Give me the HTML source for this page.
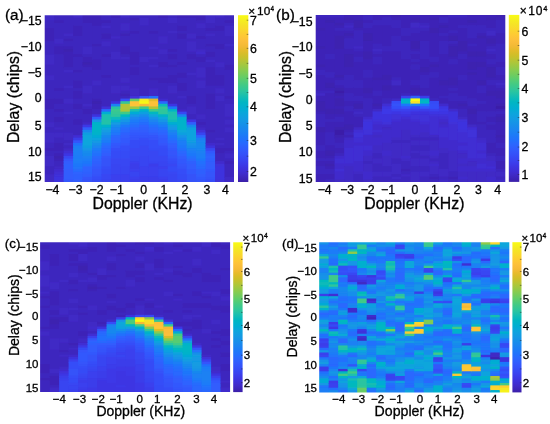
<!DOCTYPE html>
<html lang="en"><head><meta charset="utf-8"><title>Delay-Doppler maps</title>
<style>
html,body{margin:0;padding:0;background:#fff}
svg{display:block}
text{font-family:"Liberation Sans",Arial,sans-serif;fill:#000;stroke:#000;stroke-width:0.3px}
</style></head><body>
<svg width="550" height="424" viewBox="0 0 550 424">
<defs><filter id="soft" x="-2%" y="-2%" width="104%" height="104%"><feGaussianBlur stdDeviation="0.65"/></filter></defs>
<rect width="550" height="424" fill="#fff"/>
<g class="hm" id="hm-a">
<clipPath id="clip-a"><rect x="44.70" y="15.20" width="189.30" height="166.80"/></clipPath>
<g clip-path="url(#clip-a)"><g filter="url(#soft)">
<g transform="translate(41.70 0)">
<rect y="12.20" width="13.46" height="9.21" fill="#4029c5"/>
<rect y="20.41" width="13.46" height="8.82" fill="#3e27be"/>
<rect y="28.23" width="13.46" height="14.03" fill="#3d24b7"/>
<rect y="41.26" width="13.46" height="14.03" fill="#3e27be"/>
<rect y="54.29" width="13.46" height="11.42" fill="#4029c5"/>
<rect y="64.72" width="13.46" height="11.42" fill="#3e27be"/>
<rect y="75.14" width="13.46" height="6.21" fill="#4029c5"/>
<rect y="80.36" width="13.46" height="19.24" fill="#3e27be"/>
<rect y="98.60" width="13.46" height="11.42" fill="#3d24b7"/>
<rect y="109.03" width="13.46" height="14.03" fill="#3e27be"/>
<rect y="122.06" width="13.46" height="6.21" fill="#4029c5"/>
<rect y="127.27" width="13.46" height="6.21" fill="#3e27be"/>
<rect y="132.48" width="13.46" height="11.42" fill="#4029c5"/>
<rect y="142.91" width="13.46" height="6.21" fill="#3e27be"/>
<rect y="148.12" width="13.46" height="3.61" fill="#3d24b7"/>
<rect y="150.72" width="13.46" height="6.21" fill="#3e27be"/>
<rect y="155.94" width="13.46" height="11.43" fill="#4029c5"/>
<rect y="166.36" width="13.46" height="8.82" fill="#3e27be"/>
<rect y="174.18" width="13.46" height="10.82" fill="#4029c5"/>
</g>
<g transform="translate(54.17 0)">
<rect y="12.20" width="10.46" height="9.21" fill="#3e27be"/>
<rect y="20.41" width="10.46" height="3.61" fill="#3d24b7"/>
<rect y="23.02" width="10.46" height="16.64" fill="#3e27be"/>
<rect y="38.66" width="10.46" height="6.21" fill="#4029c5"/>
<rect y="43.87" width="10.46" height="3.61" fill="#3e27be"/>
<rect y="46.48" width="10.46" height="8.82" fill="#3d24b7"/>
<rect y="54.29" width="10.46" height="34.88" fill="#3e27be"/>
<rect y="88.18" width="10.46" height="3.61" fill="#3d24b7"/>
<rect y="90.78" width="10.46" height="8.82" fill="#3e27be"/>
<rect y="98.60" width="10.46" height="6.21" fill="#3d24b7"/>
<rect y="103.81" width="10.46" height="6.21" fill="#3e27be"/>
<rect y="109.03" width="10.46" height="3.61" fill="#3d24b7"/>
<rect y="111.63" width="10.46" height="6.21" fill="#3e27be"/>
<rect y="116.84" width="10.46" height="6.21" fill="#3d24b7"/>
<rect y="122.06" width="10.46" height="6.21" fill="#3e27be"/>
<rect y="127.27" width="10.46" height="3.61" fill="#4029c5"/>
<rect y="129.88" width="10.46" height="3.61" fill="#3e27be"/>
<rect y="132.48" width="10.46" height="6.21" fill="#4029c5"/>
<rect y="137.69" width="10.46" height="6.21" fill="#3e27be"/>
<rect y="142.91" width="10.46" height="8.82" fill="#3d24b7"/>
<rect y="150.72" width="10.46" height="3.61" fill="#3e27be"/>
<rect y="153.33" width="10.46" height="3.61" fill="#3d24b7"/>
<rect y="155.94" width="10.46" height="3.61" fill="#3c22b0"/>
<rect y="158.54" width="10.46" height="3.61" fill="#3d24b7"/>
<rect y="161.15" width="10.46" height="6.21" fill="#3e27be"/>
<rect y="166.36" width="10.46" height="3.61" fill="#4029c5"/>
<rect y="168.97" width="10.46" height="3.61" fill="#402ccc"/>
<rect y="171.57" width="10.46" height="3.61" fill="#402dd3"/>
<rect y="174.18" width="10.46" height="3.61" fill="#3f30d9"/>
<rect y="176.79" width="10.46" height="8.21" fill="#3e32de"/>
</g>
<g transform="translate(63.63 0)">
<rect y="12.20" width="10.46" height="22.24" fill="#3e27be"/>
<rect y="33.44" width="10.46" height="3.61" fill="#4029c5"/>
<rect y="36.05" width="10.46" height="3.61" fill="#3e27be"/>
<rect y="38.66" width="10.46" height="3.61" fill="#3d24b7"/>
<rect y="41.26" width="10.46" height="6.21" fill="#3e27be"/>
<rect y="46.48" width="10.46" height="3.61" fill="#3d24b7"/>
<rect y="49.08" width="10.46" height="3.61" fill="#3c22b0"/>
<rect y="51.69" width="10.46" height="16.64" fill="#3d24b7"/>
<rect y="67.33" width="10.46" height="3.61" fill="#3e27be"/>
<rect y="69.93" width="10.46" height="3.61" fill="#4029c5"/>
<rect y="72.54" width="10.46" height="14.03" fill="#3e27be"/>
<rect y="85.57" width="10.46" height="3.61" fill="#4029c5"/>
<rect y="88.18" width="10.46" height="11.42" fill="#3e27be"/>
<rect y="98.60" width="10.46" height="6.21" fill="#4029c5"/>
<rect y="103.81" width="10.46" height="8.82" fill="#3e27be"/>
<rect y="111.63" width="10.46" height="3.61" fill="#4029c5"/>
<rect y="114.24" width="10.46" height="19.24" fill="#3e27be"/>
<rect y="132.48" width="10.46" height="8.82" fill="#4029c5"/>
<rect y="140.30" width="10.46" height="3.61" fill="#3e27be"/>
<rect y="142.91" width="10.46" height="3.61" fill="#4029c5"/>
<rect y="145.51" width="10.46" height="3.61" fill="#3e27be"/>
<rect y="148.12" width="10.46" height="3.61" fill="#4029c5"/>
<rect y="150.72" width="10.46" height="3.61" fill="#402dd3"/>
<rect y="153.33" width="10.46" height="3.61" fill="#3d35e3"/>
<rect y="155.94" width="10.46" height="3.61" fill="#3847f3"/>
<rect y="158.54" width="10.46" height="3.61" fill="#3455fb"/>
<rect y="161.15" width="10.46" height="3.61" fill="#315dfd"/>
<rect y="163.76" width="10.46" height="6.21" fill="#2f60fe"/>
<rect y="168.97" width="10.46" height="11.43" fill="#315dfd"/>
<rect y="179.39" width="10.46" height="5.61" fill="#3359fd"/>
</g>
<g transform="translate(73.09 0)">
<rect y="12.20" width="10.46" height="6.61" fill="#4029c5"/>
<rect y="17.81" width="10.46" height="8.82" fill="#3e27be"/>
<rect y="25.62" width="10.46" height="11.42" fill="#3d24b7"/>
<rect y="36.05" width="10.46" height="19.24" fill="#3e27be"/>
<rect y="54.29" width="10.46" height="3.61" fill="#3d24b7"/>
<rect y="56.90" width="10.46" height="14.03" fill="#3e27be"/>
<rect y="69.93" width="10.46" height="3.61" fill="#3d24b7"/>
<rect y="72.54" width="10.46" height="8.82" fill="#3e27be"/>
<rect y="80.36" width="10.46" height="8.82" fill="#3d24b7"/>
<rect y="88.18" width="10.46" height="3.61" fill="#3e27be"/>
<rect y="90.78" width="10.46" height="8.82" fill="#3d24b7"/>
<rect y="98.60" width="10.46" height="6.21" fill="#3e27be"/>
<rect y="103.81" width="10.46" height="6.21" fill="#3d24b7"/>
<rect y="109.03" width="10.46" height="11.42" fill="#3e27be"/>
<rect y="119.45" width="10.46" height="6.21" fill="#3d24b7"/>
<rect y="124.66" width="10.46" height="11.42" fill="#3e27be"/>
<rect y="135.09" width="10.46" height="3.61" fill="#402dd3"/>
<rect y="137.69" width="10.46" height="3.61" fill="#3b3cea"/>
<rect y="140.30" width="10.46" height="3.61" fill="#3455fb"/>
<rect y="142.91" width="10.46" height="3.61" fill="#2270fd"/>
<rect y="145.51" width="10.46" height="3.61" fill="#1b7ef6"/>
<rect y="148.12" width="10.46" height="3.61" fill="#1b81f3"/>
<rect y="150.72" width="10.46" height="6.21" fill="#1b7ef6"/>
<rect y="155.94" width="10.46" height="3.61" fill="#1c7bf8"/>
<rect y="158.54" width="10.46" height="3.61" fill="#1b7ef6"/>
<rect y="161.15" width="10.46" height="3.61" fill="#1c7bf8"/>
<rect y="163.76" width="10.46" height="3.61" fill="#1e77fa"/>
<rect y="166.36" width="10.46" height="3.61" fill="#2074fb"/>
<rect y="168.97" width="10.46" height="3.61" fill="#256cfd"/>
<rect y="171.57" width="10.46" height="3.61" fill="#2d64ff"/>
<rect y="174.18" width="10.46" height="6.21" fill="#2f60fe"/>
<rect y="179.39" width="10.46" height="5.61" fill="#315dfd"/>
</g>
<g transform="translate(82.56 0)">
<rect y="12.20" width="10.46" height="11.82" fill="#3d24b7"/>
<rect y="23.02" width="10.46" height="24.46" fill="#3e27be"/>
<rect y="46.48" width="10.46" height="8.82" fill="#4029c5"/>
<rect y="54.29" width="10.46" height="3.61" fill="#3e27be"/>
<rect y="56.90" width="10.46" height="6.21" fill="#3d24b7"/>
<rect y="62.11" width="10.46" height="3.61" fill="#3c22b0"/>
<rect y="64.72" width="10.46" height="3.61" fill="#3d24b7"/>
<rect y="67.33" width="10.46" height="19.24" fill="#3e27be"/>
<rect y="85.57" width="10.46" height="8.82" fill="#4029c5"/>
<rect y="93.39" width="10.46" height="11.43" fill="#3e27be"/>
<rect y="103.81" width="10.46" height="3.61" fill="#4029c5"/>
<rect y="106.42" width="10.46" height="3.61" fill="#3e27be"/>
<rect y="109.03" width="10.46" height="6.21" fill="#3d24b7"/>
<rect y="114.24" width="10.46" height="8.82" fill="#3e27be"/>
<rect y="122.06" width="10.46" height="3.61" fill="#4029c5"/>
<rect y="124.66" width="10.46" height="3.61" fill="#3c39e7"/>
<rect y="127.27" width="10.46" height="3.61" fill="#315dfd"/>
<rect y="129.88" width="10.46" height="3.61" fill="#1988ee"/>
<rect y="132.48" width="10.46" height="3.61" fill="#109fe0"/>
<rect y="135.09" width="10.46" height="11.42" fill="#0ca6dc"/>
<rect y="145.51" width="10.46" height="3.61" fill="#109fe0"/>
<rect y="148.12" width="10.46" height="3.61" fill="#1496e6"/>
<rect y="150.72" width="10.46" height="3.61" fill="#188cec"/>
<rect y="153.33" width="10.46" height="3.61" fill="#1988ee"/>
<rect y="155.94" width="10.46" height="3.61" fill="#1b81f3"/>
<rect y="158.54" width="10.46" height="3.61" fill="#1c7bf8"/>
<rect y="161.15" width="10.46" height="3.61" fill="#1e77fa"/>
<rect y="163.76" width="10.46" height="3.61" fill="#2270fd"/>
<rect y="166.36" width="10.46" height="6.21" fill="#2d64ff"/>
<rect y="171.57" width="10.46" height="3.61" fill="#2f60fe"/>
<rect y="174.18" width="10.46" height="3.61" fill="#315dfd"/>
<rect y="176.79" width="10.46" height="3.61" fill="#3455fb"/>
<rect y="179.39" width="10.46" height="5.61" fill="#3552f9"/>
</g>
<g transform="translate(92.03 0)">
<rect y="12.20" width="10.46" height="14.43" fill="#3d24b7"/>
<rect y="25.62" width="10.46" height="19.24" fill="#3e27be"/>
<rect y="43.87" width="10.46" height="3.61" fill="#3d24b7"/>
<rect y="46.48" width="10.46" height="14.03" fill="#3e27be"/>
<rect y="59.51" width="10.46" height="11.42" fill="#3d24b7"/>
<rect y="69.93" width="10.46" height="11.42" fill="#3e27be"/>
<rect y="80.36" width="10.46" height="6.21" fill="#4029c5"/>
<rect y="85.57" width="10.46" height="14.03" fill="#3e27be"/>
<rect y="98.60" width="10.46" height="3.61" fill="#3d24b7"/>
<rect y="101.21" width="10.46" height="3.61" fill="#3c22b0"/>
<rect y="103.81" width="10.46" height="6.21" fill="#3d24b7"/>
<rect y="109.03" width="10.46" height="6.21" fill="#3e27be"/>
<rect y="114.24" width="10.46" height="3.61" fill="#3e32de"/>
<rect y="116.84" width="10.46" height="3.61" fill="#315dfd"/>
<rect y="119.45" width="10.46" height="3.61" fill="#1496e6"/>
<rect y="122.06" width="10.46" height="3.61" fill="#00b2ca"/>
<rect y="124.66" width="10.46" height="8.82" fill="#00b4c6"/>
<rect y="132.48" width="10.46" height="3.61" fill="#00b2ca"/>
<rect y="135.09" width="10.46" height="3.61" fill="#04abd5"/>
<rect y="137.69" width="10.46" height="3.61" fill="#0fa3de"/>
<rect y="140.30" width="10.46" height="3.61" fill="#1399e4"/>
<rect y="142.91" width="10.46" height="3.61" fill="#168fea"/>
<rect y="145.51" width="10.46" height="3.61" fill="#1a85f0"/>
<rect y="148.12" width="10.46" height="3.61" fill="#1c7bf8"/>
<rect y="150.72" width="10.46" height="3.61" fill="#2074fb"/>
<rect y="153.33" width="10.46" height="3.61" fill="#2270fd"/>
<rect y="155.94" width="10.46" height="3.61" fill="#2968fe"/>
<rect y="158.54" width="10.46" height="3.61" fill="#2d64ff"/>
<rect y="161.15" width="10.46" height="3.61" fill="#2f60fe"/>
<rect y="163.76" width="10.46" height="3.61" fill="#315dfd"/>
<rect y="166.36" width="10.46" height="3.61" fill="#3359fd"/>
<rect y="168.97" width="10.46" height="6.21" fill="#3455fb"/>
<rect y="174.18" width="10.46" height="3.61" fill="#3552f9"/>
<rect y="176.79" width="10.46" height="3.61" fill="#354ef8"/>
<rect y="179.39" width="10.46" height="5.61" fill="#364bf6"/>
</g>
<g transform="translate(101.49 0)">
<rect y="12.20" width="10.46" height="9.21" fill="#3e27be"/>
<rect y="20.41" width="10.46" height="3.61" fill="#3d24b7"/>
<rect y="23.02" width="10.46" height="3.61" fill="#3e27be"/>
<rect y="25.62" width="10.46" height="3.61" fill="#4029c5"/>
<rect y="28.23" width="10.46" height="6.21" fill="#3e27be"/>
<rect y="33.44" width="10.46" height="6.21" fill="#3d24b7"/>
<rect y="38.66" width="10.46" height="3.61" fill="#3e27be"/>
<rect y="41.26" width="10.46" height="6.21" fill="#4029c5"/>
<rect y="46.48" width="10.46" height="8.82" fill="#3e27be"/>
<rect y="54.29" width="10.46" height="3.61" fill="#3d24b7"/>
<rect y="56.90" width="10.46" height="19.24" fill="#3e27be"/>
<rect y="75.14" width="10.46" height="3.61" fill="#3d24b7"/>
<rect y="77.75" width="10.46" height="29.67" fill="#3e27be"/>
<rect y="106.42" width="10.46" height="3.61" fill="#3f30d9"/>
<rect y="109.03" width="10.46" height="3.61" fill="#2968fe"/>
<rect y="111.63" width="10.46" height="3.61" fill="#00aed2"/>
<rect y="114.24" width="10.46" height="6.21" fill="#1bc0ae"/>
<rect y="119.45" width="10.46" height="6.21" fill="#23c2a8"/>
<rect y="124.66" width="10.46" height="3.61" fill="#00b4c6"/>
<rect y="127.27" width="10.46" height="3.61" fill="#08a8d9"/>
<rect y="129.88" width="10.46" height="3.61" fill="#129ce2"/>
<rect y="132.48" width="10.46" height="3.61" fill="#1593e8"/>
<rect y="135.09" width="10.46" height="3.61" fill="#1988ee"/>
<rect y="137.69" width="10.46" height="3.61" fill="#1b81f3"/>
<rect y="140.30" width="10.46" height="3.61" fill="#1c7bf8"/>
<rect y="142.91" width="10.46" height="3.61" fill="#2270fd"/>
<rect y="145.51" width="10.46" height="3.61" fill="#2968fe"/>
<rect y="148.12" width="10.46" height="3.61" fill="#2d64ff"/>
<rect y="150.72" width="10.46" height="3.61" fill="#2f60fe"/>
<rect y="153.33" width="10.46" height="3.61" fill="#315dfd"/>
<rect y="155.94" width="10.46" height="3.61" fill="#3455fb"/>
<rect y="158.54" width="10.46" height="8.82" fill="#3552f9"/>
<rect y="166.36" width="10.46" height="3.61" fill="#354ef8"/>
<rect y="168.97" width="10.46" height="6.21" fill="#364bf6"/>
<rect y="174.18" width="10.46" height="6.21" fill="#3847f3"/>
<rect y="179.39" width="10.46" height="5.61" fill="#3944f1"/>
</g>
<g transform="translate(110.95 0)">
<rect y="12.20" width="10.46" height="6.61" fill="#3d24b7"/>
<rect y="17.81" width="10.46" height="19.24" fill="#3e27be"/>
<rect y="36.05" width="10.46" height="3.61" fill="#4029c5"/>
<rect y="38.66" width="10.46" height="14.03" fill="#3e27be"/>
<rect y="51.69" width="10.46" height="8.82" fill="#4029c5"/>
<rect y="59.51" width="10.46" height="27.06" fill="#3e27be"/>
<rect y="85.57" width="10.46" height="8.82" fill="#4029c5"/>
<rect y="93.39" width="10.46" height="8.82" fill="#3e27be"/>
<rect y="101.21" width="10.46" height="3.61" fill="#3e32de"/>
<rect y="103.81" width="10.46" height="3.61" fill="#1b81f3"/>
<rect y="106.42" width="10.46" height="3.61" fill="#29c4a1"/>
<rect y="109.03" width="10.46" height="3.61" fill="#3ac98e"/>
<rect y="111.63" width="10.46" height="3.61" fill="#34c795"/>
<rect y="114.24" width="10.46" height="3.61" fill="#2fc69b"/>
<rect y="116.84" width="10.46" height="3.61" fill="#0dbbb9"/>
<rect y="119.45" width="10.46" height="3.61" fill="#04abd5"/>
<rect y="122.06" width="10.46" height="3.61" fill="#129ce2"/>
<rect y="124.66" width="10.46" height="3.61" fill="#188cec"/>
<rect y="127.27" width="10.46" height="3.61" fill="#1b81f3"/>
<rect y="129.88" width="10.46" height="3.61" fill="#1c7bf8"/>
<rect y="132.48" width="10.46" height="3.61" fill="#2074fb"/>
<rect y="135.09" width="10.46" height="3.61" fill="#2968fe"/>
<rect y="137.69" width="10.46" height="3.61" fill="#2d64ff"/>
<rect y="140.30" width="10.46" height="3.61" fill="#2f60fe"/>
<rect y="142.91" width="10.46" height="3.61" fill="#3359fd"/>
<rect y="145.51" width="10.46" height="3.61" fill="#3455fb"/>
<rect y="148.12" width="10.46" height="3.61" fill="#354ef8"/>
<rect y="150.72" width="10.46" height="8.82" fill="#364bf6"/>
<rect y="158.54" width="10.46" height="6.21" fill="#3847f3"/>
<rect y="163.76" width="10.46" height="11.43" fill="#3944f1"/>
<rect y="174.18" width="10.46" height="10.82" fill="#3a40ee"/>
</g>
<g transform="translate(120.42 0)">
<rect y="12.20" width="10.46" height="6.61" fill="#4029c5"/>
<rect y="17.81" width="10.46" height="6.21" fill="#3e27be"/>
<rect y="23.02" width="10.46" height="8.82" fill="#4029c5"/>
<rect y="30.84" width="10.46" height="3.61" fill="#3e27be"/>
<rect y="33.44" width="10.46" height="3.61" fill="#3d24b7"/>
<rect y="36.05" width="10.46" height="11.43" fill="#3e27be"/>
<rect y="46.48" width="10.46" height="8.82" fill="#3d24b7"/>
<rect y="54.29" width="10.46" height="3.61" fill="#3e27be"/>
<rect y="56.90" width="10.46" height="3.61" fill="#4029c5"/>
<rect y="59.51" width="10.46" height="19.24" fill="#3e27be"/>
<rect y="77.75" width="10.46" height="6.21" fill="#4029c5"/>
<rect y="82.96" width="10.46" height="3.61" fill="#3e27be"/>
<rect y="85.57" width="10.46" height="6.21" fill="#4029c5"/>
<rect y="90.78" width="10.46" height="3.61" fill="#3e27be"/>
<rect y="93.39" width="10.46" height="3.61" fill="#3d24b7"/>
<rect y="95.99" width="10.46" height="3.61" fill="#3e27be"/>
<rect y="98.60" width="10.46" height="3.61" fill="#354ef8"/>
<rect y="101.21" width="10.46" height="3.61" fill="#34c795"/>
<rect y="103.81" width="10.46" height="6.21" fill="#b1c537"/>
<rect y="109.03" width="10.46" height="3.61" fill="#a9c63c"/>
<rect y="111.63" width="10.46" height="3.61" fill="#40ca87"/>
<rect y="114.24" width="10.46" height="3.61" fill="#06b9bd"/>
<rect y="116.84" width="10.46" height="3.61" fill="#0ca6dc"/>
<rect y="119.45" width="10.46" height="3.61" fill="#1496e6"/>
<rect y="122.06" width="10.46" height="3.61" fill="#1988ee"/>
<rect y="124.66" width="10.46" height="3.61" fill="#1e77fa"/>
<rect y="127.27" width="10.46" height="3.61" fill="#256cfd"/>
<rect y="129.88" width="10.46" height="3.61" fill="#2968fe"/>
<rect y="132.48" width="10.46" height="3.61" fill="#2f60fe"/>
<rect y="135.09" width="10.46" height="3.61" fill="#315dfd"/>
<rect y="137.69" width="10.46" height="6.21" fill="#3359fd"/>
<rect y="142.91" width="10.46" height="3.61" fill="#3455fb"/>
<rect y="145.51" width="10.46" height="6.21" fill="#354ef8"/>
<rect y="150.72" width="10.46" height="8.82" fill="#364bf6"/>
<rect y="158.54" width="10.46" height="8.82" fill="#3847f3"/>
<rect y="166.36" width="10.46" height="8.82" fill="#3944f1"/>
<rect y="174.18" width="10.46" height="10.82" fill="#3a40ee"/>
</g>
<g transform="translate(129.88 0)">
<rect y="12.20" width="10.46" height="6.61" fill="#3e27be"/>
<rect y="17.81" width="10.46" height="3.61" fill="#3d24b7"/>
<rect y="20.41" width="10.46" height="11.42" fill="#3e27be"/>
<rect y="30.84" width="10.46" height="3.61" fill="#3d24b7"/>
<rect y="33.44" width="10.46" height="19.24" fill="#3e27be"/>
<rect y="51.69" width="10.46" height="14.03" fill="#3d24b7"/>
<rect y="64.72" width="10.46" height="3.61" fill="#3e27be"/>
<rect y="67.33" width="10.46" height="8.82" fill="#3d24b7"/>
<rect y="75.14" width="10.46" height="14.03" fill="#3e27be"/>
<rect y="88.18" width="10.46" height="8.82" fill="#4029c5"/>
<rect y="95.99" width="10.46" height="3.61" fill="#3f30d9"/>
<rect y="98.60" width="10.46" height="3.61" fill="#66cd66"/>
<rect y="101.21" width="10.46" height="6.21" fill="#fdc339"/>
<rect y="106.42" width="10.46" height="3.61" fill="#99c945"/>
<rect y="109.03" width="10.46" height="3.61" fill="#1bc0ae"/>
<rect y="111.63" width="10.46" height="3.61" fill="#04abd5"/>
<rect y="114.24" width="10.46" height="3.61" fill="#1496e6"/>
<rect y="116.84" width="10.46" height="3.61" fill="#1a85f0"/>
<rect y="119.45" width="10.46" height="3.61" fill="#1c7bf8"/>
<rect y="122.06" width="10.46" height="3.61" fill="#2074fb"/>
<rect y="124.66" width="10.46" height="3.61" fill="#256cfd"/>
<rect y="127.27" width="10.46" height="3.61" fill="#2d64ff"/>
<rect y="129.88" width="10.46" height="3.61" fill="#315dfd"/>
<rect y="132.48" width="10.46" height="3.61" fill="#3359fd"/>
<rect y="135.09" width="10.46" height="3.61" fill="#3455fb"/>
<rect y="137.69" width="10.46" height="3.61" fill="#3552f9"/>
<rect y="140.30" width="10.46" height="8.82" fill="#364bf6"/>
<rect y="148.12" width="10.46" height="8.82" fill="#3847f3"/>
<rect y="155.94" width="10.46" height="6.21" fill="#3944f1"/>
<rect y="161.15" width="10.46" height="3.61" fill="#3a40ee"/>
<rect y="163.76" width="10.46" height="6.21" fill="#3b3cea"/>
<rect y="168.97" width="10.46" height="3.61" fill="#3a40ee"/>
<rect y="171.57" width="10.46" height="6.21" fill="#3944f1"/>
<rect y="176.79" width="10.46" height="3.61" fill="#3a40ee"/>
<rect y="179.39" width="10.46" height="5.61" fill="#3b3cea"/>
</g>
<g transform="translate(139.35 0)">
<rect y="12.20" width="10.46" height="6.61" fill="#3e27be"/>
<rect y="17.81" width="10.46" height="8.82" fill="#4029c5"/>
<rect y="25.62" width="10.46" height="32.28" fill="#3e27be"/>
<rect y="56.90" width="10.46" height="6.21" fill="#4029c5"/>
<rect y="62.11" width="10.46" height="34.88" fill="#3e27be"/>
<rect y="95.99" width="10.46" height="3.61" fill="#3552f9"/>
<rect y="98.60" width="10.46" height="3.61" fill="#f5ee21"/>
<rect y="101.21" width="10.46" height="3.61" fill="#f8f719"/>
<rect y="103.81" width="10.46" height="3.61" fill="#f5ba36"/>
<rect y="106.42" width="10.46" height="3.61" fill="#40ca87"/>
<rect y="109.03" width="10.46" height="3.61" fill="#00b2ca"/>
<rect y="111.63" width="10.46" height="3.61" fill="#109fe0"/>
<rect y="114.24" width="10.46" height="3.61" fill="#188cec"/>
<rect y="116.84" width="10.46" height="3.61" fill="#1b7ef6"/>
<rect y="119.45" width="10.46" height="3.61" fill="#2074fb"/>
<rect y="122.06" width="10.46" height="3.61" fill="#256cfd"/>
<rect y="124.66" width="10.46" height="3.61" fill="#2d64ff"/>
<rect y="127.27" width="10.46" height="3.61" fill="#2f60fe"/>
<rect y="129.88" width="10.46" height="3.61" fill="#315dfd"/>
<rect y="132.48" width="10.46" height="3.61" fill="#3359fd"/>
<rect y="135.09" width="10.46" height="3.61" fill="#3455fb"/>
<rect y="137.69" width="10.46" height="3.61" fill="#354ef8"/>
<rect y="140.30" width="10.46" height="6.21" fill="#364bf6"/>
<rect y="145.51" width="10.46" height="11.43" fill="#3847f3"/>
<rect y="155.94" width="10.46" height="11.43" fill="#3944f1"/>
<rect y="166.36" width="10.46" height="11.42" fill="#3a40ee"/>
<rect y="176.79" width="10.46" height="8.21" fill="#3b3cea"/>
</g>
<g transform="translate(148.81 0)">
<rect y="12.20" width="10.46" height="19.64" fill="#3e27be"/>
<rect y="30.84" width="10.46" height="3.61" fill="#3d24b7"/>
<rect y="33.44" width="10.46" height="14.03" fill="#3e27be"/>
<rect y="46.48" width="10.46" height="3.61" fill="#4029c5"/>
<rect y="49.08" width="10.46" height="8.82" fill="#3e27be"/>
<rect y="56.90" width="10.46" height="3.61" fill="#4029c5"/>
<rect y="59.51" width="10.46" height="6.21" fill="#3e27be"/>
<rect y="64.72" width="10.46" height="3.61" fill="#4029c5"/>
<rect y="67.33" width="10.46" height="11.42" fill="#3e27be"/>
<rect y="77.75" width="10.46" height="3.61" fill="#3d24b7"/>
<rect y="80.36" width="10.46" height="8.82" fill="#3e27be"/>
<rect y="88.18" width="10.46" height="8.82" fill="#4029c5"/>
<rect y="95.99" width="10.46" height="3.61" fill="#2270fd"/>
<rect y="98.60" width="10.46" height="3.61" fill="#e5bb2a"/>
<rect y="101.21" width="10.46" height="3.61" fill="#fdc339"/>
<rect y="103.81" width="10.46" height="3.61" fill="#fdbf3b"/>
<rect y="106.42" width="10.46" height="3.61" fill="#b1c537"/>
<rect y="109.03" width="10.46" height="3.61" fill="#40ca87"/>
<rect y="111.63" width="10.46" height="3.61" fill="#00b7c2"/>
<rect y="114.24" width="10.46" height="3.61" fill="#0ca6dc"/>
<rect y="116.84" width="10.46" height="3.61" fill="#1593e8"/>
<rect y="119.45" width="10.46" height="3.61" fill="#1a85f0"/>
<rect y="122.06" width="10.46" height="3.61" fill="#1c7bf8"/>
<rect y="124.66" width="10.46" height="3.61" fill="#2270fd"/>
<rect y="127.27" width="10.46" height="3.61" fill="#2968fe"/>
<rect y="129.88" width="10.46" height="3.61" fill="#2d64ff"/>
<rect y="132.48" width="10.46" height="3.61" fill="#315dfd"/>
<rect y="135.09" width="10.46" height="3.61" fill="#3455fb"/>
<rect y="137.69" width="10.46" height="3.61" fill="#3552f9"/>
<rect y="140.30" width="10.46" height="8.82" fill="#354ef8"/>
<rect y="148.12" width="10.46" height="3.61" fill="#364bf6"/>
<rect y="150.72" width="10.46" height="11.43" fill="#3847f3"/>
<rect y="161.15" width="10.46" height="3.61" fill="#3944f1"/>
<rect y="163.76" width="10.46" height="3.61" fill="#3b3cea"/>
<rect y="166.36" width="10.46" height="11.42" fill="#3a40ee"/>
<rect y="176.79" width="10.46" height="8.21" fill="#3b3cea"/>
</g>
<g transform="translate(158.28 0)">
<rect y="12.20" width="10.46" height="6.61" fill="#3d24b7"/>
<rect y="17.81" width="10.46" height="19.24" fill="#3e27be"/>
<rect y="36.05" width="10.46" height="8.82" fill="#4029c5"/>
<rect y="43.87" width="10.46" height="6.21" fill="#3e27be"/>
<rect y="49.08" width="10.46" height="6.21" fill="#4029c5"/>
<rect y="54.29" width="10.46" height="8.82" fill="#3e27be"/>
<rect y="62.11" width="10.46" height="6.21" fill="#3d24b7"/>
<rect y="67.33" width="10.46" height="11.42" fill="#3e27be"/>
<rect y="77.75" width="10.46" height="6.21" fill="#3d24b7"/>
<rect y="82.96" width="10.46" height="16.64" fill="#3e27be"/>
<rect y="98.60" width="10.46" height="3.61" fill="#402ccc"/>
<rect y="101.21" width="10.46" height="3.61" fill="#2968fe"/>
<rect y="103.81" width="10.46" height="3.61" fill="#0dbbb9"/>
<rect y="106.42" width="10.46" height="3.61" fill="#34c795"/>
<rect y="109.03" width="10.46" height="6.21" fill="#2fc69b"/>
<rect y="114.24" width="10.46" height="3.61" fill="#00b4c6"/>
<rect y="116.84" width="10.46" height="3.61" fill="#0ca6dc"/>
<rect y="119.45" width="10.46" height="3.61" fill="#1496e6"/>
<rect y="122.06" width="10.46" height="3.61" fill="#1988ee"/>
<rect y="124.66" width="10.46" height="3.61" fill="#1c7bf8"/>
<rect y="127.27" width="10.46" height="3.61" fill="#2270fd"/>
<rect y="129.88" width="10.46" height="3.61" fill="#2968fe"/>
<rect y="132.48" width="10.46" height="3.61" fill="#2d64ff"/>
<rect y="135.09" width="10.46" height="3.61" fill="#315dfd"/>
<rect y="137.69" width="10.46" height="6.21" fill="#3359fd"/>
<rect y="142.91" width="10.46" height="3.61" fill="#3455fb"/>
<rect y="145.51" width="10.46" height="3.61" fill="#354ef8"/>
<rect y="148.12" width="10.46" height="8.82" fill="#364bf6"/>
<rect y="155.94" width="10.46" height="6.21" fill="#3847f3"/>
<rect y="161.15" width="10.46" height="6.21" fill="#3944f1"/>
<rect y="166.36" width="10.46" height="3.61" fill="#3a40ee"/>
<rect y="168.97" width="10.46" height="8.82" fill="#3944f1"/>
<rect y="176.79" width="10.46" height="3.61" fill="#3a40ee"/>
<rect y="179.39" width="10.46" height="5.61" fill="#3b3cea"/>
</g>
<g transform="translate(167.75 0)">
<rect y="12.20" width="10.46" height="6.61" fill="#3e27be"/>
<rect y="17.81" width="10.46" height="6.21" fill="#4029c5"/>
<rect y="23.02" width="10.46" height="8.82" fill="#3e27be"/>
<rect y="30.84" width="10.46" height="3.61" fill="#4029c5"/>
<rect y="33.44" width="10.46" height="16.64" fill="#3e27be"/>
<rect y="49.08" width="10.46" height="3.61" fill="#3d24b7"/>
<rect y="51.69" width="10.46" height="3.61" fill="#3e27be"/>
<rect y="54.29" width="10.46" height="6.21" fill="#3d24b7"/>
<rect y="59.51" width="10.46" height="6.21" fill="#3e27be"/>
<rect y="64.72" width="10.46" height="3.61" fill="#3d24b7"/>
<rect y="67.33" width="10.46" height="8.82" fill="#3e27be"/>
<rect y="75.14" width="10.46" height="8.82" fill="#3d24b7"/>
<rect y="82.96" width="10.46" height="3.61" fill="#3e27be"/>
<rect y="85.57" width="10.46" height="8.82" fill="#4029c5"/>
<rect y="93.39" width="10.46" height="11.43" fill="#3e27be"/>
<rect y="103.81" width="10.46" height="3.61" fill="#3d35e3"/>
<rect y="106.42" width="10.46" height="3.61" fill="#1e77fa"/>
<rect y="109.03" width="10.46" height="3.61" fill="#00b4c6"/>
<rect y="111.63" width="10.46" height="8.82" fill="#1bc0ae"/>
<rect y="119.45" width="10.46" height="3.61" fill="#0dbbb9"/>
<rect y="122.06" width="10.46" height="3.61" fill="#00aed2"/>
<rect y="124.66" width="10.46" height="3.61" fill="#109fe0"/>
<rect y="127.27" width="10.46" height="3.61" fill="#1496e6"/>
<rect y="129.88" width="10.46" height="3.61" fill="#1988ee"/>
<rect y="132.48" width="10.46" height="3.61" fill="#1b7ef6"/>
<rect y="135.09" width="10.46" height="3.61" fill="#1e77fa"/>
<rect y="137.69" width="10.46" height="3.61" fill="#2270fd"/>
<rect y="140.30" width="10.46" height="3.61" fill="#2968fe"/>
<rect y="142.91" width="10.46" height="3.61" fill="#2f60fe"/>
<rect y="145.51" width="10.46" height="3.61" fill="#315dfd"/>
<rect y="148.12" width="10.46" height="3.61" fill="#3359fd"/>
<rect y="150.72" width="10.46" height="6.21" fill="#3455fb"/>
<rect y="155.94" width="10.46" height="3.61" fill="#3552f9"/>
<rect y="158.54" width="10.46" height="3.61" fill="#354ef8"/>
<rect y="161.15" width="10.46" height="3.61" fill="#364bf6"/>
<rect y="163.76" width="10.46" height="3.61" fill="#3847f3"/>
<rect y="166.36" width="10.46" height="6.21" fill="#364bf6"/>
<rect y="171.57" width="10.46" height="3.61" fill="#3847f3"/>
<rect y="174.18" width="10.46" height="10.82" fill="#3944f1"/>
</g>
<g transform="translate(177.21 0)">
<rect y="12.20" width="10.46" height="6.61" fill="#3d24b7"/>
<rect y="17.81" width="10.46" height="8.82" fill="#3e27be"/>
<rect y="25.62" width="10.46" height="6.21" fill="#3d24b7"/>
<rect y="30.84" width="10.46" height="3.61" fill="#3e27be"/>
<rect y="33.44" width="10.46" height="6.21" fill="#3d24b7"/>
<rect y="38.66" width="10.46" height="24.46" fill="#3e27be"/>
<rect y="62.11" width="10.46" height="3.61" fill="#3d24b7"/>
<rect y="64.72" width="10.46" height="8.82" fill="#3e27be"/>
<rect y="72.54" width="10.46" height="6.21" fill="#3d24b7"/>
<rect y="77.75" width="10.46" height="6.21" fill="#3e27be"/>
<rect y="82.96" width="10.46" height="8.82" fill="#3d24b7"/>
<rect y="90.78" width="10.46" height="6.21" fill="#3e27be"/>
<rect y="95.99" width="10.46" height="3.61" fill="#4029c5"/>
<rect y="98.60" width="10.46" height="11.42" fill="#3e27be"/>
<rect y="109.03" width="10.46" height="3.61" fill="#4029c5"/>
<rect y="111.63" width="10.46" height="3.61" fill="#3847f3"/>
<rect y="114.24" width="10.46" height="3.61" fill="#1b81f3"/>
<rect y="116.84" width="10.46" height="3.61" fill="#00aed2"/>
<rect y="119.45" width="10.46" height="11.42" fill="#00b2ca"/>
<rect y="129.88" width="10.46" height="3.61" fill="#08a8d9"/>
<rect y="132.48" width="10.46" height="3.61" fill="#109fe0"/>
<rect y="135.09" width="10.46" height="3.61" fill="#1593e8"/>
<rect y="137.69" width="10.46" height="3.61" fill="#1988ee"/>
<rect y="140.30" width="10.46" height="3.61" fill="#1b7ef6"/>
<rect y="142.91" width="10.46" height="3.61" fill="#1c7bf8"/>
<rect y="145.51" width="10.46" height="3.61" fill="#1e77fa"/>
<rect y="148.12" width="10.46" height="3.61" fill="#2270fd"/>
<rect y="150.72" width="10.46" height="3.61" fill="#2968fe"/>
<rect y="153.33" width="10.46" height="3.61" fill="#2d64ff"/>
<rect y="155.94" width="10.46" height="3.61" fill="#315dfd"/>
<rect y="158.54" width="10.46" height="6.21" fill="#3359fd"/>
<rect y="163.76" width="10.46" height="3.61" fill="#3455fb"/>
<rect y="166.36" width="10.46" height="3.61" fill="#3552f9"/>
<rect y="168.97" width="10.46" height="6.21" fill="#354ef8"/>
<rect y="174.18" width="10.46" height="6.21" fill="#364bf6"/>
<rect y="179.39" width="10.46" height="5.61" fill="#3847f3"/>
</g>
<g transform="translate(186.68 0)">
<rect y="12.20" width="10.46" height="6.61" fill="#3d24b7"/>
<rect y="17.81" width="10.46" height="16.64" fill="#3e27be"/>
<rect y="33.44" width="10.46" height="6.21" fill="#4029c5"/>
<rect y="38.66" width="10.46" height="3.61" fill="#3e27be"/>
<rect y="41.26" width="10.46" height="11.42" fill="#4029c5"/>
<rect y="51.69" width="10.46" height="3.61" fill="#3e27be"/>
<rect y="54.29" width="10.46" height="6.21" fill="#3d24b7"/>
<rect y="59.51" width="10.46" height="14.03" fill="#3e27be"/>
<rect y="72.54" width="10.46" height="3.61" fill="#4029c5"/>
<rect y="75.14" width="10.46" height="21.85" fill="#3e27be"/>
<rect y="95.99" width="10.46" height="8.82" fill="#3d24b7"/>
<rect y="103.81" width="10.46" height="3.61" fill="#3e27be"/>
<rect y="106.42" width="10.46" height="8.82" fill="#4029c5"/>
<rect y="114.24" width="10.46" height="6.21" fill="#3e27be"/>
<rect y="119.45" width="10.46" height="3.61" fill="#3d35e3"/>
<rect y="122.06" width="10.46" height="3.61" fill="#315dfd"/>
<rect y="124.66" width="10.46" height="3.61" fill="#1988ee"/>
<rect y="127.27" width="10.46" height="3.61" fill="#109fe0"/>
<rect y="129.88" width="10.46" height="11.43" fill="#0fa3de"/>
<rect y="140.30" width="10.46" height="3.61" fill="#129ce2"/>
<rect y="142.91" width="10.46" height="3.61" fill="#1593e8"/>
<rect y="145.51" width="10.46" height="3.61" fill="#188cec"/>
<rect y="148.12" width="10.46" height="3.61" fill="#1b81f3"/>
<rect y="150.72" width="10.46" height="3.61" fill="#1c7bf8"/>
<rect y="153.33" width="10.46" height="3.61" fill="#1e77fa"/>
<rect y="155.94" width="10.46" height="3.61" fill="#2270fd"/>
<rect y="158.54" width="10.46" height="3.61" fill="#2968fe"/>
<rect y="161.15" width="10.46" height="3.61" fill="#2f60fe"/>
<rect y="163.76" width="10.46" height="6.21" fill="#315dfd"/>
<rect y="168.97" width="10.46" height="6.21" fill="#3359fd"/>
<rect y="174.18" width="10.46" height="10.82" fill="#3552f9"/>
</g>
<g transform="translate(196.14 0)">
<rect y="12.20" width="10.46" height="9.21" fill="#3d24b7"/>
<rect y="20.41" width="10.46" height="3.61" fill="#3e27be"/>
<rect y="23.02" width="10.46" height="6.21" fill="#4029c5"/>
<rect y="28.23" width="10.46" height="8.82" fill="#3e27be"/>
<rect y="36.05" width="10.46" height="3.61" fill="#3d24b7"/>
<rect y="38.66" width="10.46" height="11.42" fill="#3e27be"/>
<rect y="49.08" width="10.46" height="3.61" fill="#4029c5"/>
<rect y="51.69" width="10.46" height="3.61" fill="#402ccc"/>
<rect y="54.29" width="10.46" height="3.61" fill="#3e27be"/>
<rect y="56.90" width="10.46" height="6.21" fill="#3d24b7"/>
<rect y="62.11" width="10.46" height="6.21" fill="#3e27be"/>
<rect y="67.33" width="10.46" height="11.42" fill="#4029c5"/>
<rect y="77.75" width="10.46" height="3.61" fill="#3e27be"/>
<rect y="80.36" width="10.46" height="8.82" fill="#4029c5"/>
<rect y="88.18" width="10.46" height="27.06" fill="#3e27be"/>
<rect y="114.24" width="10.46" height="6.21" fill="#4029c5"/>
<rect y="119.45" width="10.46" height="3.61" fill="#3e27be"/>
<rect y="122.06" width="10.46" height="3.61" fill="#3d24b7"/>
<rect y="124.66" width="10.46" height="3.61" fill="#3e27be"/>
<rect y="127.27" width="10.46" height="3.61" fill="#4029c5"/>
<rect y="129.88" width="10.46" height="3.61" fill="#3f30d9"/>
<rect y="132.48" width="10.46" height="3.61" fill="#3944f1"/>
<rect y="135.09" width="10.46" height="3.61" fill="#2d64ff"/>
<rect y="137.69" width="10.46" height="3.61" fill="#1b7ef6"/>
<rect y="140.30" width="10.46" height="3.61" fill="#1a85f0"/>
<rect y="142.91" width="10.46" height="6.21" fill="#1988ee"/>
<rect y="148.12" width="10.46" height="3.61" fill="#1a85f0"/>
<rect y="150.72" width="10.46" height="3.61" fill="#1b81f3"/>
<rect y="153.33" width="10.46" height="6.21" fill="#1b7ef6"/>
<rect y="158.54" width="10.46" height="3.61" fill="#1e77fa"/>
<rect y="161.15" width="10.46" height="3.61" fill="#2270fd"/>
<rect y="163.76" width="10.46" height="3.61" fill="#256cfd"/>
<rect y="166.36" width="10.46" height="3.61" fill="#2968fe"/>
<rect y="168.97" width="10.46" height="6.21" fill="#2f60fe"/>
<rect y="174.18" width="10.46" height="3.61" fill="#315dfd"/>
<rect y="176.79" width="10.46" height="3.61" fill="#3359fd"/>
<rect y="179.39" width="10.46" height="5.61" fill="#3455fb"/>
</g>
<g transform="translate(205.61 0)">
<rect y="12.20" width="10.46" height="11.82" fill="#4029c5"/>
<rect y="23.02" width="10.46" height="6.21" fill="#3e27be"/>
<rect y="28.23" width="10.46" height="3.61" fill="#3d24b7"/>
<rect y="30.84" width="10.46" height="3.61" fill="#3e27be"/>
<rect y="33.44" width="10.46" height="3.61" fill="#4029c5"/>
<rect y="36.05" width="10.46" height="8.82" fill="#3e27be"/>
<rect y="43.87" width="10.46" height="3.61" fill="#3d24b7"/>
<rect y="46.48" width="10.46" height="6.21" fill="#3e27be"/>
<rect y="51.69" width="10.46" height="6.21" fill="#3d24b7"/>
<rect y="56.90" width="10.46" height="3.61" fill="#3e27be"/>
<rect y="59.51" width="10.46" height="3.61" fill="#4029c5"/>
<rect y="62.11" width="10.46" height="6.21" fill="#3e27be"/>
<rect y="67.33" width="10.46" height="19.24" fill="#3d24b7"/>
<rect y="85.57" width="10.46" height="8.82" fill="#3e27be"/>
<rect y="93.39" width="10.46" height="16.64" fill="#3d24b7"/>
<rect y="109.03" width="10.46" height="21.85" fill="#3e27be"/>
<rect y="129.88" width="10.46" height="3.61" fill="#3d24b7"/>
<rect y="132.48" width="10.46" height="11.42" fill="#3e27be"/>
<rect y="142.91" width="10.46" height="3.61" fill="#402ccc"/>
<rect y="145.51" width="10.46" height="3.61" fill="#3e32de"/>
<rect y="148.12" width="10.46" height="3.61" fill="#3847f3"/>
<rect y="150.72" width="10.46" height="3.61" fill="#3359fd"/>
<rect y="153.33" width="10.46" height="3.61" fill="#2f60fe"/>
<rect y="155.94" width="10.46" height="3.61" fill="#2d64ff"/>
<rect y="158.54" width="10.46" height="3.61" fill="#2f60fe"/>
<rect y="161.15" width="10.46" height="8.82" fill="#315dfd"/>
<rect y="168.97" width="10.46" height="3.61" fill="#3359fd"/>
<rect y="171.57" width="10.46" height="6.21" fill="#3455fb"/>
<rect y="176.79" width="10.46" height="3.61" fill="#3552f9"/>
<rect y="179.39" width="10.46" height="5.61" fill="#354ef8"/>
</g>
<g transform="translate(215.07 0)">
<rect y="12.20" width="10.46" height="6.61" fill="#4029c5"/>
<rect y="17.81" width="10.46" height="8.82" fill="#3e27be"/>
<rect y="25.62" width="10.46" height="6.21" fill="#3d24b7"/>
<rect y="30.84" width="10.46" height="14.03" fill="#3e27be"/>
<rect y="43.87" width="10.46" height="6.21" fill="#3d24b7"/>
<rect y="49.08" width="10.46" height="14.03" fill="#3e27be"/>
<rect y="62.11" width="10.46" height="6.21" fill="#4029c5"/>
<rect y="67.33" width="10.46" height="8.82" fill="#3e27be"/>
<rect y="75.14" width="10.46" height="11.43" fill="#3d24b7"/>
<rect y="85.57" width="10.46" height="3.61" fill="#3e27be"/>
<rect y="88.18" width="10.46" height="6.21" fill="#4029c5"/>
<rect y="93.39" width="10.46" height="3.61" fill="#3e27be"/>
<rect y="95.99" width="10.46" height="6.21" fill="#4029c5"/>
<rect y="101.21" width="10.46" height="37.49" fill="#3e27be"/>
<rect y="137.69" width="10.46" height="3.61" fill="#4029c5"/>
<rect y="140.30" width="10.46" height="3.61" fill="#3e27be"/>
<rect y="142.91" width="10.46" height="3.61" fill="#4029c5"/>
<rect y="145.51" width="10.46" height="3.61" fill="#3e27be"/>
<rect y="148.12" width="10.46" height="6.21" fill="#3d24b7"/>
<rect y="153.33" width="10.46" height="8.82" fill="#3e27be"/>
<rect y="161.15" width="10.46" height="3.61" fill="#402ccc"/>
<rect y="163.76" width="10.46" height="3.61" fill="#3f30d9"/>
<rect y="166.36" width="10.46" height="14.03" fill="#3e32de"/>
<rect y="179.39" width="10.46" height="5.61" fill="#3f30d9"/>
</g>
<g transform="translate(224.54 0)">
<rect y="12.20" width="12.46" height="9.21" fill="#3e27be"/>
<rect y="20.41" width="12.46" height="3.61" fill="#3d24b7"/>
<rect y="23.02" width="12.46" height="3.61" fill="#3e27be"/>
<rect y="25.62" width="12.46" height="11.42" fill="#4029c5"/>
<rect y="36.05" width="12.46" height="8.82" fill="#3e27be"/>
<rect y="43.87" width="12.46" height="3.61" fill="#4029c5"/>
<rect y="46.48" width="12.46" height="19.24" fill="#3e27be"/>
<rect y="64.72" width="12.46" height="6.21" fill="#3d24b7"/>
<rect y="69.93" width="12.46" height="27.06" fill="#3e27be"/>
<rect y="95.99" width="12.46" height="3.61" fill="#3d24b7"/>
<rect y="98.60" width="12.46" height="6.21" fill="#3e27be"/>
<rect y="103.81" width="12.46" height="14.03" fill="#4029c5"/>
<rect y="116.84" width="12.46" height="3.61" fill="#3e27be"/>
<rect y="119.45" width="12.46" height="6.21" fill="#4029c5"/>
<rect y="124.66" width="12.46" height="3.61" fill="#3e27be"/>
<rect y="127.27" width="12.46" height="6.21" fill="#4029c5"/>
<rect y="132.48" width="12.46" height="16.64" fill="#3e27be"/>
<rect y="148.12" width="12.46" height="3.61" fill="#3d24b7"/>
<rect y="150.72" width="12.46" height="3.61" fill="#3e27be"/>
<rect y="153.33" width="12.46" height="6.21" fill="#4029c5"/>
<rect y="158.54" width="12.46" height="3.61" fill="#3e27be"/>
<rect y="161.15" width="12.46" height="3.61" fill="#3d24b7"/>
<rect y="163.76" width="12.46" height="14.03" fill="#3e27be"/>
<rect y="176.79" width="12.46" height="8.21" fill="#4029c5"/>
</g>
</g></g>
</g>
<g id="cb-a">
<defs><linearGradient id="grad-a" x1="0" y1="0" x2="0" y2="1"><stop offset="0.0000" stop-color="#f9fb15"/><stop offset="0.0208" stop-color="#f6f21d"/><stop offset="0.0417" stop-color="#f5e923"/><stop offset="0.0625" stop-color="#f6e128"/><stop offset="0.0833" stop-color="#fad92c"/><stop offset="0.1042" stop-color="#fcd030"/><stop offset="0.1250" stop-color="#fec835"/><stop offset="0.1458" stop-color="#fdc13a"/><stop offset="0.1667" stop-color="#f9bc39"/><stop offset="0.1875" stop-color="#f2ba34"/><stop offset="0.2083" stop-color="#e6bb2b"/><stop offset="0.2292" stop-color="#d8bd29"/><stop offset="0.2500" stop-color="#cac02b"/><stop offset="0.2708" stop-color="#b9c433"/><stop offset="0.2917" stop-color="#a8c73c"/><stop offset="0.3125" stop-color="#97c946"/><stop offset="0.3333" stop-color="#85cc51"/><stop offset="0.3542" stop-color="#74cc5c"/><stop offset="0.3750" stop-color="#62cd69"/><stop offset="0.3958" stop-color="#51cc77"/><stop offset="0.4167" stop-color="#42ca85"/><stop offset="0.4375" stop-color="#36c893"/><stop offset="0.4583" stop-color="#2ac5a0"/><stop offset="0.4792" stop-color="#1cc0ad"/><stop offset="0.5000" stop-color="#0dbbb9"/><stop offset="0.5208" stop-color="#00b6c2"/><stop offset="0.5417" stop-color="#00b2cb"/><stop offset="0.5625" stop-color="#01add3"/><stop offset="0.5833" stop-color="#0aa7da"/><stop offset="0.6042" stop-color="#0fa1df"/><stop offset="0.6250" stop-color="#139be3"/><stop offset="0.6458" stop-color="#1594e7"/><stop offset="0.6667" stop-color="#178deb"/><stop offset="0.6875" stop-color="#1a86f0"/><stop offset="0.7083" stop-color="#1b7ff5"/><stop offset="0.7292" stop-color="#1e77f9"/><stop offset="0.7500" stop-color="#2270fd"/><stop offset="0.7708" stop-color="#2a68fe"/><stop offset="0.7917" stop-color="#2f60fe"/><stop offset="0.8125" stop-color="#3358fc"/><stop offset="0.8333" stop-color="#3551f9"/><stop offset="0.8542" stop-color="#3749f5"/><stop offset="0.8750" stop-color="#3a42ef"/><stop offset="0.8958" stop-color="#3c3ae8"/><stop offset="0.9167" stop-color="#3d33df"/><stop offset="0.9375" stop-color="#3f2ed5"/><stop offset="0.9583" stop-color="#402ac6"/><stop offset="0.9792" stop-color="#3d24b8"/><stop offset="1.0000" stop-color="#3b1fa8"/></linearGradient></defs>
<rect x="238.0" y="15.20" width="10.3" height="166.80" fill="url(#grad-a)"/>
<rect x="246.7" y="19.8" width="1.6" height="0.7" fill="#222" opacity="0.7"/>
<rect x="246.7" y="47.9" width="1.6" height="0.7" fill="#222" opacity="0.7"/>
<rect x="246.7" y="77.9" width="1.6" height="0.7" fill="#222" opacity="0.7"/>
<rect x="246.7" y="106.5" width="1.6" height="0.7" fill="#222" opacity="0.7"/>
<rect x="246.7" y="140.2" width="1.6" height="0.7" fill="#222" opacity="0.7"/>
<rect x="246.7" y="171.2" width="1.6" height="0.7" fill="#222" opacity="0.7"/>
<rect x="246.7" y="33.9" width="1.6" height="0.7" fill="#222" opacity="0.7"/>
<rect x="246.7" y="62.9" width="1.6" height="0.7" fill="#222" opacity="0.7"/>
<rect x="246.7" y="92.2" width="1.6" height="0.7" fill="#222" opacity="0.7"/>
<rect x="246.7" y="123.3" width="1.6" height="0.7" fill="#222" opacity="0.7"/>
<rect x="246.7" y="155.8" width="1.6" height="0.7" fill="#222" opacity="0.7"/>
</g>
<g class="lb" id="lb-a">
<text x="4.9" y="19.7" font-size="15.3" text-anchor="start">(a)</text>
<text x="41.7" y="24.9" font-size="12.3" text-anchor="end">−15</text>
<text x="41.7" y="50.6" font-size="12.3" text-anchor="end">−10</text>
<text x="41.7" y="77.2" font-size="12.3" text-anchor="end">−5</text>
<text x="41.7" y="102.4" font-size="12.3" text-anchor="end">0</text>
<text x="41.7" y="129.6" font-size="12.3" text-anchor="end">5</text>
<text x="41.7" y="156" font-size="12.3" text-anchor="end">10</text>
<text x="41.7" y="181.4" font-size="12.3" text-anchor="end">15</text>
<text x="52.4" y="193.9" font-size="12.3" text-anchor="middle">−4</text>
<text x="75.6" y="193.9" font-size="12.3" text-anchor="middle">−3</text>
<text x="96.5" y="193.9" font-size="12.3" text-anchor="middle">−2</text>
<text x="116.8" y="193.9" font-size="12.3" text-anchor="middle">−1</text>
<text x="143.6" y="193.9" font-size="12.3" text-anchor="middle">0</text>
<text x="163.8" y="193.9" font-size="12.3" text-anchor="middle">1</text>
<text x="184.9" y="193.9" font-size="12.3" text-anchor="middle">2</text>
<text x="207" y="193.9" font-size="12.3" text-anchor="middle">3</text>
<text x="225.5" y="193.9" font-size="12.3" text-anchor="middle">4</text>
<text x="142.6" y="208.5" font-size="15.8" text-anchor="middle">Doppler (KHz)</text>
<text transform="translate(19.3 97) rotate(-90)" font-size="15.8" text-anchor="middle">Delay (chips)</text>
<text x="250" y="24.6" font-size="12.3" text-anchor="start">7</text>
<text x="250" y="52.7" font-size="12.3" text-anchor="start">6</text>
<text x="250" y="82.6" font-size="12.3" text-anchor="start">5</text>
<text x="250" y="111.2" font-size="12.3" text-anchor="start">4</text>
<text x="250" y="145" font-size="12.3" text-anchor="start">3</text>
<text x="250" y="176" font-size="12.3" text-anchor="start">2</text>
<text x="248.3" y="14.5" font-size="11.8">×<tspan dx="1.7" letter-spacing="0.2">10</tspan><tspan font-size="6.3" dy="-4">4</tspan></text>
</g>
<g class="hm" id="hm-b">
<clipPath id="clip-b"><rect x="315.70" y="14.90" width="189.60" height="167.00"/></clipPath>
<g clip-path="url(#clip-b)"><g filter="url(#soft)">
<g transform="translate(312.70 0)">
<rect y="11.90" width="13.48" height="6.61" fill="#3e27be"/>
<rect y="17.51" width="13.48" height="11.44" fill="#3d24b7"/>
<rect y="27.95" width="13.48" height="3.61" fill="#3c22b0"/>
<rect y="30.56" width="13.48" height="16.66" fill="#3d24b7"/>
<rect y="46.21" width="13.48" height="3.61" fill="#3c22b0"/>
<rect y="48.82" width="13.48" height="16.66" fill="#3d24b7"/>
<rect y="64.48" width="13.48" height="3.61" fill="#3c22b0"/>
<rect y="67.09" width="13.48" height="3.61" fill="#3d24b7"/>
<rect y="69.70" width="13.48" height="6.22" fill="#3e27be"/>
<rect y="74.92" width="13.48" height="16.66" fill="#3d24b7"/>
<rect y="90.57" width="13.48" height="3.61" fill="#3e27be"/>
<rect y="93.18" width="13.48" height="3.61" fill="#4029c5"/>
<rect y="95.79" width="13.48" height="6.22" fill="#3d24b7"/>
<rect y="101.01" width="13.48" height="11.44" fill="#3c22b0"/>
<rect y="111.45" width="13.48" height="3.61" fill="#3d24b7"/>
<rect y="114.06" width="13.48" height="14.05" fill="#3e27be"/>
<rect y="127.10" width="13.48" height="6.22" fill="#3c22b0"/>
<rect y="132.32" width="13.48" height="14.05" fill="#3d24b7"/>
<rect y="145.37" width="13.48" height="6.22" fill="#3e27be"/>
<rect y="150.59" width="13.48" height="8.83" fill="#3d24b7"/>
<rect y="158.42" width="13.48" height="3.61" fill="#3e27be"/>
<rect y="161.03" width="13.48" height="6.22" fill="#3d24b7"/>
<rect y="166.24" width="13.48" height="8.83" fill="#3e27be"/>
<rect y="174.07" width="13.48" height="10.83" fill="#3d24b7"/>
</g>
<g transform="translate(325.18 0)">
<rect y="11.90" width="10.48" height="6.61" fill="#3e27be"/>
<rect y="17.51" width="10.48" height="3.61" fill="#3d24b7"/>
<rect y="20.12" width="10.48" height="3.61" fill="#3c22b0"/>
<rect y="22.73" width="10.48" height="32.31" fill="#3d24b7"/>
<rect y="54.04" width="10.48" height="6.22" fill="#3e27be"/>
<rect y="59.26" width="10.48" height="14.05" fill="#3d24b7"/>
<rect y="72.31" width="10.48" height="6.22" fill="#3e27be"/>
<rect y="77.53" width="10.48" height="6.22" fill="#3d24b7"/>
<rect y="82.74" width="10.48" height="6.22" fill="#3c22b0"/>
<rect y="87.96" width="10.48" height="3.61" fill="#3d24b7"/>
<rect y="90.57" width="10.48" height="3.61" fill="#3e27be"/>
<rect y="93.18" width="10.48" height="16.66" fill="#3d24b7"/>
<rect y="108.84" width="10.48" height="6.22" fill="#3c22b0"/>
<rect y="114.06" width="10.48" height="6.22" fill="#3d24b7"/>
<rect y="119.28" width="10.48" height="3.61" fill="#3e27be"/>
<rect y="121.88" width="10.48" height="11.44" fill="#3d24b7"/>
<rect y="132.32" width="10.48" height="14.05" fill="#3e27be"/>
<rect y="145.37" width="10.48" height="6.22" fill="#3d24b7"/>
<rect y="150.59" width="10.48" height="6.22" fill="#3c22b0"/>
<rect y="155.81" width="10.48" height="3.61" fill="#3d24b7"/>
<rect y="158.42" width="10.48" height="3.61" fill="#3e27be"/>
<rect y="161.03" width="10.48" height="3.61" fill="#3d24b7"/>
<rect y="163.63" width="10.48" height="3.61" fill="#3c22b0"/>
<rect y="166.24" width="10.48" height="3.61" fill="#3d24b7"/>
<rect y="168.85" width="10.48" height="6.22" fill="#3e27be"/>
<rect y="174.07" width="10.48" height="6.22" fill="#3d24b7"/>
<rect y="179.29" width="10.48" height="5.61" fill="#3e27be"/>
</g>
<g transform="translate(334.66 0)">
<rect y="11.90" width="10.48" height="6.61" fill="#3e27be"/>
<rect y="17.51" width="10.48" height="6.22" fill="#3d24b7"/>
<rect y="22.73" width="10.48" height="3.61" fill="#3c22b0"/>
<rect y="25.34" width="10.48" height="3.61" fill="#3d24b7"/>
<rect y="27.95" width="10.48" height="3.61" fill="#3e27be"/>
<rect y="30.56" width="10.48" height="6.22" fill="#3d24b7"/>
<rect y="35.77" width="10.48" height="14.05" fill="#3c22b0"/>
<rect y="48.82" width="10.48" height="27.09" fill="#3d24b7"/>
<rect y="74.92" width="10.48" height="3.61" fill="#3c22b0"/>
<rect y="77.53" width="10.48" height="3.61" fill="#3d24b7"/>
<rect y="80.13" width="10.48" height="6.22" fill="#3e27be"/>
<rect y="85.35" width="10.48" height="3.61" fill="#3d24b7"/>
<rect y="87.96" width="10.48" height="3.61" fill="#3c22b0"/>
<rect y="90.57" width="10.48" height="3.61" fill="#3b1fa8"/>
<rect y="93.18" width="10.48" height="3.61" fill="#3c22b0"/>
<rect y="95.79" width="10.48" height="3.61" fill="#3d24b7"/>
<rect y="98.40" width="10.48" height="8.83" fill="#3c22b0"/>
<rect y="106.23" width="10.48" height="3.61" fill="#3d24b7"/>
<rect y="108.84" width="10.48" height="6.22" fill="#3c22b0"/>
<rect y="114.06" width="10.48" height="3.61" fill="#3d24b7"/>
<rect y="116.67" width="10.48" height="6.22" fill="#3e27be"/>
<rect y="121.88" width="10.48" height="6.22" fill="#3d24b7"/>
<rect y="127.10" width="10.48" height="3.61" fill="#3c22b0"/>
<rect y="129.71" width="10.48" height="6.22" fill="#3b1fa8"/>
<rect y="134.93" width="10.48" height="3.61" fill="#3c22b0"/>
<rect y="137.54" width="10.48" height="6.22" fill="#3d24b7"/>
<rect y="142.76" width="10.48" height="6.22" fill="#3e27be"/>
<rect y="147.98" width="10.48" height="6.22" fill="#3d24b7"/>
<rect y="153.20" width="10.48" height="3.61" fill="#3e27be"/>
<rect y="155.81" width="10.48" height="3.61" fill="#402ccc"/>
<rect y="158.42" width="10.48" height="6.22" fill="#402dd3"/>
<rect y="163.63" width="10.48" height="6.22" fill="#402ccc"/>
<rect y="168.85" width="10.48" height="3.61" fill="#402dd3"/>
<rect y="171.46" width="10.48" height="8.83" fill="#402ccc"/>
<rect y="179.29" width="10.48" height="5.61" fill="#4029c5"/>
</g>
<g transform="translate(344.14 0)">
<rect y="11.90" width="10.48" height="6.61" fill="#3d24b7"/>
<rect y="17.51" width="10.48" height="3.61" fill="#3c22b0"/>
<rect y="20.12" width="10.48" height="3.61" fill="#3d24b7"/>
<rect y="22.73" width="10.48" height="3.61" fill="#3e27be"/>
<rect y="25.34" width="10.48" height="3.61" fill="#4029c5"/>
<rect y="27.95" width="10.48" height="3.61" fill="#3e27be"/>
<rect y="30.56" width="10.48" height="3.61" fill="#3d24b7"/>
<rect y="33.17" width="10.48" height="3.61" fill="#3c22b0"/>
<rect y="35.77" width="10.48" height="3.61" fill="#3d24b7"/>
<rect y="38.38" width="10.48" height="11.44" fill="#3e27be"/>
<rect y="48.82" width="10.48" height="6.22" fill="#3d24b7"/>
<rect y="54.04" width="10.48" height="14.05" fill="#3c22b0"/>
<rect y="67.09" width="10.48" height="8.83" fill="#3d24b7"/>
<rect y="74.92" width="10.48" height="14.05" fill="#3e27be"/>
<rect y="87.96" width="10.48" height="6.22" fill="#3d24b7"/>
<rect y="93.18" width="10.48" height="8.83" fill="#3e27be"/>
<rect y="101.01" width="10.48" height="6.22" fill="#3d24b7"/>
<rect y="106.23" width="10.48" height="6.22" fill="#3e27be"/>
<rect y="111.45" width="10.48" height="14.05" fill="#3d24b7"/>
<rect y="124.49" width="10.48" height="6.22" fill="#3c22b0"/>
<rect y="129.71" width="10.48" height="3.61" fill="#3d24b7"/>
<rect y="132.32" width="10.48" height="3.61" fill="#3e27be"/>
<rect y="134.93" width="10.48" height="3.61" fill="#3d24b7"/>
<rect y="137.54" width="10.48" height="3.61" fill="#4029c5"/>
<rect y="140.15" width="10.48" height="8.83" fill="#402ccc"/>
<rect y="147.98" width="10.48" height="16.66" fill="#402dd3"/>
<rect y="163.63" width="10.48" height="3.61" fill="#402ccc"/>
<rect y="166.24" width="10.48" height="18.66" fill="#4029c5"/>
</g>
<g transform="translate(353.62 0)">
<rect y="11.90" width="10.48" height="9.22" fill="#3d24b7"/>
<rect y="20.12" width="10.48" height="8.83" fill="#3c22b0"/>
<rect y="27.95" width="10.48" height="3.61" fill="#3d24b7"/>
<rect y="30.56" width="10.48" height="16.66" fill="#3e27be"/>
<rect y="46.21" width="10.48" height="3.61" fill="#4029c5"/>
<rect y="48.82" width="10.48" height="3.61" fill="#3e27be"/>
<rect y="51.43" width="10.48" height="6.22" fill="#3d24b7"/>
<rect y="56.65" width="10.48" height="6.22" fill="#3e27be"/>
<rect y="61.87" width="10.48" height="19.27" fill="#3d24b7"/>
<rect y="80.13" width="10.48" height="8.83" fill="#3e27be"/>
<rect y="87.96" width="10.48" height="8.83" fill="#3d24b7"/>
<rect y="95.79" width="10.48" height="6.22" fill="#3e27be"/>
<rect y="101.01" width="10.48" height="3.61" fill="#3d24b7"/>
<rect y="103.62" width="10.48" height="6.22" fill="#3c22b0"/>
<rect y="108.84" width="10.48" height="3.61" fill="#3e27be"/>
<rect y="111.45" width="10.48" height="3.61" fill="#4029c5"/>
<rect y="114.06" width="10.48" height="3.61" fill="#3e27be"/>
<rect y="116.67" width="10.48" height="11.44" fill="#3d24b7"/>
<rect y="127.10" width="10.48" height="3.61" fill="#4029c5"/>
<rect y="129.71" width="10.48" height="3.61" fill="#402dd3"/>
<rect y="132.32" width="10.48" height="6.22" fill="#3f30d9"/>
<rect y="137.54" width="10.48" height="6.22" fill="#402dd3"/>
<rect y="142.76" width="10.48" height="3.61" fill="#402ccc"/>
<rect y="145.37" width="10.48" height="16.66" fill="#402dd3"/>
<rect y="161.03" width="10.48" height="11.44" fill="#402ccc"/>
<rect y="171.46" width="10.48" height="3.61" fill="#4029c5"/>
<rect y="174.07" width="10.48" height="10.83" fill="#3e27be"/>
</g>
<g transform="translate(363.10 0)">
<rect y="11.90" width="10.48" height="9.22" fill="#3e27be"/>
<rect y="20.12" width="10.48" height="3.61" fill="#3d24b7"/>
<rect y="22.73" width="10.48" height="6.22" fill="#3e27be"/>
<rect y="27.95" width="10.48" height="6.22" fill="#3d24b7"/>
<rect y="33.17" width="10.48" height="8.83" fill="#3c22b0"/>
<rect y="40.99" width="10.48" height="11.44" fill="#3d24b7"/>
<rect y="51.43" width="10.48" height="8.83" fill="#3c22b0"/>
<rect y="59.26" width="10.48" height="11.44" fill="#3d24b7"/>
<rect y="69.70" width="10.48" height="8.83" fill="#3e27be"/>
<rect y="77.53" width="10.48" height="11.44" fill="#3d24b7"/>
<rect y="87.96" width="10.48" height="6.22" fill="#3c22b0"/>
<rect y="93.18" width="10.48" height="6.22" fill="#3d24b7"/>
<rect y="98.40" width="10.48" height="19.27" fill="#3e27be"/>
<rect y="116.67" width="10.48" height="3.61" fill="#402ccc"/>
<rect y="119.28" width="10.48" height="3.61" fill="#3f30d9"/>
<rect y="121.88" width="10.48" height="8.83" fill="#3e32de"/>
<rect y="129.71" width="10.48" height="6.22" fill="#3f30d9"/>
<rect y="134.93" width="10.48" height="11.44" fill="#402ccc"/>
<rect y="145.37" width="10.48" height="6.22" fill="#402dd3"/>
<rect y="150.59" width="10.48" height="6.22" fill="#402ccc"/>
<rect y="155.81" width="10.48" height="6.22" fill="#4029c5"/>
<rect y="161.03" width="10.48" height="3.61" fill="#3e27be"/>
<rect y="163.63" width="10.48" height="8.83" fill="#4029c5"/>
<rect y="171.46" width="10.48" height="8.83" fill="#402ccc"/>
<rect y="179.29" width="10.48" height="5.61" fill="#4029c5"/>
</g>
<g transform="translate(372.58 0)">
<rect y="11.90" width="10.48" height="9.22" fill="#3d24b7"/>
<rect y="20.12" width="10.48" height="6.22" fill="#3e27be"/>
<rect y="25.34" width="10.48" height="19.27" fill="#3d24b7"/>
<rect y="43.60" width="10.48" height="6.22" fill="#3e27be"/>
<rect y="48.82" width="10.48" height="3.61" fill="#4029c5"/>
<rect y="51.43" width="10.48" height="3.61" fill="#3e27be"/>
<rect y="54.04" width="10.48" height="3.61" fill="#3d24b7"/>
<rect y="56.65" width="10.48" height="8.83" fill="#3e27be"/>
<rect y="64.48" width="10.48" height="14.05" fill="#3d24b7"/>
<rect y="77.53" width="10.48" height="3.61" fill="#3c22b0"/>
<rect y="80.13" width="10.48" height="11.44" fill="#3d24b7"/>
<rect y="90.57" width="10.48" height="6.22" fill="#3e27be"/>
<rect y="95.79" width="10.48" height="8.83" fill="#3d24b7"/>
<rect y="103.62" width="10.48" height="3.61" fill="#3c22b0"/>
<rect y="106.23" width="10.48" height="3.61" fill="#3d24b7"/>
<rect y="108.84" width="10.48" height="3.61" fill="#4029c5"/>
<rect y="111.45" width="10.48" height="8.83" fill="#3e32de"/>
<rect y="119.28" width="10.48" height="3.61" fill="#3f30d9"/>
<rect y="121.88" width="10.48" height="3.61" fill="#402dd3"/>
<rect y="124.49" width="10.48" height="6.22" fill="#402ccc"/>
<rect y="129.71" width="10.48" height="3.61" fill="#402dd3"/>
<rect y="132.32" width="10.48" height="3.61" fill="#402ccc"/>
<rect y="134.93" width="10.48" height="3.61" fill="#4029c5"/>
<rect y="137.54" width="10.48" height="8.83" fill="#402ccc"/>
<rect y="145.37" width="10.48" height="8.83" fill="#4029c5"/>
<rect y="153.20" width="10.48" height="6.22" fill="#3e27be"/>
<rect y="158.42" width="10.48" height="6.22" fill="#4029c5"/>
<rect y="163.63" width="10.48" height="8.83" fill="#3e27be"/>
<rect y="171.46" width="10.48" height="6.22" fill="#4029c5"/>
<rect y="176.68" width="10.48" height="8.22" fill="#3e27be"/>
</g>
<g transform="translate(382.06 0)">
<rect y="11.90" width="10.48" height="6.61" fill="#3d24b7"/>
<rect y="17.51" width="10.48" height="8.83" fill="#3e27be"/>
<rect y="25.34" width="10.48" height="21.88" fill="#3d24b7"/>
<rect y="46.21" width="10.48" height="6.22" fill="#3e27be"/>
<rect y="51.43" width="10.48" height="24.48" fill="#3d24b7"/>
<rect y="74.92" width="10.48" height="6.22" fill="#3c22b0"/>
<rect y="80.13" width="10.48" height="6.22" fill="#3d24b7"/>
<rect y="85.35" width="10.48" height="6.22" fill="#3c22b0"/>
<rect y="90.57" width="10.48" height="8.83" fill="#3d24b7"/>
<rect y="98.40" width="10.48" height="6.22" fill="#3e27be"/>
<rect y="103.62" width="10.48" height="3.61" fill="#402dd3"/>
<rect y="106.23" width="10.48" height="3.61" fill="#3d35e3"/>
<rect y="108.84" width="10.48" height="6.22" fill="#3c39e7"/>
<rect y="114.06" width="10.48" height="8.83" fill="#3e32de"/>
<rect y="121.88" width="10.48" height="3.61" fill="#3f30d9"/>
<rect y="124.49" width="10.48" height="3.61" fill="#402ccc"/>
<rect y="127.10" width="10.48" height="3.61" fill="#4029c5"/>
<rect y="129.71" width="10.48" height="14.05" fill="#402ccc"/>
<rect y="142.76" width="10.48" height="8.83" fill="#4029c5"/>
<rect y="150.59" width="10.48" height="6.22" fill="#402ccc"/>
<rect y="155.81" width="10.48" height="11.44" fill="#4029c5"/>
<rect y="166.24" width="10.48" height="6.22" fill="#3e27be"/>
<rect y="171.46" width="10.48" height="6.22" fill="#4029c5"/>
<rect y="176.68" width="10.48" height="8.22" fill="#3e27be"/>
</g>
<g transform="translate(391.54 0)">
<rect y="11.90" width="10.48" height="6.61" fill="#3c22b0"/>
<rect y="17.51" width="10.48" height="3.61" fill="#3d24b7"/>
<rect y="20.12" width="10.48" height="8.83" fill="#3e27be"/>
<rect y="27.95" width="10.48" height="8.83" fill="#3d24b7"/>
<rect y="35.77" width="10.48" height="16.66" fill="#3e27be"/>
<rect y="51.43" width="10.48" height="27.09" fill="#3d24b7"/>
<rect y="77.53" width="10.48" height="3.61" fill="#3e27be"/>
<rect y="80.13" width="10.48" height="6.22" fill="#4029c5"/>
<rect y="85.35" width="10.48" height="14.05" fill="#3d24b7"/>
<rect y="98.40" width="10.48" height="3.61" fill="#4029c5"/>
<rect y="101.01" width="10.48" height="3.61" fill="#354ef8"/>
<rect y="103.62" width="10.48" height="3.61" fill="#3552f9"/>
<rect y="106.23" width="10.48" height="3.61" fill="#354ef8"/>
<rect y="108.84" width="10.48" height="3.61" fill="#3a40ee"/>
<rect y="111.45" width="10.48" height="3.61" fill="#3d35e3"/>
<rect y="114.06" width="10.48" height="6.22" fill="#3f30d9"/>
<rect y="119.28" width="10.48" height="3.61" fill="#402dd3"/>
<rect y="121.88" width="10.48" height="16.66" fill="#402ccc"/>
<rect y="137.54" width="10.48" height="3.61" fill="#4029c5"/>
<rect y="140.15" width="10.48" height="3.61" fill="#3e27be"/>
<rect y="142.76" width="10.48" height="16.66" fill="#4029c5"/>
<rect y="158.42" width="10.48" height="6.22" fill="#3e27be"/>
<rect y="163.63" width="10.48" height="11.44" fill="#4029c5"/>
<rect y="174.07" width="10.48" height="3.61" fill="#3e27be"/>
<rect y="176.68" width="10.48" height="3.61" fill="#4029c5"/>
<rect y="179.29" width="10.48" height="5.61" fill="#3e27be"/>
</g>
<g transform="translate(401.02 0)">
<rect y="11.90" width="10.48" height="17.05" fill="#3d24b7"/>
<rect y="27.95" width="10.48" height="8.83" fill="#3e27be"/>
<rect y="35.77" width="10.48" height="6.22" fill="#3d24b7"/>
<rect y="40.99" width="10.48" height="19.27" fill="#3e27be"/>
<rect y="59.26" width="10.48" height="34.92" fill="#3d24b7"/>
<rect y="93.18" width="10.48" height="3.61" fill="#3e27be"/>
<rect y="95.79" width="10.48" height="3.61" fill="#3a40ee"/>
<rect y="98.40" width="10.48" height="3.61" fill="#00b2ca"/>
<rect y="101.01" width="10.48" height="3.61" fill="#00b4c6"/>
<rect y="103.62" width="10.48" height="3.61" fill="#1e77fa"/>
<rect y="106.23" width="10.48" height="3.61" fill="#3455fb"/>
<rect y="108.84" width="10.48" height="3.61" fill="#3a40ee"/>
<rect y="111.45" width="10.48" height="3.61" fill="#3c39e7"/>
<rect y="114.06" width="10.48" height="3.61" fill="#3e32de"/>
<rect y="116.67" width="10.48" height="3.61" fill="#402dd3"/>
<rect y="119.28" width="10.48" height="11.44" fill="#402ccc"/>
<rect y="129.71" width="10.48" height="11.44" fill="#4029c5"/>
<rect y="140.15" width="10.48" height="3.61" fill="#3e27be"/>
<rect y="142.76" width="10.48" height="14.05" fill="#4029c5"/>
<rect y="155.81" width="10.48" height="3.61" fill="#402ccc"/>
<rect y="158.42" width="10.48" height="3.61" fill="#4029c5"/>
<rect y="161.03" width="10.48" height="8.83" fill="#3e27be"/>
<rect y="168.85" width="10.48" height="3.61" fill="#3d24b7"/>
<rect y="171.46" width="10.48" height="3.61" fill="#3e27be"/>
<rect y="174.07" width="10.48" height="3.61" fill="#4029c5"/>
<rect y="176.68" width="10.48" height="8.22" fill="#3e27be"/>
</g>
<g transform="translate(410.50 0)">
<rect y="11.90" width="10.48" height="6.61" fill="#3d24b7"/>
<rect y="17.51" width="10.48" height="3.61" fill="#3c22b0"/>
<rect y="20.12" width="10.48" height="3.61" fill="#3d24b7"/>
<rect y="22.73" width="10.48" height="6.22" fill="#4029c5"/>
<rect y="27.95" width="10.48" height="6.22" fill="#3e27be"/>
<rect y="33.17" width="10.48" height="8.83" fill="#3d24b7"/>
<rect y="40.99" width="10.48" height="8.83" fill="#3c22b0"/>
<rect y="48.82" width="10.48" height="3.61" fill="#3d24b7"/>
<rect y="51.43" width="10.48" height="3.61" fill="#3e27be"/>
<rect y="54.04" width="10.48" height="6.22" fill="#3d24b7"/>
<rect y="59.26" width="10.48" height="3.61" fill="#3e27be"/>
<rect y="61.87" width="10.48" height="3.61" fill="#3d24b7"/>
<rect y="64.48" width="10.48" height="6.22" fill="#3e27be"/>
<rect y="69.70" width="10.48" height="11.44" fill="#3d24b7"/>
<rect y="80.13" width="10.48" height="6.22" fill="#3e27be"/>
<rect y="85.35" width="10.48" height="3.61" fill="#3d24b7"/>
<rect y="87.96" width="10.48" height="6.22" fill="#3c22b0"/>
<rect y="93.18" width="10.48" height="3.61" fill="#3d24b7"/>
<rect y="95.79" width="10.48" height="3.61" fill="#2f60fe"/>
<rect y="98.40" width="10.48" height="3.61" fill="#f9fb15"/>
<rect y="101.01" width="10.48" height="3.61" fill="#f6e227"/>
<rect y="103.62" width="10.48" height="3.61" fill="#1b81f3"/>
<rect y="106.23" width="10.48" height="3.61" fill="#364bf6"/>
<rect y="108.84" width="10.48" height="3.61" fill="#3b3cea"/>
<rect y="111.45" width="10.48" height="3.61" fill="#3e32de"/>
<rect y="114.06" width="10.48" height="6.22" fill="#3f30d9"/>
<rect y="119.28" width="10.48" height="3.61" fill="#402dd3"/>
<rect y="121.88" width="10.48" height="14.05" fill="#402ccc"/>
<rect y="134.93" width="10.48" height="3.61" fill="#4029c5"/>
<rect y="137.54" width="10.48" height="3.61" fill="#3e27be"/>
<rect y="140.15" width="10.48" height="6.22" fill="#4029c5"/>
<rect y="145.37" width="10.48" height="6.22" fill="#3e27be"/>
<rect y="150.59" width="10.48" height="3.61" fill="#4029c5"/>
<rect y="153.20" width="10.48" height="6.22" fill="#3e27be"/>
<rect y="158.42" width="10.48" height="8.83" fill="#4029c5"/>
<rect y="166.24" width="10.48" height="6.22" fill="#3e27be"/>
<rect y="171.46" width="10.48" height="13.44" fill="#4029c5"/>
</g>
<g transform="translate(419.98 0)">
<rect y="11.90" width="10.48" height="11.83" fill="#3d24b7"/>
<rect y="22.73" width="10.48" height="3.61" fill="#3e27be"/>
<rect y="25.34" width="10.48" height="3.61" fill="#4029c5"/>
<rect y="27.95" width="10.48" height="3.61" fill="#3e27be"/>
<rect y="30.56" width="10.48" height="11.44" fill="#3d24b7"/>
<rect y="40.99" width="10.48" height="19.27" fill="#3e27be"/>
<rect y="59.26" width="10.48" height="8.83" fill="#3d24b7"/>
<rect y="67.09" width="10.48" height="6.22" fill="#3c22b0"/>
<rect y="72.31" width="10.48" height="3.61" fill="#3d24b7"/>
<rect y="74.92" width="10.48" height="14.05" fill="#3e27be"/>
<rect y="87.96" width="10.48" height="8.83" fill="#3d24b7"/>
<rect y="95.79" width="10.48" height="3.61" fill="#3b3cea"/>
<rect y="98.40" width="10.48" height="3.61" fill="#00b2ca"/>
<rect y="101.01" width="10.48" height="3.61" fill="#00b7c2"/>
<rect y="103.62" width="10.48" height="3.61" fill="#1e77fa"/>
<rect y="106.23" width="10.48" height="3.61" fill="#3455fb"/>
<rect y="108.84" width="10.48" height="3.61" fill="#3b3cea"/>
<rect y="111.45" width="10.48" height="3.61" fill="#3e32de"/>
<rect y="114.06" width="10.48" height="8.83" fill="#3f30d9"/>
<rect y="121.88" width="10.48" height="3.61" fill="#402dd3"/>
<rect y="124.49" width="10.48" height="8.83" fill="#402ccc"/>
<rect y="132.32" width="10.48" height="6.22" fill="#4029c5"/>
<rect y="137.54" width="10.48" height="3.61" fill="#3e27be"/>
<rect y="140.15" width="10.48" height="6.22" fill="#4029c5"/>
<rect y="145.37" width="10.48" height="6.22" fill="#3e27be"/>
<rect y="150.59" width="10.48" height="6.22" fill="#4029c5"/>
<rect y="155.81" width="10.48" height="3.61" fill="#3e27be"/>
<rect y="158.42" width="10.48" height="8.83" fill="#4029c5"/>
<rect y="166.24" width="10.48" height="6.22" fill="#3e27be"/>
<rect y="171.46" width="10.48" height="6.22" fill="#4029c5"/>
<rect y="176.68" width="10.48" height="8.22" fill="#3e27be"/>
</g>
<g transform="translate(429.46 0)">
<rect y="11.90" width="10.48" height="6.61" fill="#3d24b7"/>
<rect y="17.51" width="10.48" height="3.61" fill="#3c22b0"/>
<rect y="20.12" width="10.48" height="8.83" fill="#3d24b7"/>
<rect y="27.95" width="10.48" height="6.22" fill="#3c22b0"/>
<rect y="33.17" width="10.48" height="24.48" fill="#3d24b7"/>
<rect y="56.65" width="10.48" height="6.22" fill="#3e27be"/>
<rect y="61.87" width="10.48" height="3.61" fill="#3d24b7"/>
<rect y="64.48" width="10.48" height="3.61" fill="#3c22b0"/>
<rect y="67.09" width="10.48" height="6.22" fill="#3d24b7"/>
<rect y="72.31" width="10.48" height="6.22" fill="#3e27be"/>
<rect y="77.53" width="10.48" height="21.88" fill="#3d24b7"/>
<rect y="98.40" width="10.48" height="3.61" fill="#3e27be"/>
<rect y="101.01" width="10.48" height="3.61" fill="#364bf6"/>
<rect y="103.62" width="10.48" height="6.22" fill="#354ef8"/>
<rect y="108.84" width="10.48" height="3.61" fill="#3a40ee"/>
<rect y="111.45" width="10.48" height="3.61" fill="#3d35e3"/>
<rect y="114.06" width="10.48" height="3.61" fill="#3f30d9"/>
<rect y="116.67" width="10.48" height="19.27" fill="#402dd3"/>
<rect y="134.93" width="10.48" height="3.61" fill="#4029c5"/>
<rect y="137.54" width="10.48" height="3.61" fill="#3e27be"/>
<rect y="140.15" width="10.48" height="11.44" fill="#4029c5"/>
<rect y="150.59" width="10.48" height="6.22" fill="#402ccc"/>
<rect y="155.81" width="10.48" height="3.61" fill="#4029c5"/>
<rect y="158.42" width="10.48" height="3.61" fill="#3e27be"/>
<rect y="161.03" width="10.48" height="3.61" fill="#4029c5"/>
<rect y="163.63" width="10.48" height="3.61" fill="#402ccc"/>
<rect y="166.24" width="10.48" height="8.83" fill="#4029c5"/>
<rect y="174.07" width="10.48" height="3.61" fill="#3e27be"/>
<rect y="176.68" width="10.48" height="3.61" fill="#3d24b7"/>
<rect y="179.29" width="10.48" height="5.61" fill="#3e27be"/>
</g>
<g transform="translate(438.94 0)">
<rect y="11.90" width="10.48" height="6.61" fill="#3d24b7"/>
<rect y="17.51" width="10.48" height="6.22" fill="#3e27be"/>
<rect y="22.73" width="10.48" height="3.61" fill="#3d24b7"/>
<rect y="25.34" width="10.48" height="3.61" fill="#3c22b0"/>
<rect y="27.95" width="10.48" height="6.22" fill="#3d24b7"/>
<rect y="33.17" width="10.48" height="3.61" fill="#3e27be"/>
<rect y="35.77" width="10.48" height="6.22" fill="#3d24b7"/>
<rect y="40.99" width="10.48" height="14.05" fill="#3e27be"/>
<rect y="54.04" width="10.48" height="27.09" fill="#3d24b7"/>
<rect y="80.13" width="10.48" height="6.22" fill="#3c22b0"/>
<rect y="85.35" width="10.48" height="11.44" fill="#3d24b7"/>
<rect y="95.79" width="10.48" height="3.61" fill="#3e27be"/>
<rect y="98.40" width="10.48" height="6.22" fill="#3d24b7"/>
<rect y="103.62" width="10.48" height="3.61" fill="#402ccc"/>
<rect y="106.23" width="10.48" height="3.61" fill="#3d35e3"/>
<rect y="108.84" width="10.48" height="3.61" fill="#3c39e7"/>
<rect y="111.45" width="10.48" height="3.61" fill="#3d35e3"/>
<rect y="114.06" width="10.48" height="3.61" fill="#3f30d9"/>
<rect y="116.67" width="10.48" height="3.61" fill="#402dd3"/>
<rect y="119.28" width="10.48" height="3.61" fill="#402ccc"/>
<rect y="121.88" width="10.48" height="3.61" fill="#4029c5"/>
<rect y="124.49" width="10.48" height="3.61" fill="#402ccc"/>
<rect y="127.10" width="10.48" height="11.44" fill="#402dd3"/>
<rect y="137.54" width="10.48" height="11.44" fill="#402ccc"/>
<rect y="147.98" width="10.48" height="6.22" fill="#4029c5"/>
<rect y="153.20" width="10.48" height="16.66" fill="#3e27be"/>
<rect y="168.85" width="10.48" height="8.83" fill="#4029c5"/>
<rect y="176.68" width="10.48" height="3.61" fill="#3e27be"/>
<rect y="179.29" width="10.48" height="5.61" fill="#4029c5"/>
</g>
<g transform="translate(448.42 0)">
<rect y="11.90" width="10.48" height="6.61" fill="#3e27be"/>
<rect y="17.51" width="10.48" height="14.05" fill="#3d24b7"/>
<rect y="30.56" width="10.48" height="3.61" fill="#3e27be"/>
<rect y="33.17" width="10.48" height="3.61" fill="#3d24b7"/>
<rect y="35.77" width="10.48" height="6.22" fill="#3c22b0"/>
<rect y="40.99" width="10.48" height="3.61" fill="#3e27be"/>
<rect y="43.60" width="10.48" height="3.61" fill="#3d24b7"/>
<rect y="46.21" width="10.48" height="11.44" fill="#3c22b0"/>
<rect y="56.65" width="10.48" height="3.61" fill="#3d24b7"/>
<rect y="59.26" width="10.48" height="6.22" fill="#3e27be"/>
<rect y="64.48" width="10.48" height="14.05" fill="#3d24b7"/>
<rect y="77.53" width="10.48" height="8.83" fill="#3c22b0"/>
<rect y="85.35" width="10.48" height="3.61" fill="#3d24b7"/>
<rect y="87.96" width="10.48" height="3.61" fill="#3e27be"/>
<rect y="90.57" width="10.48" height="3.61" fill="#3d24b7"/>
<rect y="93.18" width="10.48" height="8.83" fill="#3e27be"/>
<rect y="101.01" width="10.48" height="8.83" fill="#3d24b7"/>
<rect y="108.84" width="10.48" height="3.61" fill="#402ccc"/>
<rect y="111.45" width="10.48" height="11.44" fill="#3e32de"/>
<rect y="121.88" width="10.48" height="3.61" fill="#3f30d9"/>
<rect y="124.49" width="10.48" height="16.66" fill="#402dd3"/>
<rect y="140.15" width="10.48" height="11.44" fill="#402ccc"/>
<rect y="150.59" width="10.48" height="21.88" fill="#4029c5"/>
<rect y="171.46" width="10.48" height="6.22" fill="#3e27be"/>
<rect y="176.68" width="10.48" height="3.61" fill="#3d24b7"/>
<rect y="179.29" width="10.48" height="5.61" fill="#3e27be"/>
</g>
<g transform="translate(457.90 0)">
<rect y="11.90" width="10.48" height="6.61" fill="#3e27be"/>
<rect y="17.51" width="10.48" height="8.83" fill="#3d24b7"/>
<rect y="25.34" width="10.48" height="3.61" fill="#3e27be"/>
<rect y="27.95" width="10.48" height="14.05" fill="#3d24b7"/>
<rect y="40.99" width="10.48" height="11.44" fill="#3c22b0"/>
<rect y="51.43" width="10.48" height="3.61" fill="#3d24b7"/>
<rect y="54.04" width="10.48" height="6.22" fill="#3e27be"/>
<rect y="59.26" width="10.48" height="16.66" fill="#3d24b7"/>
<rect y="74.92" width="10.48" height="6.22" fill="#3e27be"/>
<rect y="80.13" width="10.48" height="16.66" fill="#3d24b7"/>
<rect y="95.79" width="10.48" height="6.22" fill="#3e27be"/>
<rect y="101.01" width="10.48" height="3.61" fill="#3d24b7"/>
<rect y="103.62" width="10.48" height="3.61" fill="#3c22b0"/>
<rect y="106.23" width="10.48" height="3.61" fill="#3d24b7"/>
<rect y="108.84" width="10.48" height="8.83" fill="#3e27be"/>
<rect y="116.67" width="10.48" height="3.61" fill="#4029c5"/>
<rect y="119.28" width="10.48" height="3.61" fill="#3f30d9"/>
<rect y="121.88" width="10.48" height="8.83" fill="#3e32de"/>
<rect y="129.71" width="10.48" height="3.61" fill="#3f30d9"/>
<rect y="132.32" width="10.48" height="11.44" fill="#402dd3"/>
<rect y="142.76" width="10.48" height="3.61" fill="#402ccc"/>
<rect y="145.37" width="10.48" height="6.22" fill="#402dd3"/>
<rect y="150.59" width="10.48" height="3.61" fill="#402ccc"/>
<rect y="153.20" width="10.48" height="6.22" fill="#4029c5"/>
<rect y="158.42" width="10.48" height="6.22" fill="#402ccc"/>
<rect y="163.63" width="10.48" height="3.61" fill="#4029c5"/>
<rect y="166.24" width="10.48" height="6.22" fill="#402ccc"/>
<rect y="171.46" width="10.48" height="6.22" fill="#4029c5"/>
<rect y="176.68" width="10.48" height="3.61" fill="#402ccc"/>
<rect y="179.29" width="10.48" height="5.61" fill="#4029c5"/>
</g>
<g transform="translate(467.38 0)">
<rect y="11.90" width="10.48" height="9.22" fill="#3d24b7"/>
<rect y="20.12" width="10.48" height="3.61" fill="#3c22b0"/>
<rect y="22.73" width="10.48" height="3.61" fill="#3d24b7"/>
<rect y="25.34" width="10.48" height="14.05" fill="#3e27be"/>
<rect y="38.38" width="10.48" height="6.22" fill="#3d24b7"/>
<rect y="43.60" width="10.48" height="3.61" fill="#3e27be"/>
<rect y="46.21" width="10.48" height="6.22" fill="#3d24b7"/>
<rect y="51.43" width="10.48" height="6.22" fill="#3c22b0"/>
<rect y="56.65" width="10.48" height="6.22" fill="#3d24b7"/>
<rect y="61.87" width="10.48" height="8.83" fill="#3c22b0"/>
<rect y="69.70" width="10.48" height="3.61" fill="#3d24b7"/>
<rect y="72.31" width="10.48" height="3.61" fill="#3c22b0"/>
<rect y="74.92" width="10.48" height="24.48" fill="#3d24b7"/>
<rect y="98.40" width="10.48" height="8.83" fill="#3e27be"/>
<rect y="106.23" width="10.48" height="3.61" fill="#3d24b7"/>
<rect y="108.84" width="10.48" height="6.22" fill="#3c22b0"/>
<rect y="114.06" width="10.48" height="11.44" fill="#3d24b7"/>
<rect y="124.49" width="10.48" height="3.61" fill="#4029c5"/>
<rect y="127.10" width="10.48" height="3.61" fill="#402dd3"/>
<rect y="129.71" width="10.48" height="8.83" fill="#3f30d9"/>
<rect y="137.54" width="10.48" height="21.88" fill="#402dd3"/>
<rect y="158.42" width="10.48" height="3.61" fill="#402ccc"/>
<rect y="161.03" width="10.48" height="6.22" fill="#4029c5"/>
<rect y="166.24" width="10.48" height="6.22" fill="#402ccc"/>
<rect y="171.46" width="10.48" height="13.44" fill="#4029c5"/>
</g>
<g transform="translate(476.86 0)">
<rect y="11.90" width="10.48" height="14.44" fill="#3d24b7"/>
<rect y="25.34" width="10.48" height="8.83" fill="#3e27be"/>
<rect y="33.17" width="10.48" height="3.61" fill="#3d24b7"/>
<rect y="35.77" width="10.48" height="3.61" fill="#3c22b0"/>
<rect y="38.38" width="10.48" height="14.05" fill="#3d24b7"/>
<rect y="51.43" width="10.48" height="6.22" fill="#3c22b0"/>
<rect y="56.65" width="10.48" height="6.22" fill="#3d24b7"/>
<rect y="61.87" width="10.48" height="6.22" fill="#3c22b0"/>
<rect y="67.09" width="10.48" height="14.05" fill="#3d24b7"/>
<rect y="80.13" width="10.48" height="6.22" fill="#3c22b0"/>
<rect y="85.35" width="10.48" height="8.83" fill="#3e27be"/>
<rect y="93.18" width="10.48" height="8.83" fill="#3d24b7"/>
<rect y="101.01" width="10.48" height="3.61" fill="#3e27be"/>
<rect y="103.62" width="10.48" height="8.83" fill="#3d24b7"/>
<rect y="111.45" width="10.48" height="11.44" fill="#3e27be"/>
<rect y="121.88" width="10.48" height="3.61" fill="#3d24b7"/>
<rect y="124.49" width="10.48" height="14.05" fill="#3e27be"/>
<rect y="137.54" width="10.48" height="3.61" fill="#4029c5"/>
<rect y="140.15" width="10.48" height="3.61" fill="#402ccc"/>
<rect y="142.76" width="10.48" height="8.83" fill="#402dd3"/>
<rect y="150.59" width="10.48" height="3.61" fill="#402ccc"/>
<rect y="153.20" width="10.48" height="6.22" fill="#402dd3"/>
<rect y="158.42" width="10.48" height="6.22" fill="#402ccc"/>
<rect y="163.63" width="10.48" height="6.22" fill="#402dd3"/>
<rect y="168.85" width="10.48" height="3.61" fill="#402ccc"/>
<rect y="171.46" width="10.48" height="13.44" fill="#4029c5"/>
</g>
<g transform="translate(486.34 0)">
<rect y="11.90" width="10.48" height="6.61" fill="#3d24b7"/>
<rect y="17.51" width="10.48" height="3.61" fill="#3c22b0"/>
<rect y="20.12" width="10.48" height="8.83" fill="#3d24b7"/>
<rect y="27.95" width="10.48" height="3.61" fill="#3e27be"/>
<rect y="30.56" width="10.48" height="6.22" fill="#4029c5"/>
<rect y="35.77" width="10.48" height="3.61" fill="#3d24b7"/>
<rect y="38.38" width="10.48" height="6.22" fill="#3c22b0"/>
<rect y="43.60" width="10.48" height="3.61" fill="#3d24b7"/>
<rect y="46.21" width="10.48" height="3.61" fill="#3e27be"/>
<rect y="48.82" width="10.48" height="3.61" fill="#4029c5"/>
<rect y="51.43" width="10.48" height="3.61" fill="#3e27be"/>
<rect y="54.04" width="10.48" height="6.22" fill="#3d24b7"/>
<rect y="59.26" width="10.48" height="6.22" fill="#3e27be"/>
<rect y="64.48" width="10.48" height="3.61" fill="#3d24b7"/>
<rect y="67.09" width="10.48" height="11.44" fill="#3c22b0"/>
<rect y="77.53" width="10.48" height="3.61" fill="#3d24b7"/>
<rect y="80.13" width="10.48" height="6.22" fill="#3e27be"/>
<rect y="85.35" width="10.48" height="6.22" fill="#3d24b7"/>
<rect y="90.57" width="10.48" height="6.22" fill="#3c22b0"/>
<rect y="95.79" width="10.48" height="16.66" fill="#3d24b7"/>
<rect y="111.45" width="10.48" height="6.22" fill="#3e27be"/>
<rect y="116.67" width="10.48" height="6.22" fill="#3d24b7"/>
<rect y="121.88" width="10.48" height="3.61" fill="#3e27be"/>
<rect y="124.49" width="10.48" height="6.22" fill="#3d24b7"/>
<rect y="129.71" width="10.48" height="14.05" fill="#3e27be"/>
<rect y="142.76" width="10.48" height="11.44" fill="#3d24b7"/>
<rect y="153.20" width="10.48" height="3.61" fill="#3e27be"/>
<rect y="155.81" width="10.48" height="6.22" fill="#4029c5"/>
<rect y="161.03" width="10.48" height="6.22" fill="#402ccc"/>
<rect y="166.24" width="10.48" height="3.61" fill="#402dd3"/>
<rect y="168.85" width="10.48" height="3.61" fill="#402ccc"/>
<rect y="171.46" width="10.48" height="6.22" fill="#4029c5"/>
<rect y="176.68" width="10.48" height="8.22" fill="#402ccc"/>
</g>
<g transform="translate(495.82 0)">
<rect y="11.90" width="12.48" height="6.61" fill="#3c22b0"/>
<rect y="17.51" width="12.48" height="3.61" fill="#3d24b7"/>
<rect y="20.12" width="12.48" height="14.05" fill="#3e27be"/>
<rect y="33.17" width="12.48" height="11.44" fill="#3d24b7"/>
<rect y="43.60" width="12.48" height="19.27" fill="#3e27be"/>
<rect y="61.87" width="12.48" height="6.22" fill="#3d24b7"/>
<rect y="67.09" width="12.48" height="8.83" fill="#3e27be"/>
<rect y="74.92" width="12.48" height="6.22" fill="#3d24b7"/>
<rect y="80.13" width="12.48" height="3.61" fill="#3e27be"/>
<rect y="82.74" width="12.48" height="3.61" fill="#4029c5"/>
<rect y="85.35" width="12.48" height="3.61" fill="#3e27be"/>
<rect y="87.96" width="12.48" height="3.61" fill="#3d24b7"/>
<rect y="90.57" width="12.48" height="8.83" fill="#3c22b0"/>
<rect y="98.40" width="12.48" height="6.22" fill="#3d24b7"/>
<rect y="103.62" width="12.48" height="3.61" fill="#3c22b0"/>
<rect y="106.23" width="12.48" height="3.61" fill="#3b1fa8"/>
<rect y="108.84" width="12.48" height="3.61" fill="#3d24b7"/>
<rect y="111.45" width="12.48" height="3.61" fill="#3e27be"/>
<rect y="114.06" width="12.48" height="3.61" fill="#3d24b7"/>
<rect y="116.67" width="12.48" height="6.22" fill="#3c22b0"/>
<rect y="121.88" width="12.48" height="14.05" fill="#3d24b7"/>
<rect y="134.93" width="12.48" height="3.61" fill="#3c22b0"/>
<rect y="137.54" width="12.48" height="6.22" fill="#3d24b7"/>
<rect y="142.76" width="12.48" height="6.22" fill="#3e27be"/>
<rect y="147.98" width="12.48" height="8.83" fill="#3d24b7"/>
<rect y="155.81" width="12.48" height="6.22" fill="#3e27be"/>
<rect y="161.03" width="12.48" height="8.83" fill="#3d24b7"/>
<rect y="168.85" width="12.48" height="3.61" fill="#3e27be"/>
<rect y="171.46" width="12.48" height="6.22" fill="#4029c5"/>
<rect y="176.68" width="12.48" height="3.61" fill="#3e27be"/>
<rect y="179.29" width="12.48" height="5.61" fill="#4029c5"/>
</g>
</g></g>
</g>
<g id="cb-b">
<defs><linearGradient id="grad-b" x1="0" y1="0" x2="0" y2="1"><stop offset="0.0000" stop-color="#f9fb15"/><stop offset="0.0208" stop-color="#f6f21d"/><stop offset="0.0417" stop-color="#f5e923"/><stop offset="0.0625" stop-color="#f6e128"/><stop offset="0.0833" stop-color="#fad92c"/><stop offset="0.1042" stop-color="#fcd030"/><stop offset="0.1250" stop-color="#fec835"/><stop offset="0.1458" stop-color="#fdc13a"/><stop offset="0.1667" stop-color="#f9bc39"/><stop offset="0.1875" stop-color="#f2ba34"/><stop offset="0.2083" stop-color="#e6bb2b"/><stop offset="0.2292" stop-color="#d8bd29"/><stop offset="0.2500" stop-color="#cac02b"/><stop offset="0.2708" stop-color="#b9c433"/><stop offset="0.2917" stop-color="#a8c73c"/><stop offset="0.3125" stop-color="#97c946"/><stop offset="0.3333" stop-color="#85cc51"/><stop offset="0.3542" stop-color="#74cc5c"/><stop offset="0.3750" stop-color="#62cd69"/><stop offset="0.3958" stop-color="#51cc77"/><stop offset="0.4167" stop-color="#42ca85"/><stop offset="0.4375" stop-color="#36c893"/><stop offset="0.4583" stop-color="#2ac5a0"/><stop offset="0.4792" stop-color="#1cc0ad"/><stop offset="0.5000" stop-color="#0dbbb9"/><stop offset="0.5208" stop-color="#00b6c2"/><stop offset="0.5417" stop-color="#00b2cb"/><stop offset="0.5625" stop-color="#01add3"/><stop offset="0.5833" stop-color="#0aa7da"/><stop offset="0.6042" stop-color="#0fa1df"/><stop offset="0.6250" stop-color="#139be3"/><stop offset="0.6458" stop-color="#1594e7"/><stop offset="0.6667" stop-color="#178deb"/><stop offset="0.6875" stop-color="#1a86f0"/><stop offset="0.7083" stop-color="#1b7ff5"/><stop offset="0.7292" stop-color="#1e77f9"/><stop offset="0.7500" stop-color="#2270fd"/><stop offset="0.7708" stop-color="#2a68fe"/><stop offset="0.7917" stop-color="#2f60fe"/><stop offset="0.8125" stop-color="#3358fc"/><stop offset="0.8333" stop-color="#3551f9"/><stop offset="0.8542" stop-color="#3749f5"/><stop offset="0.8750" stop-color="#3a42ef"/><stop offset="0.8958" stop-color="#3c3ae8"/><stop offset="0.9167" stop-color="#3d33df"/><stop offset="0.9375" stop-color="#3f2ed5"/><stop offset="0.9583" stop-color="#402ac6"/><stop offset="0.9792" stop-color="#3d24b8"/><stop offset="1.0000" stop-color="#3b1fa8"/></linearGradient></defs>
<rect x="508.8" y="14.90" width="10.5" height="167.00" fill="url(#grad-b)"/>
<rect x="517.7" y="30.8" width="1.6" height="0.7" fill="#222" opacity="0.7"/>
<rect x="517.7" y="59.8" width="1.6" height="0.7" fill="#222" opacity="0.7"/>
<rect x="517.7" y="88.1" width="1.6" height="0.7" fill="#222" opacity="0.7"/>
<rect x="517.7" y="117.0" width="1.6" height="0.7" fill="#222" opacity="0.7"/>
<rect x="517.7" y="146.7" width="1.6" height="0.7" fill="#222" opacity="0.7"/>
<rect x="517.7" y="174.0" width="1.6" height="0.7" fill="#222" opacity="0.7"/>
<rect x="517.7" y="45.2" width="1.6" height="0.7" fill="#222" opacity="0.7"/>
<rect x="517.7" y="73.9" width="1.6" height="0.7" fill="#222" opacity="0.7"/>
<rect x="517.7" y="102.5" width="1.6" height="0.7" fill="#222" opacity="0.7"/>
<rect x="517.7" y="131.8" width="1.6" height="0.7" fill="#222" opacity="0.7"/>
<rect x="517.7" y="160.3" width="1.6" height="0.7" fill="#222" opacity="0.7"/>
</g>
<g class="lb" id="lb-b">
<text x="276.1" y="19.7" font-size="15.3" text-anchor="start">(b)</text>
<text x="312.5" y="25.5" font-size="12.3" text-anchor="end">−15</text>
<text x="312.5" y="51.1" font-size="12.3" text-anchor="end">−10</text>
<text x="312.5" y="78.4" font-size="12.3" text-anchor="end">−5</text>
<text x="312.5" y="103.9" font-size="12.3" text-anchor="end">0</text>
<text x="312.5" y="129.6" font-size="12.3" text-anchor="end">5</text>
<text x="312.5" y="156" font-size="12.3" text-anchor="end">10</text>
<text x="312.5" y="182.6" font-size="12.3" text-anchor="end">15</text>
<text x="324.7" y="193.9" font-size="12.3" text-anchor="middle">−4</text>
<text x="347.2" y="193.9" font-size="12.3" text-anchor="middle">−3</text>
<text x="367.7" y="193.9" font-size="12.3" text-anchor="middle">−2</text>
<text x="388" y="193.9" font-size="12.3" text-anchor="middle">−1</text>
<text x="415" y="193.9" font-size="12.3" text-anchor="middle">0</text>
<text x="434.3" y="193.9" font-size="12.3" text-anchor="middle">1</text>
<text x="456.8" y="193.9" font-size="12.3" text-anchor="middle">2</text>
<text x="478.4" y="193.9" font-size="12.3" text-anchor="middle">3</text>
<text x="497.7" y="193.9" font-size="12.3" text-anchor="middle">4</text>
<text x="414.4" y="208.6" font-size="15.8" text-anchor="middle">Doppler (KHz)</text>
<text transform="translate(290.5 97) rotate(-90)" font-size="15.8" text-anchor="middle">Delay (chips)</text>
<text x="521.4" y="35.5" font-size="12.3" text-anchor="start">6</text>
<text x="521.4" y="64.5" font-size="12.3" text-anchor="start">5</text>
<text x="521.4" y="92.8" font-size="12.3" text-anchor="start">4</text>
<text x="521.4" y="121.7" font-size="12.3" text-anchor="start">3</text>
<text x="521.4" y="151.4" font-size="12.3" text-anchor="start">2</text>
<text x="521.4" y="178.7" font-size="12.3" text-anchor="start">1</text>
<text x="519.8" y="15.3" font-size="12">×<tspan dx="1.5" letter-spacing="0.8">10</tspan><tspan font-size="7.5" dy="-4">4</tspan></text>
</g>
<g class="hm" id="hm-c">
<clipPath id="clip-c"><rect x="40.10" y="242.30" width="190.00" height="149.80"/></clipPath>
<g clip-path="url(#clip-c)"><g filter="url(#soft)">
<g transform="translate(37.10 0)">
<rect y="239.30" width="13.50" height="6.34" fill="#3e27be"/>
<rect y="244.64" width="13.50" height="5.68" fill="#3d24b7"/>
<rect y="249.32" width="13.50" height="12.70" fill="#3e27be"/>
<rect y="261.03" width="13.50" height="10.36" fill="#4029c5"/>
<rect y="270.39" width="13.50" height="5.68" fill="#3e27be"/>
<rect y="275.07" width="13.50" height="12.70" fill="#4029c5"/>
<rect y="286.77" width="13.50" height="5.68" fill="#3e27be"/>
<rect y="291.45" width="13.50" height="3.34" fill="#4029c5"/>
<rect y="293.79" width="13.50" height="3.34" fill="#3e27be"/>
<rect y="296.13" width="13.50" height="3.34" fill="#3d24b7"/>
<rect y="298.48" width="13.50" height="8.02" fill="#3e27be"/>
<rect y="305.50" width="13.50" height="3.34" fill="#3d24b7"/>
<rect y="307.84" width="13.50" height="19.72" fill="#3e27be"/>
<rect y="326.56" width="13.50" height="3.34" fill="#3d24b7"/>
<rect y="328.90" width="13.50" height="3.34" fill="#3e27be"/>
<rect y="331.24" width="13.50" height="5.68" fill="#4029c5"/>
<rect y="335.93" width="13.50" height="29.09" fill="#3e27be"/>
<rect y="364.01" width="13.50" height="10.36" fill="#3d24b7"/>
<rect y="373.38" width="13.50" height="5.68" fill="#3e27be"/>
<rect y="378.06" width="13.50" height="3.34" fill="#3d24b7"/>
<rect y="380.40" width="13.50" height="14.70" fill="#3e27be"/>
</g>
<g transform="translate(49.60 0)">
<rect y="239.30" width="10.50" height="15.70" fill="#3e27be"/>
<rect y="254.00" width="10.50" height="12.70" fill="#3d24b7"/>
<rect y="265.71" width="10.50" height="17.38" fill="#3e27be"/>
<rect y="282.09" width="10.50" height="8.02" fill="#4029c5"/>
<rect y="289.11" width="10.50" height="3.34" fill="#3e27be"/>
<rect y="291.45" width="10.50" height="15.04" fill="#3d24b7"/>
<rect y="305.50" width="10.50" height="5.68" fill="#3e27be"/>
<rect y="310.18" width="10.50" height="5.68" fill="#3d24b7"/>
<rect y="314.86" width="10.50" height="3.34" fill="#3e27be"/>
<rect y="317.20" width="10.50" height="3.34" fill="#3d24b7"/>
<rect y="319.54" width="10.50" height="5.68" fill="#3c22b0"/>
<rect y="324.22" width="10.50" height="5.68" fill="#3d24b7"/>
<rect y="328.90" width="10.50" height="10.36" fill="#3e27be"/>
<rect y="338.27" width="10.50" height="12.70" fill="#4029c5"/>
<rect y="349.97" width="10.50" height="19.73" fill="#3e27be"/>
<rect y="368.69" width="10.50" height="5.68" fill="#4029c5"/>
<rect y="373.38" width="10.50" height="3.34" fill="#3e27be"/>
<rect y="375.72" width="10.50" height="10.36" fill="#3d24b7"/>
<rect y="385.08" width="10.50" height="3.34" fill="#3e27be"/>
<rect y="387.42" width="10.50" height="3.34" fill="#4029c5"/>
<rect y="389.76" width="10.50" height="5.34" fill="#402ccc"/>
</g>
<g transform="translate(59.10 0)">
<rect y="239.30" width="10.50" height="41.45" fill="#3e27be"/>
<rect y="279.75" width="10.50" height="3.34" fill="#4029c5"/>
<rect y="282.09" width="10.50" height="26.75" fill="#3e27be"/>
<rect y="307.84" width="10.50" height="8.02" fill="#4029c5"/>
<rect y="314.86" width="10.50" height="3.34" fill="#3e27be"/>
<rect y="317.20" width="10.50" height="5.68" fill="#3d24b7"/>
<rect y="321.88" width="10.50" height="17.38" fill="#3e27be"/>
<rect y="338.27" width="10.50" height="5.68" fill="#4029c5"/>
<rect y="342.95" width="10.50" height="8.02" fill="#3e27be"/>
<rect y="349.97" width="10.50" height="3.34" fill="#3d24b7"/>
<rect y="352.31" width="10.50" height="3.34" fill="#3e27be"/>
<rect y="354.65" width="10.50" height="3.34" fill="#4029c5"/>
<rect y="356.99" width="10.50" height="10.36" fill="#3e27be"/>
<rect y="366.35" width="10.50" height="3.34" fill="#4029c5"/>
<rect y="368.69" width="10.50" height="3.34" fill="#402ccc"/>
<rect y="371.03" width="10.50" height="3.34" fill="#3f30d9"/>
<rect y="373.38" width="10.50" height="3.34" fill="#3d35e3"/>
<rect y="375.72" width="10.50" height="3.34" fill="#3b3cea"/>
<rect y="378.06" width="10.50" height="3.34" fill="#3a40ee"/>
<rect y="380.40" width="10.50" height="14.70" fill="#3944f1"/>
</g>
<g transform="translate(68.60 0)">
<rect y="239.30" width="10.50" height="6.34" fill="#4029c5"/>
<rect y="244.64" width="10.50" height="5.68" fill="#3e27be"/>
<rect y="249.32" width="10.50" height="3.34" fill="#3d24b7"/>
<rect y="251.66" width="10.50" height="3.34" fill="#3e27be"/>
<rect y="254.00" width="10.50" height="8.02" fill="#3d24b7"/>
<rect y="261.03" width="10.50" height="3.34" fill="#3e27be"/>
<rect y="263.37" width="10.50" height="3.34" fill="#3d24b7"/>
<rect y="265.71" width="10.50" height="8.02" fill="#3e27be"/>
<rect y="272.73" width="10.50" height="5.68" fill="#4029c5"/>
<rect y="277.41" width="10.50" height="3.34" fill="#3e27be"/>
<rect y="279.75" width="10.50" height="5.68" fill="#3d24b7"/>
<rect y="284.43" width="10.50" height="5.68" fill="#3e27be"/>
<rect y="289.11" width="10.50" height="3.34" fill="#3d24b7"/>
<rect y="291.45" width="10.50" height="8.02" fill="#3e27be"/>
<rect y="298.48" width="10.50" height="5.68" fill="#4029c5"/>
<rect y="303.16" width="10.50" height="5.68" fill="#3e27be"/>
<rect y="307.84" width="10.50" height="3.34" fill="#4029c5"/>
<rect y="310.18" width="10.50" height="5.68" fill="#3e27be"/>
<rect y="314.86" width="10.50" height="8.02" fill="#4029c5"/>
<rect y="321.88" width="10.50" height="22.07" fill="#3e27be"/>
<rect y="342.95" width="10.50" height="3.34" fill="#3d24b7"/>
<rect y="345.29" width="10.50" height="3.34" fill="#3e27be"/>
<rect y="347.63" width="10.50" height="3.34" fill="#4029c5"/>
<rect y="349.97" width="10.50" height="5.68" fill="#3e27be"/>
<rect y="354.65" width="10.50" height="3.34" fill="#402ccc"/>
<rect y="356.99" width="10.50" height="3.34" fill="#3e32de"/>
<rect y="359.33" width="10.50" height="3.34" fill="#3a40ee"/>
<rect y="361.67" width="10.50" height="8.02" fill="#354ef8"/>
<rect y="368.69" width="10.50" height="8.02" fill="#3552f9"/>
<rect y="375.72" width="10.50" height="3.34" fill="#354ef8"/>
<rect y="378.06" width="10.50" height="5.68" fill="#364bf6"/>
<rect y="382.74" width="10.50" height="3.34" fill="#3847f3"/>
<rect y="385.08" width="10.50" height="5.68" fill="#3944f1"/>
<rect y="389.76" width="10.50" height="5.34" fill="#3a40ee"/>
</g>
<g transform="translate(78.10 0)">
<rect y="239.30" width="10.50" height="8.68" fill="#4029c5"/>
<rect y="246.98" width="10.50" height="3.34" fill="#3e27be"/>
<rect y="249.32" width="10.50" height="5.68" fill="#3d24b7"/>
<rect y="254.00" width="10.50" height="8.02" fill="#4029c5"/>
<rect y="261.03" width="10.50" height="3.34" fill="#3e27be"/>
<rect y="263.37" width="10.50" height="3.34" fill="#3d24b7"/>
<rect y="265.71" width="10.50" height="5.68" fill="#3c22b0"/>
<rect y="270.39" width="10.50" height="3.34" fill="#3d24b7"/>
<rect y="272.73" width="10.50" height="8.02" fill="#3e27be"/>
<rect y="279.75" width="10.50" height="3.34" fill="#4029c5"/>
<rect y="282.09" width="10.50" height="24.41" fill="#3e27be"/>
<rect y="305.50" width="10.50" height="3.34" fill="#3d24b7"/>
<rect y="307.84" width="10.50" height="5.68" fill="#3e27be"/>
<rect y="312.52" width="10.50" height="3.34" fill="#3d24b7"/>
<rect y="314.86" width="10.50" height="17.38" fill="#3e27be"/>
<rect y="331.24" width="10.50" height="5.68" fill="#3d24b7"/>
<rect y="335.93" width="10.50" height="3.34" fill="#3e27be"/>
<rect y="338.27" width="10.50" height="5.68" fill="#4029c5"/>
<rect y="342.95" width="10.50" height="3.34" fill="#402dd3"/>
<rect y="345.29" width="10.50" height="3.34" fill="#3c39e7"/>
<rect y="347.63" width="10.50" height="3.34" fill="#364bf6"/>
<rect y="349.97" width="10.50" height="3.34" fill="#3455fb"/>
<rect y="352.31" width="10.50" height="10.36" fill="#3359fd"/>
<rect y="361.67" width="10.50" height="3.34" fill="#3455fb"/>
<rect y="364.01" width="10.50" height="3.34" fill="#3552f9"/>
<rect y="366.35" width="10.50" height="3.34" fill="#354ef8"/>
<rect y="368.69" width="10.50" height="5.68" fill="#364bf6"/>
<rect y="373.38" width="10.50" height="3.34" fill="#3847f3"/>
<rect y="375.72" width="10.50" height="3.34" fill="#3944f1"/>
<rect y="378.06" width="10.50" height="3.34" fill="#3a40ee"/>
<rect y="380.40" width="10.50" height="3.34" fill="#3b3cea"/>
<rect y="382.74" width="10.50" height="5.68" fill="#3a40ee"/>
<rect y="387.42" width="10.50" height="3.34" fill="#3b3cea"/>
<rect y="389.76" width="10.50" height="5.34" fill="#3c39e7"/>
</g>
<g transform="translate(87.60 0)">
<rect y="239.30" width="10.50" height="8.68" fill="#3e27be"/>
<rect y="246.98" width="10.50" height="5.68" fill="#3d24b7"/>
<rect y="251.66" width="10.50" height="22.07" fill="#3e27be"/>
<rect y="272.73" width="10.50" height="3.34" fill="#3d24b7"/>
<rect y="275.07" width="10.50" height="3.34" fill="#3e27be"/>
<rect y="277.41" width="10.50" height="5.68" fill="#4029c5"/>
<rect y="282.09" width="10.50" height="3.34" fill="#3e27be"/>
<rect y="284.43" width="10.50" height="3.34" fill="#3d24b7"/>
<rect y="286.77" width="10.50" height="3.34" fill="#3c22b0"/>
<rect y="289.11" width="10.50" height="3.34" fill="#3d24b7"/>
<rect y="291.45" width="10.50" height="15.04" fill="#3e27be"/>
<rect y="305.50" width="10.50" height="5.68" fill="#4029c5"/>
<rect y="310.18" width="10.50" height="12.70" fill="#3e27be"/>
<rect y="321.88" width="10.50" height="5.68" fill="#4029c5"/>
<rect y="326.56" width="10.50" height="3.34" fill="#402ccc"/>
<rect y="328.90" width="10.50" height="3.34" fill="#4029c5"/>
<rect y="331.24" width="10.50" height="3.34" fill="#3e27be"/>
<rect y="333.58" width="10.50" height="3.34" fill="#402dd3"/>
<rect y="335.93" width="10.50" height="3.34" fill="#3a40ee"/>
<rect y="338.27" width="10.50" height="3.34" fill="#3359fd"/>
<rect y="340.61" width="10.50" height="3.34" fill="#2d64ff"/>
<rect y="342.95" width="10.50" height="3.34" fill="#2f60fe"/>
<rect y="345.29" width="10.50" height="8.02" fill="#315dfd"/>
<rect y="352.31" width="10.50" height="3.34" fill="#3359fd"/>
<rect y="354.65" width="10.50" height="8.02" fill="#3552f9"/>
<rect y="361.67" width="10.50" height="3.34" fill="#354ef8"/>
<rect y="364.01" width="10.50" height="3.34" fill="#364bf6"/>
<rect y="366.35" width="10.50" height="3.34" fill="#3847f3"/>
<rect y="368.69" width="10.50" height="3.34" fill="#3944f1"/>
<rect y="371.03" width="10.50" height="8.02" fill="#3a40ee"/>
<rect y="378.06" width="10.50" height="10.36" fill="#3b3cea"/>
<rect y="387.42" width="10.50" height="7.68" fill="#3c39e7"/>
</g>
<g transform="translate(97.10 0)">
<rect y="239.30" width="10.50" height="29.75" fill="#3e27be"/>
<rect y="268.05" width="10.50" height="8.02" fill="#4029c5"/>
<rect y="275.07" width="10.50" height="5.68" fill="#3d24b7"/>
<rect y="279.75" width="10.50" height="8.02" fill="#3e27be"/>
<rect y="286.77" width="10.50" height="3.34" fill="#3d24b7"/>
<rect y="289.11" width="10.50" height="22.07" fill="#3e27be"/>
<rect y="310.18" width="10.50" height="5.68" fill="#3d24b7"/>
<rect y="314.86" width="10.50" height="8.02" fill="#3e27be"/>
<rect y="321.88" width="10.50" height="3.34" fill="#3d24b7"/>
<rect y="324.22" width="10.50" height="3.34" fill="#3e27be"/>
<rect y="326.56" width="10.50" height="3.34" fill="#3e32de"/>
<rect y="328.90" width="10.50" height="3.34" fill="#3552f9"/>
<rect y="331.24" width="10.50" height="3.34" fill="#2968fe"/>
<rect y="333.58" width="10.50" height="3.34" fill="#256cfd"/>
<rect y="335.93" width="10.50" height="5.68" fill="#2270fd"/>
<rect y="340.61" width="10.50" height="3.34" fill="#2968fe"/>
<rect y="342.95" width="10.50" height="3.34" fill="#315dfd"/>
<rect y="345.29" width="10.50" height="3.34" fill="#3359fd"/>
<rect y="347.63" width="10.50" height="3.34" fill="#3455fb"/>
<rect y="349.97" width="10.50" height="3.34" fill="#3552f9"/>
<rect y="352.31" width="10.50" height="3.34" fill="#354ef8"/>
<rect y="354.65" width="10.50" height="3.34" fill="#3847f3"/>
<rect y="356.99" width="10.50" height="10.36" fill="#3944f1"/>
<rect y="366.35" width="10.50" height="5.68" fill="#3a40ee"/>
<rect y="371.03" width="10.50" height="8.02" fill="#3b3cea"/>
<rect y="378.06" width="10.50" height="3.34" fill="#3c39e7"/>
<rect y="380.40" width="10.50" height="14.70" fill="#3d35e3"/>
</g>
<g transform="translate(106.60 0)">
<rect y="239.30" width="10.50" height="13.36" fill="#3d24b7"/>
<rect y="251.66" width="10.50" height="5.68" fill="#3e27be"/>
<rect y="256.34" width="10.50" height="5.68" fill="#4029c5"/>
<rect y="261.03" width="10.50" height="3.34" fill="#3e27be"/>
<rect y="263.37" width="10.50" height="8.02" fill="#3d24b7"/>
<rect y="270.39" width="10.50" height="5.68" fill="#3e27be"/>
<rect y="275.07" width="10.50" height="3.34" fill="#3d24b7"/>
<rect y="277.41" width="10.50" height="17.38" fill="#3e27be"/>
<rect y="293.79" width="10.50" height="5.68" fill="#3d24b7"/>
<rect y="298.48" width="10.50" height="3.34" fill="#3e27be"/>
<rect y="300.82" width="10.50" height="3.34" fill="#4029c5"/>
<rect y="303.16" width="10.50" height="3.34" fill="#3e27be"/>
<rect y="305.50" width="10.50" height="5.68" fill="#3d24b7"/>
<rect y="310.18" width="10.50" height="10.36" fill="#3e27be"/>
<rect y="319.54" width="10.50" height="3.34" fill="#402ccc"/>
<rect y="321.88" width="10.50" height="3.34" fill="#354ef8"/>
<rect y="324.22" width="10.50" height="3.34" fill="#1b81f3"/>
<rect y="326.56" width="10.50" height="8.02" fill="#1988ee"/>
<rect y="333.58" width="10.50" height="3.34" fill="#1b7ef6"/>
<rect y="335.93" width="10.50" height="3.34" fill="#1e77fa"/>
<rect y="338.27" width="10.50" height="3.34" fill="#256cfd"/>
<rect y="340.61" width="10.50" height="3.34" fill="#2d64ff"/>
<rect y="342.95" width="10.50" height="3.34" fill="#315dfd"/>
<rect y="345.29" width="10.50" height="3.34" fill="#3455fb"/>
<rect y="347.63" width="10.50" height="3.34" fill="#354ef8"/>
<rect y="349.97" width="10.50" height="3.34" fill="#364bf6"/>
<rect y="352.31" width="10.50" height="3.34" fill="#3847f3"/>
<rect y="354.65" width="10.50" height="3.34" fill="#3944f1"/>
<rect y="356.99" width="10.50" height="8.02" fill="#3a40ee"/>
<rect y="364.01" width="10.50" height="5.68" fill="#3b3cea"/>
<rect y="368.69" width="10.50" height="15.04" fill="#3c39e7"/>
<rect y="382.74" width="10.50" height="12.36" fill="#3d35e3"/>
</g>
<g transform="translate(116.10 0)">
<rect y="239.30" width="10.50" height="6.34" fill="#3e27be"/>
<rect y="244.64" width="10.50" height="3.34" fill="#3d24b7"/>
<rect y="246.98" width="10.50" height="8.02" fill="#3e27be"/>
<rect y="254.00" width="10.50" height="3.34" fill="#3d24b7"/>
<rect y="256.34" width="10.50" height="31.43" fill="#3e27be"/>
<rect y="286.77" width="10.50" height="3.34" fill="#3d24b7"/>
<rect y="289.11" width="10.50" height="19.73" fill="#3e27be"/>
<rect y="307.84" width="10.50" height="5.68" fill="#3d24b7"/>
<rect y="312.52" width="10.50" height="3.34" fill="#3e27be"/>
<rect y="314.86" width="10.50" height="3.34" fill="#3d24b7"/>
<rect y="317.20" width="10.50" height="3.34" fill="#3b3cea"/>
<rect y="319.54" width="10.50" height="3.34" fill="#1593e8"/>
<rect y="321.88" width="10.50" height="3.34" fill="#08a8d9"/>
<rect y="324.22" width="10.50" height="3.34" fill="#0ca6dc"/>
<rect y="326.56" width="10.50" height="3.34" fill="#0fa3de"/>
<rect y="328.90" width="10.50" height="3.34" fill="#168fea"/>
<rect y="331.24" width="10.50" height="3.34" fill="#1b7ef6"/>
<rect y="333.58" width="10.50" height="3.34" fill="#2270fd"/>
<rect y="335.93" width="10.50" height="3.34" fill="#2d64ff"/>
<rect y="338.27" width="10.50" height="3.34" fill="#315dfd"/>
<rect y="340.61" width="10.50" height="3.34" fill="#3455fb"/>
<rect y="342.95" width="10.50" height="3.34" fill="#354ef8"/>
<rect y="345.29" width="10.50" height="3.34" fill="#364bf6"/>
<rect y="347.63" width="10.50" height="3.34" fill="#3847f3"/>
<rect y="349.97" width="10.50" height="3.34" fill="#3944f1"/>
<rect y="352.31" width="10.50" height="3.34" fill="#3a40ee"/>
<rect y="354.65" width="10.50" height="3.34" fill="#3944f1"/>
<rect y="356.99" width="10.50" height="3.34" fill="#3a40ee"/>
<rect y="359.33" width="10.50" height="8.02" fill="#3b3cea"/>
<rect y="366.35" width="10.50" height="5.68" fill="#3c39e7"/>
<rect y="371.03" width="10.50" height="15.04" fill="#3d35e3"/>
<rect y="385.08" width="10.50" height="3.34" fill="#3c39e7"/>
<rect y="387.42" width="10.50" height="7.68" fill="#3d35e3"/>
</g>
<g transform="translate(125.60 0)">
<rect y="239.30" width="10.50" height="11.02" fill="#3e27be"/>
<rect y="249.32" width="10.50" height="3.34" fill="#3d24b7"/>
<rect y="251.66" width="10.50" height="19.72" fill="#3e27be"/>
<rect y="270.39" width="10.50" height="8.02" fill="#3d24b7"/>
<rect y="277.41" width="10.50" height="3.34" fill="#3e27be"/>
<rect y="279.75" width="10.50" height="8.02" fill="#4029c5"/>
<rect y="286.77" width="10.50" height="17.38" fill="#3e27be"/>
<rect y="303.16" width="10.50" height="5.68" fill="#3d24b7"/>
<rect y="307.84" width="10.50" height="8.02" fill="#3e27be"/>
<rect y="314.86" width="10.50" height="3.34" fill="#3e32de"/>
<rect y="317.20" width="10.50" height="3.34" fill="#00b7c2"/>
<rect y="319.54" width="10.50" height="5.68" fill="#4dcb7a"/>
<rect y="324.22" width="10.50" height="3.34" fill="#00b7c2"/>
<rect y="326.56" width="10.50" height="3.34" fill="#129ce2"/>
<rect y="328.90" width="10.50" height="3.34" fill="#1a85f0"/>
<rect y="331.24" width="10.50" height="3.34" fill="#2074fb"/>
<rect y="333.58" width="10.50" height="3.34" fill="#2968fe"/>
<rect y="335.93" width="10.50" height="3.34" fill="#315dfd"/>
<rect y="338.27" width="10.50" height="3.34" fill="#3359fd"/>
<rect y="340.61" width="10.50" height="3.34" fill="#3552f9"/>
<rect y="342.95" width="10.50" height="3.34" fill="#354ef8"/>
<rect y="345.29" width="10.50" height="3.34" fill="#3847f3"/>
<rect y="347.63" width="10.50" height="3.34" fill="#3944f1"/>
<rect y="349.97" width="10.50" height="10.36" fill="#3a40ee"/>
<rect y="359.33" width="10.50" height="8.02" fill="#3b3cea"/>
<rect y="366.35" width="10.50" height="10.36" fill="#3c39e7"/>
<rect y="375.72" width="10.50" height="19.38" fill="#3d35e3"/>
</g>
<g transform="translate(135.10 0)">
<rect y="239.30" width="10.50" height="6.34" fill="#3d24b7"/>
<rect y="244.64" width="10.50" height="8.02" fill="#3e27be"/>
<rect y="251.66" width="10.50" height="3.34" fill="#3d24b7"/>
<rect y="254.00" width="10.50" height="3.34" fill="#3e27be"/>
<rect y="256.34" width="10.50" height="5.68" fill="#4029c5"/>
<rect y="261.03" width="10.50" height="3.34" fill="#3e27be"/>
<rect y="263.37" width="10.50" height="5.68" fill="#3d24b7"/>
<rect y="268.05" width="10.50" height="3.34" fill="#3e27be"/>
<rect y="270.39" width="10.50" height="5.68" fill="#3d24b7"/>
<rect y="275.07" width="10.50" height="3.34" fill="#3e27be"/>
<rect y="277.41" width="10.50" height="5.68" fill="#3d24b7"/>
<rect y="282.09" width="10.50" height="17.38" fill="#3e27be"/>
<rect y="298.48" width="10.50" height="3.34" fill="#3d24b7"/>
<rect y="300.82" width="10.50" height="5.68" fill="#3e27be"/>
<rect y="305.50" width="10.50" height="10.36" fill="#4029c5"/>
<rect y="314.86" width="10.50" height="3.34" fill="#3847f3"/>
<rect y="317.20" width="10.50" height="3.34" fill="#f9da2b"/>
<rect y="319.54" width="10.50" height="3.34" fill="#f9fb15"/>
<rect y="321.88" width="10.50" height="3.34" fill="#f5ba36"/>
<rect y="324.22" width="10.50" height="3.34" fill="#46cb81"/>
<rect y="326.56" width="10.50" height="3.34" fill="#00b2ca"/>
<rect y="328.90" width="10.50" height="3.34" fill="#129ce2"/>
<rect y="331.24" width="10.50" height="3.34" fill="#1988ee"/>
<rect y="333.58" width="10.50" height="3.34" fill="#1b7ef6"/>
<rect y="335.93" width="10.50" height="3.34" fill="#2074fb"/>
<rect y="338.27" width="10.50" height="3.34" fill="#2968fe"/>
<rect y="340.61" width="10.50" height="3.34" fill="#2f60fe"/>
<rect y="342.95" width="10.50" height="3.34" fill="#3359fd"/>
<rect y="345.29" width="10.50" height="3.34" fill="#3455fb"/>
<rect y="347.63" width="10.50" height="3.34" fill="#3552f9"/>
<rect y="349.97" width="10.50" height="3.34" fill="#354ef8"/>
<rect y="352.31" width="10.50" height="8.02" fill="#3847f3"/>
<rect y="359.33" width="10.50" height="5.68" fill="#3944f1"/>
<rect y="364.01" width="10.50" height="8.02" fill="#3a40ee"/>
<rect y="371.03" width="10.50" height="12.70" fill="#3b3cea"/>
<rect y="382.74" width="10.50" height="12.36" fill="#3c39e7"/>
</g>
<g transform="translate(144.60 0)">
<rect y="239.30" width="10.50" height="6.34" fill="#3d24b7"/>
<rect y="244.64" width="10.50" height="3.34" fill="#3e27be"/>
<rect y="246.98" width="10.50" height="3.34" fill="#402ccc"/>
<rect y="249.32" width="10.50" height="3.34" fill="#4029c5"/>
<rect y="251.66" width="10.50" height="12.70" fill="#3e27be"/>
<rect y="263.37" width="10.50" height="8.02" fill="#4029c5"/>
<rect y="270.39" width="10.50" height="29.09" fill="#3e27be"/>
<rect y="298.48" width="10.50" height="3.34" fill="#4029c5"/>
<rect y="300.82" width="10.50" height="3.34" fill="#3e27be"/>
<rect y="303.16" width="10.50" height="5.68" fill="#3d24b7"/>
<rect y="307.84" width="10.50" height="8.02" fill="#3e27be"/>
<rect y="314.86" width="10.50" height="3.34" fill="#3847f3"/>
<rect y="317.20" width="10.50" height="3.34" fill="#88cb4f"/>
<rect y="319.54" width="10.50" height="3.34" fill="#f6e227"/>
<rect y="321.88" width="10.50" height="3.34" fill="#f7de29"/>
<rect y="324.22" width="10.50" height="3.34" fill="#f8bc39"/>
<rect y="326.56" width="10.50" height="3.34" fill="#88cb4f"/>
<rect y="328.90" width="10.50" height="3.34" fill="#34c795"/>
<rect y="331.24" width="10.50" height="3.34" fill="#00b4c6"/>
<rect y="333.58" width="10.50" height="3.34" fill="#0ca6dc"/>
<rect y="335.93" width="10.50" height="3.34" fill="#1593e8"/>
<rect y="338.27" width="10.50" height="3.34" fill="#1a85f0"/>
<rect y="340.61" width="10.50" height="3.34" fill="#1c7bf8"/>
<rect y="342.95" width="10.50" height="3.34" fill="#2074fb"/>
<rect y="345.29" width="10.50" height="3.34" fill="#256cfd"/>
<rect y="347.63" width="10.50" height="3.34" fill="#2d64ff"/>
<rect y="349.97" width="10.50" height="3.34" fill="#315dfd"/>
<rect y="352.31" width="10.50" height="3.34" fill="#3359fd"/>
<rect y="354.65" width="10.50" height="3.34" fill="#3455fb"/>
<rect y="356.99" width="10.50" height="3.34" fill="#3552f9"/>
<rect y="359.33" width="10.50" height="3.34" fill="#354ef8"/>
<rect y="361.67" width="10.50" height="10.36" fill="#364bf6"/>
<rect y="371.03" width="10.50" height="8.02" fill="#3847f3"/>
<rect y="378.06" width="10.50" height="5.68" fill="#3944f1"/>
<rect y="382.74" width="10.50" height="5.68" fill="#3a40ee"/>
<rect y="387.42" width="10.50" height="7.68" fill="#3b3cea"/>
</g>
<g transform="translate(154.10 0)">
<rect y="239.30" width="10.50" height="8.68" fill="#3e27be"/>
<rect y="246.98" width="10.50" height="5.68" fill="#3d24b7"/>
<rect y="251.66" width="10.50" height="8.02" fill="#3e27be"/>
<rect y="258.68" width="10.50" height="10.36" fill="#3d24b7"/>
<rect y="268.05" width="10.50" height="5.68" fill="#3e27be"/>
<rect y="272.73" width="10.50" height="3.34" fill="#4029c5"/>
<rect y="275.07" width="10.50" height="3.34" fill="#3e27be"/>
<rect y="277.41" width="10.50" height="3.34" fill="#3d24b7"/>
<rect y="279.75" width="10.50" height="26.75" fill="#3e27be"/>
<rect y="305.50" width="10.50" height="3.34" fill="#4029c5"/>
<rect y="307.84" width="10.50" height="8.02" fill="#3e27be"/>
<rect y="314.86" width="10.50" height="3.34" fill="#4029c5"/>
<rect y="317.20" width="10.50" height="3.34" fill="#3455fb"/>
<rect y="319.54" width="10.50" height="3.34" fill="#34c795"/>
<rect y="321.88" width="10.50" height="3.34" fill="#fdbf3b"/>
<rect y="324.22" width="10.50" height="3.34" fill="#fdc339"/>
<rect y="326.56" width="10.50" height="3.34" fill="#fec636"/>
<rect y="328.90" width="10.50" height="3.34" fill="#dfbc28"/>
<rect y="331.24" width="10.50" height="3.34" fill="#88cb4f"/>
<rect y="333.58" width="10.50" height="3.34" fill="#3ac98e"/>
<rect y="335.93" width="10.50" height="3.34" fill="#0dbbb9"/>
<rect y="338.27" width="10.50" height="3.34" fill="#00b0ce"/>
<rect y="340.61" width="10.50" height="3.34" fill="#0fa3de"/>
<rect y="342.95" width="10.50" height="3.34" fill="#1496e6"/>
<rect y="345.29" width="10.50" height="3.34" fill="#1988ee"/>
<rect y="347.63" width="10.50" height="3.34" fill="#1b81f3"/>
<rect y="349.97" width="10.50" height="3.34" fill="#1c7bf8"/>
<rect y="352.31" width="10.50" height="3.34" fill="#2074fb"/>
<rect y="354.65" width="10.50" height="3.34" fill="#256cfd"/>
<rect y="356.99" width="10.50" height="3.34" fill="#2968fe"/>
<rect y="359.33" width="10.50" height="3.34" fill="#2d64ff"/>
<rect y="361.67" width="10.50" height="3.34" fill="#2f60fe"/>
<rect y="364.01" width="10.50" height="5.68" fill="#315dfd"/>
<rect y="368.69" width="10.50" height="3.34" fill="#3455fb"/>
<rect y="371.03" width="10.50" height="3.34" fill="#3552f9"/>
<rect y="373.38" width="10.50" height="12.70" fill="#354ef8"/>
<rect y="385.08" width="10.50" height="10.02" fill="#364bf6"/>
</g>
<g transform="translate(163.60 0)">
<rect y="239.30" width="10.50" height="6.34" fill="#4029c5"/>
<rect y="244.64" width="10.50" height="8.02" fill="#3e27be"/>
<rect y="251.66" width="10.50" height="3.34" fill="#4029c5"/>
<rect y="254.00" width="10.50" height="15.04" fill="#3e27be"/>
<rect y="268.05" width="10.50" height="5.68" fill="#4029c5"/>
<rect y="272.73" width="10.50" height="8.02" fill="#3e27be"/>
<rect y="279.75" width="10.50" height="3.34" fill="#3d24b7"/>
<rect y="282.09" width="10.50" height="10.36" fill="#3e27be"/>
<rect y="291.45" width="10.50" height="5.68" fill="#4029c5"/>
<rect y="296.13" width="10.50" height="15.04" fill="#3e27be"/>
<rect y="310.18" width="10.50" height="3.34" fill="#3d24b7"/>
<rect y="312.52" width="10.50" height="8.02" fill="#3e27be"/>
<rect y="319.54" width="10.50" height="3.34" fill="#402dd3"/>
<rect y="321.88" width="10.50" height="3.34" fill="#256cfd"/>
<rect y="324.22" width="10.50" height="3.34" fill="#3ac98e"/>
<rect y="326.56" width="10.50" height="3.34" fill="#f5ba36"/>
<rect y="328.90" width="10.50" height="5.68" fill="#fbbd3b"/>
<rect y="333.58" width="10.50" height="3.34" fill="#fdbf3b"/>
<rect y="335.93" width="10.50" height="3.34" fill="#d8bd29"/>
<rect y="338.27" width="10.50" height="3.34" fill="#90ca4a"/>
<rect y="340.61" width="10.50" height="3.34" fill="#4dcb7a"/>
<rect y="342.95" width="10.50" height="3.34" fill="#29c4a1"/>
<rect y="345.29" width="10.50" height="3.34" fill="#00b7c2"/>
<rect y="347.63" width="10.50" height="3.34" fill="#04abd5"/>
<rect y="349.97" width="10.50" height="3.34" fill="#109fe0"/>
<rect y="352.31" width="10.50" height="3.34" fill="#1496e6"/>
<rect y="354.65" width="10.50" height="3.34" fill="#188cec"/>
<rect y="356.99" width="10.50" height="3.34" fill="#1b81f3"/>
<rect y="359.33" width="10.50" height="3.34" fill="#1c7bf8"/>
<rect y="361.67" width="10.50" height="3.34" fill="#1e77fa"/>
<rect y="364.01" width="10.50" height="3.34" fill="#256cfd"/>
<rect y="366.35" width="10.50" height="3.34" fill="#2968fe"/>
<rect y="368.69" width="10.50" height="5.68" fill="#2d64ff"/>
<rect y="373.38" width="10.50" height="3.34" fill="#315dfd"/>
<rect y="375.72" width="10.50" height="3.34" fill="#3359fd"/>
<rect y="378.06" width="10.50" height="5.68" fill="#3455fb"/>
<rect y="382.74" width="10.50" height="5.68" fill="#3552f9"/>
<rect y="387.42" width="10.50" height="3.34" fill="#354ef8"/>
<rect y="389.76" width="10.50" height="5.34" fill="#364bf6"/>
</g>
<g transform="translate(173.10 0)">
<rect y="239.30" width="10.50" height="6.34" fill="#3e27be"/>
<rect y="244.64" width="10.50" height="3.34" fill="#3d24b7"/>
<rect y="246.98" width="10.50" height="3.34" fill="#3e27be"/>
<rect y="249.32" width="10.50" height="3.34" fill="#4029c5"/>
<rect y="251.66" width="10.50" height="15.04" fill="#3e27be"/>
<rect y="265.71" width="10.50" height="3.34" fill="#3d24b7"/>
<rect y="268.05" width="10.50" height="3.34" fill="#3e27be"/>
<rect y="270.39" width="10.50" height="5.68" fill="#3d24b7"/>
<rect y="275.07" width="10.50" height="19.73" fill="#3e27be"/>
<rect y="293.79" width="10.50" height="3.34" fill="#3d24b7"/>
<rect y="296.13" width="10.50" height="3.34" fill="#3e27be"/>
<rect y="298.48" width="10.50" height="3.34" fill="#4029c5"/>
<rect y="300.82" width="10.50" height="22.07" fill="#3e27be"/>
<rect y="321.88" width="10.50" height="5.68" fill="#3d24b7"/>
<rect y="326.56" width="10.50" height="3.34" fill="#3d35e3"/>
<rect y="328.90" width="10.50" height="3.34" fill="#256cfd"/>
<rect y="331.24" width="10.50" height="3.34" fill="#04abd5"/>
<rect y="333.58" width="10.50" height="3.34" fill="#40ca87"/>
<rect y="335.93" width="10.50" height="8.02" fill="#56cc73"/>
<rect y="342.95" width="10.50" height="3.34" fill="#40ca87"/>
<rect y="345.29" width="10.50" height="3.34" fill="#1bc0ae"/>
<rect y="347.63" width="10.50" height="3.34" fill="#06b9bd"/>
<rect y="349.97" width="10.50" height="3.34" fill="#00b0ce"/>
<rect y="352.31" width="10.50" height="3.34" fill="#0fa3de"/>
<rect y="354.65" width="10.50" height="3.34" fill="#1399e4"/>
<rect y="356.99" width="10.50" height="3.34" fill="#1593e8"/>
<rect y="359.33" width="10.50" height="3.34" fill="#1988ee"/>
<rect y="361.67" width="10.50" height="3.34" fill="#1b7ef6"/>
<rect y="364.01" width="10.50" height="3.34" fill="#1e77fa"/>
<rect y="366.35" width="10.50" height="3.34" fill="#2270fd"/>
<rect y="368.69" width="10.50" height="3.34" fill="#256cfd"/>
<rect y="371.03" width="10.50" height="5.68" fill="#2968fe"/>
<rect y="375.72" width="10.50" height="3.34" fill="#2f60fe"/>
<rect y="378.06" width="10.50" height="5.68" fill="#315dfd"/>
<rect y="382.74" width="10.50" height="5.68" fill="#3359fd"/>
<rect y="387.42" width="10.50" height="3.34" fill="#3455fb"/>
<rect y="389.76" width="10.50" height="5.34" fill="#3552f9"/>
</g>
<g transform="translate(182.60 0)">
<rect y="239.30" width="10.50" height="11.02" fill="#3e27be"/>
<rect y="249.32" width="10.50" height="3.34" fill="#3d24b7"/>
<rect y="251.66" width="10.50" height="22.07" fill="#3e27be"/>
<rect y="272.73" width="10.50" height="5.68" fill="#3d24b7"/>
<rect y="277.41" width="10.50" height="26.75" fill="#3e27be"/>
<rect y="303.16" width="10.50" height="5.68" fill="#3d24b7"/>
<rect y="307.84" width="10.50" height="3.34" fill="#3e27be"/>
<rect y="310.18" width="10.50" height="3.34" fill="#3d24b7"/>
<rect y="312.52" width="10.50" height="3.34" fill="#3e27be"/>
<rect y="314.86" width="10.50" height="5.68" fill="#4029c5"/>
<rect y="319.54" width="10.50" height="3.34" fill="#3e27be"/>
<rect y="321.88" width="10.50" height="5.68" fill="#3d24b7"/>
<rect y="326.56" width="10.50" height="3.34" fill="#3e27be"/>
<rect y="328.90" width="10.50" height="3.34" fill="#3d24b7"/>
<rect y="331.24" width="10.50" height="3.34" fill="#3e27be"/>
<rect y="333.58" width="10.50" height="3.34" fill="#402ccc"/>
<rect y="335.93" width="10.50" height="3.34" fill="#3944f1"/>
<rect y="338.27" width="10.50" height="3.34" fill="#2270fd"/>
<rect y="340.61" width="10.50" height="3.34" fill="#129ce2"/>
<rect y="342.95" width="10.50" height="3.34" fill="#00b2ca"/>
<rect y="345.29" width="10.50" height="5.68" fill="#00b7c2"/>
<rect y="349.97" width="10.50" height="3.34" fill="#00b4c6"/>
<rect y="352.31" width="10.50" height="3.34" fill="#00b2ca"/>
<rect y="354.65" width="10.50" height="3.34" fill="#04abd5"/>
<rect y="356.99" width="10.50" height="3.34" fill="#0ca6dc"/>
<rect y="359.33" width="10.50" height="3.34" fill="#129ce2"/>
<rect y="361.67" width="10.50" height="3.34" fill="#1593e8"/>
<rect y="364.01" width="10.50" height="3.34" fill="#188cec"/>
<rect y="366.35" width="10.50" height="3.34" fill="#1a85f0"/>
<rect y="368.69" width="10.50" height="3.34" fill="#1c7bf8"/>
<rect y="371.03" width="10.50" height="3.34" fill="#1e77fa"/>
<rect y="373.38" width="10.50" height="3.34" fill="#2074fb"/>
<rect y="375.72" width="10.50" height="3.34" fill="#256cfd"/>
<rect y="378.06" width="10.50" height="3.34" fill="#2968fe"/>
<rect y="380.40" width="10.50" height="5.68" fill="#2d64ff"/>
<rect y="385.08" width="10.50" height="3.34" fill="#315dfd"/>
<rect y="387.42" width="10.50" height="7.68" fill="#3359fd"/>
</g>
<g transform="translate(192.10 0)">
<rect y="239.30" width="10.50" height="8.68" fill="#3e27be"/>
<rect y="246.98" width="10.50" height="5.68" fill="#4029c5"/>
<rect y="251.66" width="10.50" height="8.02" fill="#3e27be"/>
<rect y="258.68" width="10.50" height="8.02" fill="#4029c5"/>
<rect y="265.71" width="10.50" height="3.34" fill="#3e27be"/>
<rect y="268.05" width="10.50" height="5.68" fill="#3d24b7"/>
<rect y="272.73" width="10.50" height="19.72" fill="#3e27be"/>
<rect y="291.45" width="10.50" height="5.68" fill="#3d24b7"/>
<rect y="296.13" width="10.50" height="8.02" fill="#3e27be"/>
<rect y="303.16" width="10.50" height="5.68" fill="#3d24b7"/>
<rect y="307.84" width="10.50" height="8.02" fill="#3e27be"/>
<rect y="314.86" width="10.50" height="3.34" fill="#4029c5"/>
<rect y="317.20" width="10.50" height="3.34" fill="#3e27be"/>
<rect y="319.54" width="10.50" height="10.36" fill="#3d24b7"/>
<rect y="328.90" width="10.50" height="15.04" fill="#3e27be"/>
<rect y="342.95" width="10.50" height="3.34" fill="#4029c5"/>
<rect y="345.29" width="10.50" height="3.34" fill="#3d35e3"/>
<rect y="347.63" width="10.50" height="3.34" fill="#3455fb"/>
<rect y="349.97" width="10.50" height="3.34" fill="#2074fb"/>
<rect y="352.31" width="10.50" height="3.34" fill="#168fea"/>
<rect y="354.65" width="10.50" height="3.34" fill="#129ce2"/>
<rect y="356.99" width="10.50" height="5.68" fill="#1399e4"/>
<rect y="361.67" width="10.50" height="5.68" fill="#129ce2"/>
<rect y="366.35" width="10.50" height="3.34" fill="#1399e4"/>
<rect y="368.69" width="10.50" height="3.34" fill="#1593e8"/>
<rect y="371.03" width="10.50" height="3.34" fill="#1988ee"/>
<rect y="373.38" width="10.50" height="5.68" fill="#1b81f3"/>
<rect y="378.06" width="10.50" height="3.34" fill="#1c7bf8"/>
<rect y="380.40" width="10.50" height="3.34" fill="#2074fb"/>
<rect y="382.74" width="10.50" height="3.34" fill="#256cfd"/>
<rect y="385.08" width="10.50" height="5.68" fill="#2968fe"/>
<rect y="389.76" width="10.50" height="5.34" fill="#2d64ff"/>
</g>
<g transform="translate(201.60 0)">
<rect y="239.30" width="10.50" height="8.68" fill="#4029c5"/>
<rect y="246.98" width="10.50" height="26.75" fill="#3e27be"/>
<rect y="272.73" width="10.50" height="10.36" fill="#3d24b7"/>
<rect y="282.09" width="10.50" height="10.36" fill="#3e27be"/>
<rect y="291.45" width="10.50" height="3.34" fill="#4029c5"/>
<rect y="293.79" width="10.50" height="3.34" fill="#3e27be"/>
<rect y="296.13" width="10.50" height="3.34" fill="#3d24b7"/>
<rect y="298.48" width="10.50" height="5.68" fill="#3e27be"/>
<rect y="303.16" width="10.50" height="5.68" fill="#3d24b7"/>
<rect y="307.84" width="10.50" height="22.07" fill="#3e27be"/>
<rect y="328.90" width="10.50" height="5.68" fill="#4029c5"/>
<rect y="333.58" width="10.50" height="22.07" fill="#3e27be"/>
<rect y="354.65" width="10.50" height="3.34" fill="#4029c5"/>
<rect y="356.99" width="10.50" height="3.34" fill="#3f30d9"/>
<rect y="359.33" width="10.50" height="3.34" fill="#3a40ee"/>
<rect y="361.67" width="10.50" height="3.34" fill="#3455fb"/>
<rect y="364.01" width="10.50" height="3.34" fill="#256cfd"/>
<rect y="366.35" width="10.50" height="3.34" fill="#1c7bf8"/>
<rect y="368.69" width="10.50" height="3.34" fill="#1b7ef6"/>
<rect y="371.03" width="10.50" height="10.36" fill="#1b81f3"/>
<rect y="380.40" width="10.50" height="3.34" fill="#1b7ef6"/>
<rect y="382.74" width="10.50" height="3.34" fill="#1c7bf8"/>
<rect y="385.08" width="10.50" height="3.34" fill="#2074fb"/>
<rect y="387.42" width="10.50" height="3.34" fill="#2270fd"/>
<rect y="389.76" width="10.50" height="5.34" fill="#2968fe"/>
</g>
<g transform="translate(211.10 0)">
<rect y="239.30" width="10.50" height="8.68" fill="#3d24b7"/>
<rect y="246.98" width="10.50" height="3.34" fill="#3e27be"/>
<rect y="249.32" width="10.50" height="5.68" fill="#4029c5"/>
<rect y="254.00" width="10.50" height="22.07" fill="#3e27be"/>
<rect y="275.07" width="10.50" height="8.02" fill="#3d24b7"/>
<rect y="282.09" width="10.50" height="10.36" fill="#3e27be"/>
<rect y="291.45" width="10.50" height="5.68" fill="#4029c5"/>
<rect y="296.13" width="10.50" height="10.36" fill="#3e27be"/>
<rect y="305.50" width="10.50" height="5.68" fill="#3d24b7"/>
<rect y="310.18" width="10.50" height="10.36" fill="#3e27be"/>
<rect y="319.54" width="10.50" height="5.68" fill="#4029c5"/>
<rect y="324.22" width="10.50" height="8.02" fill="#3e27be"/>
<rect y="331.24" width="10.50" height="3.34" fill="#3d24b7"/>
<rect y="333.58" width="10.50" height="5.68" fill="#3e27be"/>
<rect y="338.27" width="10.50" height="3.34" fill="#3d24b7"/>
<rect y="340.61" width="10.50" height="5.68" fill="#3e27be"/>
<rect y="345.29" width="10.50" height="3.34" fill="#3d24b7"/>
<rect y="347.63" width="10.50" height="19.73" fill="#3e27be"/>
<rect y="366.35" width="10.50" height="5.68" fill="#4029c5"/>
<rect y="371.03" width="10.50" height="3.34" fill="#402ccc"/>
<rect y="373.38" width="10.50" height="3.34" fill="#3e32de"/>
<rect y="375.72" width="10.50" height="3.34" fill="#3a40ee"/>
<rect y="378.06" width="10.50" height="3.34" fill="#354ef8"/>
<rect y="380.40" width="10.50" height="3.34" fill="#3359fd"/>
<rect y="382.74" width="10.50" height="12.36" fill="#315dfd"/>
</g>
<g transform="translate(220.60 0)">
<rect y="239.30" width="12.50" height="6.34" fill="#3e27be"/>
<rect y="244.64" width="12.50" height="5.68" fill="#3d24b7"/>
<rect y="249.32" width="12.50" height="19.72" fill="#3e27be"/>
<rect y="268.05" width="12.50" height="3.34" fill="#3d24b7"/>
<rect y="270.39" width="12.50" height="19.73" fill="#3e27be"/>
<rect y="289.11" width="12.50" height="5.68" fill="#3d24b7"/>
<rect y="293.79" width="12.50" height="3.34" fill="#3e27be"/>
<rect y="296.13" width="12.50" height="5.68" fill="#4029c5"/>
<rect y="300.82" width="12.50" height="5.68" fill="#3e27be"/>
<rect y="305.50" width="12.50" height="8.02" fill="#3d24b7"/>
<rect y="312.52" width="12.50" height="17.38" fill="#3e27be"/>
<rect y="328.90" width="12.50" height="8.02" fill="#3d24b7"/>
<rect y="335.93" width="12.50" height="5.68" fill="#3e27be"/>
<rect y="340.61" width="12.50" height="5.68" fill="#3d24b7"/>
<rect y="345.29" width="12.50" height="8.02" fill="#3e27be"/>
<rect y="352.31" width="12.50" height="5.68" fill="#3d24b7"/>
<rect y="356.99" width="12.50" height="8.02" fill="#3e27be"/>
<rect y="364.01" width="12.50" height="8.02" fill="#3d24b7"/>
<rect y="371.03" width="12.50" height="10.36" fill="#3e27be"/>
<rect y="380.40" width="12.50" height="3.34" fill="#4029c5"/>
<rect y="382.74" width="12.50" height="5.68" fill="#3e27be"/>
<rect y="387.42" width="12.50" height="3.34" fill="#4029c5"/>
<rect y="389.76" width="12.50" height="5.34" fill="#402ccc"/>
</g>
</g></g>
</g>
<g id="cb-c">
<defs><linearGradient id="grad-c" x1="0" y1="0" x2="0" y2="1"><stop offset="0.0000" stop-color="#f9fb15"/><stop offset="0.0208" stop-color="#f6f21d"/><stop offset="0.0417" stop-color="#f5e923"/><stop offset="0.0625" stop-color="#f6e128"/><stop offset="0.0833" stop-color="#fad92c"/><stop offset="0.1042" stop-color="#fcd030"/><stop offset="0.1250" stop-color="#fec835"/><stop offset="0.1458" stop-color="#fdc13a"/><stop offset="0.1667" stop-color="#f9bc39"/><stop offset="0.1875" stop-color="#f2ba34"/><stop offset="0.2083" stop-color="#e6bb2b"/><stop offset="0.2292" stop-color="#d8bd29"/><stop offset="0.2500" stop-color="#cac02b"/><stop offset="0.2708" stop-color="#b9c433"/><stop offset="0.2917" stop-color="#a8c73c"/><stop offset="0.3125" stop-color="#97c946"/><stop offset="0.3333" stop-color="#85cc51"/><stop offset="0.3542" stop-color="#74cc5c"/><stop offset="0.3750" stop-color="#62cd69"/><stop offset="0.3958" stop-color="#51cc77"/><stop offset="0.4167" stop-color="#42ca85"/><stop offset="0.4375" stop-color="#36c893"/><stop offset="0.4583" stop-color="#2ac5a0"/><stop offset="0.4792" stop-color="#1cc0ad"/><stop offset="0.5000" stop-color="#0dbbb9"/><stop offset="0.5208" stop-color="#00b6c2"/><stop offset="0.5417" stop-color="#00b2cb"/><stop offset="0.5625" stop-color="#01add3"/><stop offset="0.5833" stop-color="#0aa7da"/><stop offset="0.6042" stop-color="#0fa1df"/><stop offset="0.6250" stop-color="#139be3"/><stop offset="0.6458" stop-color="#1594e7"/><stop offset="0.6667" stop-color="#178deb"/><stop offset="0.6875" stop-color="#1a86f0"/><stop offset="0.7083" stop-color="#1b7ff5"/><stop offset="0.7292" stop-color="#1e77f9"/><stop offset="0.7500" stop-color="#2270fd"/><stop offset="0.7708" stop-color="#2a68fe"/><stop offset="0.7917" stop-color="#2f60fe"/><stop offset="0.8125" stop-color="#3358fc"/><stop offset="0.8333" stop-color="#3551f9"/><stop offset="0.8542" stop-color="#3749f5"/><stop offset="0.8750" stop-color="#3a42ef"/><stop offset="0.8958" stop-color="#3c3ae8"/><stop offset="0.9167" stop-color="#3d33df"/><stop offset="0.9375" stop-color="#3f2ed5"/><stop offset="0.9583" stop-color="#402ac6"/><stop offset="0.9792" stop-color="#3d24b8"/><stop offset="1.0000" stop-color="#3b1fa8"/></linearGradient></defs>
<rect x="233.2" y="242.30" width="9.4" height="149.80" fill="url(#grad-c)"/>
<rect x="241.0" y="246.7" width="1.6" height="0.7" fill="#222" opacity="0.7"/>
<rect x="241.0" y="271.1" width="1.6" height="0.7" fill="#222" opacity="0.7"/>
<rect x="241.0" y="298.6" width="1.6" height="0.7" fill="#222" opacity="0.7"/>
<rect x="241.0" y="325.1" width="1.6" height="0.7" fill="#222" opacity="0.7"/>
<rect x="241.0" y="354.8" width="1.6" height="0.7" fill="#222" opacity="0.7"/>
<rect x="241.0" y="382.4" width="1.6" height="0.7" fill="#222" opacity="0.7"/>
<rect x="241.0" y="258.9" width="1.6" height="0.7" fill="#222" opacity="0.7"/>
<rect x="241.0" y="284.9" width="1.6" height="0.7" fill="#222" opacity="0.7"/>
<rect x="241.0" y="311.9" width="1.6" height="0.7" fill="#222" opacity="0.7"/>
<rect x="241.0" y="340.0" width="1.6" height="0.7" fill="#222" opacity="0.7"/>
<rect x="241.0" y="368.6" width="1.6" height="0.7" fill="#222" opacity="0.7"/>
</g>
<g class="lb" id="lb-c">
<text x="4.8" y="247.5" font-size="13.4" text-anchor="start">(c)</text>
<text x="38.5" y="251" font-size="11.5" text-anchor="end">−15</text>
<text x="38.5" y="274.2" font-size="11.5" text-anchor="end">−10</text>
<text x="38.5" y="298" font-size="11.5" text-anchor="end">−5</text>
<text x="38.5" y="319.8" font-size="11.5" text-anchor="end">0</text>
<text x="38.5" y="343.6" font-size="11.5" text-anchor="end">5</text>
<text x="38.5" y="367.6" font-size="11.5" text-anchor="end">10</text>
<text x="38.5" y="391.5" font-size="11.5" text-anchor="end">15</text>
<text x="59.4" y="402.7" font-size="11.5" text-anchor="middle">−4</text>
<text x="79.5" y="402.7" font-size="11.5" text-anchor="middle">−3</text>
<text x="98.4" y="402.7" font-size="11.5" text-anchor="middle">−2</text>
<text x="116.2" y="402.7" font-size="11.5" text-anchor="middle">−1</text>
<text x="139.8" y="402.7" font-size="11.5" text-anchor="middle">0</text>
<text x="157.2" y="402.7" font-size="11.5" text-anchor="middle">1</text>
<text x="177.4" y="402.7" font-size="11.5" text-anchor="middle">2</text>
<text x="196.5" y="402.7" font-size="11.5" text-anchor="middle">3</text>
<text x="214" y="402.7" font-size="11.5" text-anchor="middle">4</text>
<text x="140.8" y="415.8" font-size="14" text-anchor="middle">Doppler (KHz)</text>
<text transform="translate(18.5 315.2) rotate(-90)" font-size="14" text-anchor="middle">Delay (chips)</text>
<text x="243.8" y="251" font-size="11.5" text-anchor="start">7</text>
<text x="243.8" y="275.5" font-size="11.5" text-anchor="start">6</text>
<text x="243.8" y="303" font-size="11.5" text-anchor="start">5</text>
<text x="243.8" y="329.5" font-size="11.5" text-anchor="start">4</text>
<text x="243.8" y="359.2" font-size="11.5" text-anchor="start">3</text>
<text x="243.8" y="386.8" font-size="11.5" text-anchor="start">2</text>
<text x="242.5" y="241.6" font-size="11.5">×<tspan dx="1.5" letter-spacing="0.2">10</tspan><tspan font-size="6.8" dy="-3.6">4</tspan></text>
</g>
<g class="hm" id="hm-d">
<clipPath id="clip-d"><rect x="319.20" y="242.20" width="190.10" height="150.20"/></clipPath>
<g clip-path="url(#clip-d)"><g filter="url(#soft)">
<g transform="translate(316.20 0)">
<rect y="239.20" width="13.51" height="6.35" fill="#1593e8"/>
<rect y="244.55" width="13.51" height="3.35" fill="#1c7bf8"/>
<rect y="246.89" width="13.51" height="3.35" fill="#1b7ef6"/>
<rect y="249.24" width="13.51" height="3.35" fill="#2074fb"/>
<rect y="251.59" width="13.51" height="3.35" fill="#1b7ef6"/>
<rect y="253.93" width="13.51" height="3.35" fill="#0ca6dc"/>
<rect y="256.28" width="13.51" height="3.35" fill="#34c795"/>
<rect y="258.63" width="13.51" height="5.69" fill="#129ce2"/>
<rect y="263.32" width="13.51" height="3.35" fill="#04abd5"/>
<rect y="265.67" width="13.51" height="3.35" fill="#109fe0"/>
<rect y="268.02" width="13.51" height="5.69" fill="#1b81f3"/>
<rect y="272.71" width="13.51" height="3.35" fill="#168fea"/>
<rect y="275.06" width="13.51" height="5.69" fill="#1593e8"/>
<rect y="279.75" width="13.51" height="3.35" fill="#06b9bd"/>
<rect y="282.10" width="13.51" height="3.35" fill="#0dbbb9"/>
<rect y="284.44" width="13.51" height="3.35" fill="#06b9bd"/>
<rect y="286.79" width="13.51" height="3.35" fill="#04abd5"/>
<rect y="289.14" width="13.51" height="5.69" fill="#1399e4"/>
<rect y="293.83" width="13.51" height="3.35" fill="#3b3cea"/>
<rect y="296.18" width="13.51" height="3.35" fill="#00aed2"/>
<rect y="298.52" width="13.51" height="3.35" fill="#1399e4"/>
<rect y="300.87" width="13.51" height="3.35" fill="#109fe0"/>
<rect y="303.22" width="13.51" height="3.35" fill="#04abd5"/>
<rect y="305.57" width="13.51" height="3.35" fill="#29c4a1"/>
<rect y="307.91" width="13.51" height="3.35" fill="#00b2ca"/>
<rect y="310.26" width="13.51" height="3.35" fill="#1b7ef6"/>
<rect y="312.61" width="13.51" height="3.35" fill="#2968fe"/>
<rect y="314.95" width="13.51" height="3.35" fill="#2270fd"/>
<rect y="317.30" width="13.51" height="3.35" fill="#1b7ef6"/>
<rect y="319.65" width="13.51" height="3.35" fill="#0fa3de"/>
<rect y="321.99" width="13.51" height="3.35" fill="#129ce2"/>
<rect y="324.34" width="13.51" height="3.35" fill="#1a85f0"/>
<rect y="326.69" width="13.51" height="3.35" fill="#1399e4"/>
<rect y="329.03" width="13.51" height="3.35" fill="#06b9bd"/>
<rect y="331.38" width="13.51" height="3.35" fill="#1496e6"/>
<rect y="333.73" width="13.51" height="3.35" fill="#2270fd"/>
<rect y="336.07" width="13.51" height="3.35" fill="#2074fb"/>
<rect y="338.42" width="13.51" height="3.35" fill="#3a40ee"/>
<rect y="340.77" width="13.51" height="3.35" fill="#3944f1"/>
<rect y="343.12" width="13.51" height="3.35" fill="#3b3cea"/>
<rect y="345.46" width="13.51" height="3.35" fill="#3a40ee"/>
<rect y="347.81" width="13.51" height="3.35" fill="#256cfd"/>
<rect y="350.16" width="13.51" height="3.35" fill="#1496e6"/>
<rect y="352.50" width="13.51" height="3.35" fill="#3a40ee"/>
<rect y="354.85" width="13.51" height="3.35" fill="#3944f1"/>
<rect y="357.20" width="13.51" height="3.35" fill="#2074fb"/>
<rect y="359.54" width="13.51" height="3.35" fill="#1593e8"/>
<rect y="361.89" width="13.51" height="3.35" fill="#129ce2"/>
<rect y="364.24" width="13.51" height="3.35" fill="#1b81f3"/>
<rect y="366.58" width="13.51" height="5.69" fill="#3b3cea"/>
<rect y="371.28" width="13.51" height="3.35" fill="#2270fd"/>
<rect y="373.62" width="13.51" height="3.35" fill="#1b7ef6"/>
<rect y="375.97" width="13.51" height="3.35" fill="#188cec"/>
<rect y="378.32" width="13.51" height="5.69" fill="#04abd5"/>
<rect y="383.01" width="13.51" height="3.35" fill="#1399e4"/>
<rect y="385.36" width="13.51" height="3.35" fill="#2074fb"/>
<rect y="387.71" width="13.51" height="3.35" fill="#1c7bf8"/>
<rect y="390.05" width="13.51" height="5.35" fill="#1b7ef6"/>
</g>
<g transform="translate(328.70 0)">
<rect y="239.20" width="10.51" height="6.35" fill="#2270fd"/>
<rect y="244.55" width="10.51" height="3.35" fill="#2074fb"/>
<rect y="246.89" width="10.51" height="3.35" fill="#1988ee"/>
<rect y="249.24" width="10.51" height="5.69" fill="#1c7bf8"/>
<rect y="253.93" width="10.51" height="3.35" fill="#1988ee"/>
<rect y="256.28" width="10.51" height="3.35" fill="#1b7ef6"/>
<rect y="258.63" width="10.51" height="5.69" fill="#2270fd"/>
<rect y="263.32" width="10.51" height="3.35" fill="#256cfd"/>
<rect y="265.67" width="10.51" height="3.35" fill="#1bc0ae"/>
<rect y="268.02" width="10.51" height="3.35" fill="#00b7c2"/>
<rect y="270.36" width="10.51" height="3.35" fill="#14bdb3"/>
<rect y="272.71" width="10.51" height="3.35" fill="#1a85f0"/>
<rect y="275.06" width="10.51" height="5.69" fill="#40ca87"/>
<rect y="279.75" width="10.51" height="3.35" fill="#3ac98e"/>
<rect y="282.10" width="10.51" height="3.35" fill="#06b9bd"/>
<rect y="284.44" width="10.51" height="3.35" fill="#2fc69b"/>
<rect y="286.79" width="10.51" height="3.35" fill="#0ca6dc"/>
<rect y="289.14" width="10.51" height="3.35" fill="#1b7ef6"/>
<rect y="291.48" width="10.51" height="3.35" fill="#1c7bf8"/>
<rect y="293.83" width="10.51" height="3.35" fill="#402dd3"/>
<rect y="296.18" width="10.51" height="3.35" fill="#0ca6dc"/>
<rect y="298.52" width="10.51" height="3.35" fill="#1b81f3"/>
<rect y="300.87" width="10.51" height="3.35" fill="#2270fd"/>
<rect y="303.22" width="10.51" height="3.35" fill="#1b81f3"/>
<rect y="305.57" width="10.51" height="3.35" fill="#129ce2"/>
<rect y="307.91" width="10.51" height="3.35" fill="#188cec"/>
<rect y="310.26" width="10.51" height="5.69" fill="#256cfd"/>
<rect y="314.95" width="10.51" height="3.35" fill="#1b7ef6"/>
<rect y="317.30" width="10.51" height="3.35" fill="#1c7bf8"/>
<rect y="319.65" width="10.51" height="3.35" fill="#1b81f3"/>
<rect y="321.99" width="10.51" height="3.35" fill="#3b3cea"/>
<rect y="324.34" width="10.51" height="3.35" fill="#364bf6"/>
<rect y="326.69" width="10.51" height="3.35" fill="#3c39e7"/>
<rect y="329.03" width="10.51" height="3.35" fill="#1e77fa"/>
<rect y="331.38" width="10.51" height="3.35" fill="#0dbbb9"/>
<rect y="333.73" width="10.51" height="3.35" fill="#06b9bd"/>
<rect y="336.07" width="10.51" height="3.35" fill="#1e77fa"/>
<rect y="338.42" width="10.51" height="3.35" fill="#1988ee"/>
<rect y="340.77" width="10.51" height="3.35" fill="#1593e8"/>
<rect y="343.12" width="10.51" height="3.35" fill="#1a85f0"/>
<rect y="345.46" width="10.51" height="3.35" fill="#188cec"/>
<rect y="347.81" width="10.51" height="3.35" fill="#1b7ef6"/>
<rect y="350.16" width="10.51" height="3.35" fill="#1b81f3"/>
<rect y="352.50" width="10.51" height="3.35" fill="#1c7bf8"/>
<rect y="354.85" width="10.51" height="3.35" fill="#2074fb"/>
<rect y="357.20" width="10.51" height="3.35" fill="#2968fe"/>
<rect y="359.54" width="10.51" height="5.69" fill="#256cfd"/>
<rect y="364.24" width="10.51" height="3.35" fill="#2968fe"/>
<rect y="366.58" width="10.51" height="3.35" fill="#1e77fa"/>
<rect y="368.93" width="10.51" height="3.35" fill="#1a85f0"/>
<rect y="371.28" width="10.51" height="3.35" fill="#1496e6"/>
<rect y="373.62" width="10.51" height="3.35" fill="#168fea"/>
<rect y="375.97" width="10.51" height="3.35" fill="#2270fd"/>
<rect y="378.32" width="10.51" height="3.35" fill="#1b81f3"/>
<rect y="380.67" width="10.51" height="3.35" fill="#3b3cea"/>
<rect y="383.01" width="10.51" height="5.69" fill="#3a40ee"/>
<rect y="387.71" width="10.51" height="3.35" fill="#2270fd"/>
<rect y="390.05" width="10.51" height="5.35" fill="#1988ee"/>
</g>
<g transform="translate(338.21 0)">
<rect y="239.20" width="10.51" height="6.35" fill="#1b7ef6"/>
<rect y="244.55" width="10.51" height="3.35" fill="#1a85f0"/>
<rect y="246.89" width="10.51" height="3.35" fill="#256cfd"/>
<rect y="249.24" width="10.51" height="3.35" fill="#2074fb"/>
<rect y="251.59" width="10.51" height="3.35" fill="#1988ee"/>
<rect y="253.93" width="10.51" height="3.35" fill="#00b0ce"/>
<rect y="256.28" width="10.51" height="3.35" fill="#00aed2"/>
<rect y="258.63" width="10.51" height="3.35" fill="#1593e8"/>
<rect y="260.97" width="10.51" height="3.35" fill="#04abd5"/>
<rect y="263.32" width="10.51" height="3.35" fill="#0dbbb9"/>
<rect y="265.67" width="10.51" height="5.69" fill="#354ef8"/>
<rect y="270.36" width="10.51" height="3.35" fill="#3552f9"/>
<rect y="272.71" width="10.51" height="3.35" fill="#354ef8"/>
<rect y="275.06" width="10.51" height="3.35" fill="#188cec"/>
<rect y="277.40" width="10.51" height="5.69" fill="#2968fe"/>
<rect y="282.10" width="10.51" height="3.35" fill="#1c7bf8"/>
<rect y="284.44" width="10.51" height="3.35" fill="#1e77fa"/>
<rect y="286.79" width="10.51" height="5.69" fill="#1988ee"/>
<rect y="291.48" width="10.51" height="3.35" fill="#1a85f0"/>
<rect y="293.83" width="10.51" height="3.35" fill="#1b81f3"/>
<rect y="296.18" width="10.51" height="3.35" fill="#2270fd"/>
<rect y="298.52" width="10.51" height="3.35" fill="#256cfd"/>
<rect y="300.87" width="10.51" height="3.35" fill="#1e77fa"/>
<rect y="303.22" width="10.51" height="5.69" fill="#2968fe"/>
<rect y="307.91" width="10.51" height="3.35" fill="#1e77fa"/>
<rect y="310.26" width="10.51" height="3.35" fill="#1399e4"/>
<rect y="312.61" width="10.51" height="3.35" fill="#109fe0"/>
<rect y="314.95" width="10.51" height="3.35" fill="#1b81f3"/>
<rect y="317.30" width="10.51" height="3.35" fill="#1e77fa"/>
<rect y="319.65" width="10.51" height="3.35" fill="#06b9bd"/>
<rect y="321.99" width="10.51" height="3.35" fill="#00b4c6"/>
<rect y="324.34" width="10.51" height="3.35" fill="#1e77fa"/>
<rect y="326.69" width="10.51" height="3.35" fill="#1b7ef6"/>
<rect y="329.03" width="10.51" height="3.35" fill="#168fea"/>
<rect y="331.38" width="10.51" height="3.35" fill="#1496e6"/>
<rect y="333.73" width="10.51" height="3.35" fill="#08a8d9"/>
<rect y="336.07" width="10.51" height="3.35" fill="#1988ee"/>
<rect y="338.42" width="10.51" height="5.69" fill="#2968fe"/>
<rect y="343.12" width="10.51" height="3.35" fill="#1988ee"/>
<rect y="345.46" width="10.51" height="3.35" fill="#29c4a1"/>
<rect y="347.81" width="10.51" height="3.35" fill="#23c2a8"/>
<rect y="350.16" width="10.51" height="3.35" fill="#00b4c6"/>
<rect y="352.50" width="10.51" height="3.35" fill="#129ce2"/>
<rect y="354.85" width="10.51" height="3.35" fill="#1c7bf8"/>
<rect y="357.20" width="10.51" height="5.69" fill="#2270fd"/>
<rect y="361.89" width="10.51" height="3.35" fill="#1b7ef6"/>
<rect y="364.24" width="10.51" height="3.35" fill="#1c7bf8"/>
<rect y="366.58" width="10.51" height="3.35" fill="#188cec"/>
<rect y="368.93" width="10.51" height="3.35" fill="#3f30d9"/>
<rect y="371.28" width="10.51" height="3.35" fill="#00b7c2"/>
<rect y="373.62" width="10.51" height="3.35" fill="#40ca87"/>
<rect y="375.97" width="10.51" height="3.35" fill="#00b4c6"/>
<rect y="378.32" width="10.51" height="3.35" fill="#1496e6"/>
<rect y="380.67" width="10.51" height="3.35" fill="#0fa3de"/>
<rect y="383.01" width="10.51" height="3.35" fill="#1496e6"/>
<rect y="385.36" width="10.51" height="3.35" fill="#1593e8"/>
<rect y="387.71" width="10.51" height="3.35" fill="#1b81f3"/>
<rect y="390.05" width="10.51" height="5.35" fill="#2270fd"/>
</g>
<g transform="translate(347.71 0)">
<rect y="239.20" width="10.51" height="6.35" fill="#109fe0"/>
<rect y="244.55" width="10.51" height="3.35" fill="#1399e4"/>
<rect y="246.89" width="10.51" height="3.35" fill="#1c7bf8"/>
<rect y="249.24" width="10.51" height="3.35" fill="#1bc0ae"/>
<rect y="251.59" width="10.51" height="3.35" fill="#90ca4a"/>
<rect y="253.93" width="10.51" height="3.35" fill="#00b4c6"/>
<rect y="256.28" width="10.51" height="3.35" fill="#00b2ca"/>
<rect y="258.63" width="10.51" height="3.35" fill="#00b7c2"/>
<rect y="260.97" width="10.51" height="5.69" fill="#1496e6"/>
<rect y="265.67" width="10.51" height="3.35" fill="#3552f9"/>
<rect y="268.02" width="10.51" height="3.35" fill="#3359fd"/>
<rect y="270.36" width="10.51" height="3.35" fill="#3455fb"/>
<rect y="272.71" width="10.51" height="3.35" fill="#3847f3"/>
<rect y="275.06" width="10.51" height="5.69" fill="#3b3cea"/>
<rect y="279.75" width="10.51" height="3.35" fill="#3d35e3"/>
<rect y="282.10" width="10.51" height="3.35" fill="#256cfd"/>
<rect y="284.44" width="10.51" height="3.35" fill="#129ce2"/>
<rect y="286.79" width="10.51" height="3.35" fill="#00aed2"/>
<rect y="289.14" width="10.51" height="3.35" fill="#129ce2"/>
<rect y="291.48" width="10.51" height="5.69" fill="#168fea"/>
<rect y="296.18" width="10.51" height="5.69" fill="#1e77fa"/>
<rect y="300.87" width="10.51" height="3.35" fill="#2074fb"/>
<rect y="303.22" width="10.51" height="3.35" fill="#1a85f0"/>
<rect y="305.57" width="10.51" height="3.35" fill="#1988ee"/>
<rect y="307.91" width="10.51" height="5.69" fill="#402ccc"/>
<rect y="312.61" width="10.51" height="3.35" fill="#1e77fa"/>
<rect y="314.95" width="10.51" height="3.35" fill="#2968fe"/>
<rect y="317.30" width="10.51" height="3.35" fill="#2270fd"/>
<rect y="319.65" width="10.51" height="3.35" fill="#1b7ef6"/>
<rect y="321.99" width="10.51" height="3.35" fill="#1593e8"/>
<rect y="324.34" width="10.51" height="3.35" fill="#1399e4"/>
<rect y="326.69" width="10.51" height="3.35" fill="#1593e8"/>
<rect y="329.03" width="10.51" height="3.35" fill="#1e77fa"/>
<rect y="331.38" width="10.51" height="5.69" fill="#256cfd"/>
<rect y="336.07" width="10.51" height="3.35" fill="#1b7ef6"/>
<rect y="338.42" width="10.51" height="3.35" fill="#168fea"/>
<rect y="340.77" width="10.51" height="5.69" fill="#1b81f3"/>
<rect y="345.46" width="10.51" height="3.35" fill="#1399e4"/>
<rect y="347.81" width="10.51" height="5.69" fill="#00b4c6"/>
<rect y="352.50" width="10.51" height="3.35" fill="#2074fb"/>
<rect y="354.85" width="10.51" height="3.35" fill="#2968fe"/>
<rect y="357.20" width="10.51" height="3.35" fill="#1a85f0"/>
<rect y="359.54" width="10.51" height="3.35" fill="#1b81f3"/>
<rect y="361.89" width="10.51" height="3.35" fill="#1b7ef6"/>
<rect y="364.24" width="10.51" height="3.35" fill="#3552f9"/>
<rect y="366.58" width="10.51" height="3.35" fill="#1399e4"/>
<rect y="368.93" width="10.51" height="3.35" fill="#14bdb3"/>
<rect y="371.28" width="10.51" height="3.35" fill="#40ca87"/>
<rect y="373.62" width="10.51" height="3.35" fill="#1bc0ae"/>
<rect y="375.97" width="10.51" height="3.35" fill="#129ce2"/>
<rect y="378.32" width="10.51" height="3.35" fill="#14bdb3"/>
<rect y="380.67" width="10.51" height="3.35" fill="#00b7c2"/>
<rect y="383.01" width="10.51" height="5.69" fill="#06b9bd"/>
<rect y="387.71" width="10.51" height="3.35" fill="#0ca6dc"/>
<rect y="390.05" width="10.51" height="5.35" fill="#1593e8"/>
</g>
<g transform="translate(357.22 0)">
<rect y="239.20" width="10.51" height="6.35" fill="#0fa3de"/>
<rect y="244.55" width="10.51" height="5.69" fill="#34c795"/>
<rect y="249.24" width="10.51" height="3.35" fill="#00b2ca"/>
<rect y="251.59" width="10.51" height="3.35" fill="#06b9bd"/>
<rect y="253.93" width="10.51" height="3.35" fill="#1496e6"/>
<rect y="256.28" width="10.51" height="3.35" fill="#188cec"/>
<rect y="258.63" width="10.51" height="3.35" fill="#1593e8"/>
<rect y="260.97" width="10.51" height="8.04" fill="#00b0ce"/>
<rect y="268.02" width="10.51" height="3.35" fill="#1e77fa"/>
<rect y="270.36" width="10.51" height="3.35" fill="#1c7bf8"/>
<rect y="272.71" width="10.51" height="3.35" fill="#1a85f0"/>
<rect y="275.06" width="10.51" height="3.35" fill="#3847f3"/>
<rect y="277.40" width="10.51" height="3.35" fill="#3a40ee"/>
<rect y="279.75" width="10.51" height="3.35" fill="#3e32de"/>
<rect y="282.10" width="10.51" height="3.35" fill="#4029c5"/>
<rect y="284.44" width="10.51" height="5.69" fill="#2968fe"/>
<rect y="289.14" width="10.51" height="3.35" fill="#2074fb"/>
<rect y="291.48" width="10.51" height="3.35" fill="#06b9bd"/>
<rect y="293.83" width="10.51" height="3.35" fill="#0dbbb9"/>
<rect y="296.18" width="10.51" height="3.35" fill="#188cec"/>
<rect y="298.52" width="10.51" height="5.69" fill="#40ca87"/>
<rect y="303.22" width="10.51" height="3.35" fill="#04abd5"/>
<rect y="305.57" width="10.51" height="3.35" fill="#00b2ca"/>
<rect y="307.91" width="10.51" height="3.35" fill="#1593e8"/>
<rect y="310.26" width="10.51" height="5.69" fill="#1e77fa"/>
<rect y="314.95" width="10.51" height="3.35" fill="#1a85f0"/>
<rect y="317.30" width="10.51" height="3.35" fill="#1988ee"/>
<rect y="319.65" width="10.51" height="3.35" fill="#1b7ef6"/>
<rect y="321.99" width="10.51" height="3.35" fill="#109fe0"/>
<rect y="324.34" width="10.51" height="3.35" fill="#1593e8"/>
<rect y="326.69" width="10.51" height="3.35" fill="#1b81f3"/>
<rect y="329.03" width="10.51" height="3.35" fill="#3d35e3"/>
<rect y="331.38" width="10.51" height="3.35" fill="#3f30d9"/>
<rect y="333.73" width="10.51" height="3.35" fill="#1b81f3"/>
<rect y="336.07" width="10.51" height="3.35" fill="#402dd3"/>
<rect y="338.42" width="10.51" height="3.35" fill="#4029c5"/>
<rect y="340.77" width="10.51" height="5.69" fill="#1a85f0"/>
<rect y="345.46" width="10.51" height="3.35" fill="#08a8d9"/>
<rect y="347.81" width="10.51" height="3.35" fill="#0dbbb9"/>
<rect y="350.16" width="10.51" height="3.35" fill="#0fa3de"/>
<rect y="352.50" width="10.51" height="3.35" fill="#1496e6"/>
<rect y="354.85" width="10.51" height="3.35" fill="#1a85f0"/>
<rect y="357.20" width="10.51" height="3.35" fill="#1988ee"/>
<rect y="359.54" width="10.51" height="3.35" fill="#34c795"/>
<rect y="361.89" width="10.51" height="3.35" fill="#2fc69b"/>
<rect y="364.24" width="10.51" height="3.35" fill="#08a8d9"/>
<rect y="366.58" width="10.51" height="3.35" fill="#00b4c6"/>
<rect y="368.93" width="10.51" height="3.35" fill="#3944f1"/>
<rect y="371.28" width="10.51" height="3.35" fill="#2074fb"/>
<rect y="373.62" width="10.51" height="3.35" fill="#1e77fa"/>
<rect y="375.97" width="10.51" height="3.35" fill="#08a8d9"/>
<rect y="378.32" width="10.51" height="3.35" fill="#2fc69b"/>
<rect y="380.67" width="10.51" height="5.69" fill="#29c4a1"/>
<rect y="385.36" width="10.51" height="3.35" fill="#2fc69b"/>
<rect y="387.71" width="10.51" height="7.69" fill="#66cd66"/>
</g>
<g transform="translate(366.73 0)">
<rect y="239.20" width="10.51" height="6.35" fill="#0fa3de"/>
<rect y="244.55" width="10.51" height="3.35" fill="#1c7bf8"/>
<rect y="246.89" width="10.51" height="3.35" fill="#1399e4"/>
<rect y="249.24" width="10.51" height="3.35" fill="#04abd5"/>
<rect y="251.59" width="10.51" height="3.35" fill="#188cec"/>
<rect y="253.93" width="10.51" height="3.35" fill="#1988ee"/>
<rect y="256.28" width="10.51" height="5.69" fill="#2270fd"/>
<rect y="260.97" width="10.51" height="3.35" fill="#1b7ef6"/>
<rect y="263.32" width="10.51" height="3.35" fill="#109fe0"/>
<rect y="265.67" width="10.51" height="3.35" fill="#06b9bd"/>
<rect y="268.02" width="10.51" height="3.35" fill="#1399e4"/>
<rect y="270.36" width="10.51" height="3.35" fill="#168fea"/>
<rect y="272.71" width="10.51" height="3.35" fill="#1399e4"/>
<rect y="275.06" width="10.51" height="3.35" fill="#3d35e3"/>
<rect y="277.40" width="10.51" height="3.35" fill="#3a40ee"/>
<rect y="279.75" width="10.51" height="3.35" fill="#3b3cea"/>
<rect y="282.10" width="10.51" height="3.35" fill="#3a40ee"/>
<rect y="284.44" width="10.51" height="3.35" fill="#1399e4"/>
<rect y="286.79" width="10.51" height="3.35" fill="#188cec"/>
<rect y="289.14" width="10.51" height="3.35" fill="#1c7bf8"/>
<rect y="291.48" width="10.51" height="3.35" fill="#2074fb"/>
<rect y="293.83" width="10.51" height="3.35" fill="#1496e6"/>
<rect y="296.18" width="10.51" height="3.35" fill="#129ce2"/>
<rect y="298.52" width="10.51" height="3.35" fill="#402ccc"/>
<rect y="300.87" width="10.51" height="3.35" fill="#3f30d9"/>
<rect y="303.22" width="10.51" height="5.69" fill="#109fe0"/>
<rect y="307.91" width="10.51" height="3.35" fill="#1399e4"/>
<rect y="310.26" width="10.51" height="3.35" fill="#1593e8"/>
<rect y="312.61" width="10.51" height="3.35" fill="#1988ee"/>
<rect y="314.95" width="10.51" height="3.35" fill="#402ccc"/>
<rect y="317.30" width="10.51" height="3.35" fill="#3e27be"/>
<rect y="319.65" width="10.51" height="3.35" fill="#2270fd"/>
<rect y="321.99" width="10.51" height="3.35" fill="#1988ee"/>
<rect y="324.34" width="10.51" height="3.35" fill="#129ce2"/>
<rect y="326.69" width="10.51" height="3.35" fill="#0fa3de"/>
<rect y="329.03" width="10.51" height="3.35" fill="#1a85f0"/>
<rect y="331.38" width="10.51" height="3.35" fill="#256cfd"/>
<rect y="333.73" width="10.51" height="3.35" fill="#1c7bf8"/>
<rect y="336.07" width="10.51" height="3.35" fill="#08a8d9"/>
<rect y="338.42" width="10.51" height="3.35" fill="#1399e4"/>
<rect y="340.77" width="10.51" height="5.69" fill="#2270fd"/>
<rect y="345.46" width="10.51" height="3.35" fill="#1c7bf8"/>
<rect y="347.81" width="10.51" height="3.35" fill="#1a85f0"/>
<rect y="350.16" width="10.51" height="3.35" fill="#1988ee"/>
<rect y="352.50" width="10.51" height="3.35" fill="#1b7ef6"/>
<rect y="354.85" width="10.51" height="3.35" fill="#1988ee"/>
<rect y="357.20" width="10.51" height="3.35" fill="#0fa3de"/>
<rect y="359.54" width="10.51" height="3.35" fill="#00b2ca"/>
<rect y="361.89" width="10.51" height="3.35" fill="#1988ee"/>
<rect y="364.24" width="10.51" height="3.35" fill="#2968fe"/>
<rect y="366.58" width="10.51" height="3.35" fill="#2074fb"/>
<rect y="368.93" width="10.51" height="10.39" fill="#2968fe"/>
<rect y="378.32" width="10.51" height="3.35" fill="#06b9bd"/>
<rect y="380.67" width="10.51" height="3.35" fill="#00b7c2"/>
<rect y="383.01" width="10.51" height="3.35" fill="#14bdb3"/>
<rect y="385.36" width="10.51" height="3.35" fill="#0dbbb9"/>
<rect y="387.71" width="10.51" height="3.35" fill="#1e77fa"/>
<rect y="390.05" width="10.51" height="5.35" fill="#2270fd"/>
</g>
<g transform="translate(376.23 0)">
<rect y="239.20" width="10.51" height="6.35" fill="#1988ee"/>
<rect y="244.55" width="10.51" height="3.35" fill="#168fea"/>
<rect y="246.89" width="10.51" height="3.35" fill="#1c7bf8"/>
<rect y="249.24" width="10.51" height="3.35" fill="#2270fd"/>
<rect y="251.59" width="10.51" height="3.35" fill="#1496e6"/>
<rect y="253.93" width="10.51" height="3.35" fill="#0fa3de"/>
<rect y="256.28" width="10.51" height="3.35" fill="#1e77fa"/>
<rect y="258.63" width="10.51" height="5.69" fill="#2074fb"/>
<rect y="263.32" width="10.51" height="3.35" fill="#1988ee"/>
<rect y="265.67" width="10.51" height="3.35" fill="#1a85f0"/>
<rect y="268.02" width="10.51" height="3.35" fill="#1c7bf8"/>
<rect y="270.36" width="10.51" height="3.35" fill="#364bf6"/>
<rect y="272.71" width="10.51" height="3.35" fill="#354ef8"/>
<rect y="275.06" width="10.51" height="3.35" fill="#3455fb"/>
<rect y="277.40" width="10.51" height="3.35" fill="#3847f3"/>
<rect y="279.75" width="10.51" height="3.35" fill="#0fa3de"/>
<rect y="282.10" width="10.51" height="3.35" fill="#188cec"/>
<rect y="284.44" width="10.51" height="3.35" fill="#1a85f0"/>
<rect y="286.79" width="10.51" height="3.35" fill="#1c7bf8"/>
<rect y="289.14" width="10.51" height="3.35" fill="#1a85f0"/>
<rect y="291.48" width="10.51" height="3.35" fill="#1496e6"/>
<rect y="293.83" width="10.51" height="3.35" fill="#1399e4"/>
<rect y="296.18" width="10.51" height="5.69" fill="#1a85f0"/>
<rect y="300.87" width="10.51" height="3.35" fill="#1496e6"/>
<rect y="303.22" width="10.51" height="3.35" fill="#1c7bf8"/>
<rect y="305.57" width="10.51" height="3.35" fill="#1b81f3"/>
<rect y="307.91" width="10.51" height="3.35" fill="#168fea"/>
<rect y="310.26" width="10.51" height="3.35" fill="#1b81f3"/>
<rect y="312.61" width="10.51" height="3.35" fill="#2270fd"/>
<rect y="314.95" width="10.51" height="3.35" fill="#2074fb"/>
<rect y="317.30" width="10.51" height="3.35" fill="#2270fd"/>
<rect y="319.65" width="10.51" height="3.35" fill="#1593e8"/>
<rect y="321.99" width="10.51" height="3.35" fill="#00b2ca"/>
<rect y="324.34" width="10.51" height="5.69" fill="#00b7c2"/>
<rect y="329.03" width="10.51" height="3.35" fill="#00b4c6"/>
<rect y="331.38" width="10.51" height="3.35" fill="#1e77fa"/>
<rect y="333.73" width="10.51" height="3.35" fill="#2270fd"/>
<rect y="336.07" width="10.51" height="3.35" fill="#1a85f0"/>
<rect y="338.42" width="10.51" height="3.35" fill="#08a8d9"/>
<rect y="340.77" width="10.51" height="3.35" fill="#1c7bf8"/>
<rect y="343.12" width="10.51" height="3.35" fill="#1e77fa"/>
<rect y="345.46" width="10.51" height="3.35" fill="#129ce2"/>
<rect y="347.81" width="10.51" height="8.04" fill="#0ca6dc"/>
<rect y="354.85" width="10.51" height="3.35" fill="#2270fd"/>
<rect y="357.20" width="10.51" height="3.35" fill="#2968fe"/>
<rect y="359.54" width="10.51" height="3.35" fill="#1b81f3"/>
<rect y="361.89" width="10.51" height="3.35" fill="#00b2ca"/>
<rect y="364.24" width="10.51" height="3.35" fill="#00b0ce"/>
<rect y="366.58" width="10.51" height="3.35" fill="#0fa3de"/>
<rect y="368.93" width="10.51" height="3.35" fill="#1a85f0"/>
<rect y="371.28" width="10.51" height="3.35" fill="#1c7bf8"/>
<rect y="373.62" width="10.51" height="3.35" fill="#1e77fa"/>
<rect y="375.97" width="10.51" height="3.35" fill="#1b7ef6"/>
<rect y="378.32" width="10.51" height="3.35" fill="#1496e6"/>
<rect y="380.67" width="10.51" height="5.69" fill="#04abd5"/>
<rect y="385.36" width="10.51" height="3.35" fill="#00b7c2"/>
<rect y="387.71" width="10.51" height="3.35" fill="#1399e4"/>
<rect y="390.05" width="10.51" height="5.35" fill="#168fea"/>
</g>
<g transform="translate(385.74 0)">
<rect y="239.20" width="10.51" height="6.35" fill="#109fe0"/>
<rect y="244.55" width="10.51" height="3.35" fill="#168fea"/>
<rect y="246.89" width="10.51" height="3.35" fill="#2270fd"/>
<rect y="249.24" width="10.51" height="5.69" fill="#2968fe"/>
<rect y="253.93" width="10.51" height="3.35" fill="#2270fd"/>
<rect y="256.28" width="10.51" height="3.35" fill="#1e77fa"/>
<rect y="258.63" width="10.51" height="3.35" fill="#2074fb"/>
<rect y="260.97" width="10.51" height="3.35" fill="#14bdb3"/>
<rect y="263.32" width="10.51" height="3.35" fill="#0dbbb9"/>
<rect y="265.67" width="10.51" height="3.35" fill="#23c2a8"/>
<rect y="268.02" width="10.51" height="3.35" fill="#14bdb3"/>
<rect y="270.36" width="10.51" height="3.35" fill="#1399e4"/>
<rect y="272.71" width="10.51" height="3.35" fill="#1988ee"/>
<rect y="275.06" width="10.51" height="3.35" fill="#168fea"/>
<rect y="277.40" width="10.51" height="3.35" fill="#1e77fa"/>
<rect y="279.75" width="10.51" height="3.35" fill="#2074fb"/>
<rect y="282.10" width="10.51" height="3.35" fill="#1b7ef6"/>
<rect y="284.44" width="10.51" height="3.35" fill="#1a85f0"/>
<rect y="286.79" width="10.51" height="3.35" fill="#1988ee"/>
<rect y="289.14" width="10.51" height="3.35" fill="#1496e6"/>
<rect y="291.48" width="10.51" height="3.35" fill="#188cec"/>
<rect y="293.83" width="10.51" height="3.35" fill="#1593e8"/>
<rect y="296.18" width="10.51" height="3.35" fill="#14bdb3"/>
<rect y="298.52" width="10.51" height="3.35" fill="#06b9bd"/>
<rect y="300.87" width="10.51" height="3.35" fill="#1a85f0"/>
<rect y="303.22" width="10.51" height="3.35" fill="#00b4c6"/>
<rect y="305.57" width="10.51" height="3.35" fill="#1988ee"/>
<rect y="307.91" width="10.51" height="3.35" fill="#1c7bf8"/>
<rect y="310.26" width="10.51" height="3.35" fill="#1b81f3"/>
<rect y="312.61" width="10.51" height="3.35" fill="#1988ee"/>
<rect y="314.95" width="10.51" height="3.35" fill="#1b7ef6"/>
<rect y="317.30" width="10.51" height="3.35" fill="#1a85f0"/>
<rect y="319.65" width="10.51" height="3.35" fill="#2074fb"/>
<rect y="321.99" width="10.51" height="3.35" fill="#2270fd"/>
<rect y="324.34" width="10.51" height="3.35" fill="#2074fb"/>
<rect y="326.69" width="10.51" height="3.35" fill="#00b2ca"/>
<rect y="329.03" width="10.51" height="3.35" fill="#77cc5a"/>
<rect y="331.38" width="10.51" height="3.35" fill="#0ca6dc"/>
<rect y="333.73" width="10.51" height="3.35" fill="#2074fb"/>
<rect y="336.07" width="10.51" height="3.35" fill="#109fe0"/>
<rect y="338.42" width="10.51" height="3.35" fill="#00b2ca"/>
<rect y="340.77" width="10.51" height="3.35" fill="#0fa3de"/>
<rect y="343.12" width="10.51" height="3.35" fill="#1988ee"/>
<rect y="345.46" width="10.51" height="5.69" fill="#0ca6dc"/>
<rect y="350.16" width="10.51" height="3.35" fill="#109fe0"/>
<rect y="352.50" width="10.51" height="3.35" fill="#0fa3de"/>
<rect y="354.85" width="10.51" height="3.35" fill="#1b7ef6"/>
<rect y="357.20" width="10.51" height="3.35" fill="#1b81f3"/>
<rect y="359.54" width="10.51" height="3.35" fill="#2074fb"/>
<rect y="361.89" width="10.51" height="3.35" fill="#1b7ef6"/>
<rect y="364.24" width="10.51" height="3.35" fill="#188cec"/>
<rect y="366.58" width="10.51" height="3.35" fill="#08a8d9"/>
<rect y="368.93" width="10.51" height="3.35" fill="#109fe0"/>
<rect y="371.28" width="10.51" height="3.35" fill="#1988ee"/>
<rect y="373.62" width="10.51" height="3.35" fill="#3944f1"/>
<rect y="375.97" width="10.51" height="3.35" fill="#3a40ee"/>
<rect y="378.32" width="10.51" height="3.35" fill="#3944f1"/>
<rect y="380.67" width="10.51" height="3.35" fill="#1b81f3"/>
<rect y="383.01" width="10.51" height="3.35" fill="#2270fd"/>
<rect y="385.36" width="10.51" height="3.35" fill="#2968fe"/>
<rect y="387.71" width="10.51" height="3.35" fill="#256cfd"/>
<rect y="390.05" width="10.51" height="5.35" fill="#1b81f3"/>
</g>
<g transform="translate(395.24 0)">
<rect y="239.20" width="10.51" height="6.35" fill="#1b7ef6"/>
<rect y="244.55" width="10.51" height="3.35" fill="#3944f1"/>
<rect y="246.89" width="10.51" height="3.35" fill="#3847f3"/>
<rect y="249.24" width="10.51" height="3.35" fill="#1593e8"/>
<rect y="251.59" width="10.51" height="3.35" fill="#256cfd"/>
<rect y="253.93" width="10.51" height="3.35" fill="#3a40ee"/>
<rect y="256.28" width="10.51" height="3.35" fill="#3847f3"/>
<rect y="258.63" width="10.51" height="3.35" fill="#256cfd"/>
<rect y="260.97" width="10.51" height="3.35" fill="#2270fd"/>
<rect y="263.32" width="10.51" height="5.69" fill="#1e77fa"/>
<rect y="268.02" width="10.51" height="5.69" fill="#256cfd"/>
<rect y="272.71" width="10.51" height="8.04" fill="#2968fe"/>
<rect y="279.75" width="10.51" height="3.35" fill="#2270fd"/>
<rect y="282.10" width="10.51" height="3.35" fill="#1b81f3"/>
<rect y="284.44" width="10.51" height="5.69" fill="#04abd5"/>
<rect y="289.14" width="10.51" height="3.35" fill="#256cfd"/>
<rect y="291.48" width="10.51" height="3.35" fill="#188cec"/>
<rect y="293.83" width="10.51" height="3.35" fill="#29c4a1"/>
<rect y="296.18" width="10.51" height="3.35" fill="#3ac98e"/>
<rect y="298.52" width="10.51" height="3.35" fill="#168fea"/>
<rect y="300.87" width="10.51" height="3.35" fill="#2074fb"/>
<rect y="303.22" width="10.51" height="3.35" fill="#1988ee"/>
<rect y="305.57" width="10.51" height="3.35" fill="#2fc69b"/>
<rect y="307.91" width="10.51" height="3.35" fill="#34c795"/>
<rect y="310.26" width="10.51" height="3.35" fill="#188cec"/>
<rect y="312.61" width="10.51" height="3.35" fill="#2270fd"/>
<rect y="314.95" width="10.51" height="3.35" fill="#1b7ef6"/>
<rect y="317.30" width="10.51" height="3.35" fill="#1399e4"/>
<rect y="319.65" width="10.51" height="3.35" fill="#1988ee"/>
<rect y="321.99" width="10.51" height="3.35" fill="#256cfd"/>
<rect y="324.34" width="10.51" height="8.04" fill="#2968fe"/>
<rect y="331.38" width="10.51" height="3.35" fill="#1b81f3"/>
<rect y="333.73" width="10.51" height="3.35" fill="#1496e6"/>
<rect y="336.07" width="10.51" height="3.35" fill="#0fa3de"/>
<rect y="338.42" width="10.51" height="3.35" fill="#1a85f0"/>
<rect y="340.77" width="10.51" height="3.35" fill="#0fa3de"/>
<rect y="343.12" width="10.51" height="3.35" fill="#1496e6"/>
<rect y="345.46" width="10.51" height="3.35" fill="#188cec"/>
<rect y="347.81" width="10.51" height="3.35" fill="#1c7bf8"/>
<rect y="350.16" width="10.51" height="5.69" fill="#1988ee"/>
<rect y="354.85" width="10.51" height="3.35" fill="#1b7ef6"/>
<rect y="357.20" width="10.51" height="3.35" fill="#168fea"/>
<rect y="359.54" width="10.51" height="3.35" fill="#1593e8"/>
<rect y="361.89" width="10.51" height="3.35" fill="#08a8d9"/>
<rect y="364.24" width="10.51" height="3.35" fill="#0fa3de"/>
<rect y="366.58" width="10.51" height="3.35" fill="#0ca6dc"/>
<rect y="368.93" width="10.51" height="3.35" fill="#109fe0"/>
<rect y="371.28" width="10.51" height="3.35" fill="#1593e8"/>
<rect y="373.62" width="10.51" height="3.35" fill="#109fe0"/>
<rect y="375.97" width="10.51" height="3.35" fill="#3847f3"/>
<rect y="378.32" width="10.51" height="3.35" fill="#364bf6"/>
<rect y="380.67" width="10.51" height="3.35" fill="#0fa3de"/>
<rect y="383.01" width="10.51" height="3.35" fill="#1a85f0"/>
<rect y="385.36" width="10.51" height="3.35" fill="#1b81f3"/>
<rect y="387.71" width="10.51" height="3.35" fill="#1b7ef6"/>
<rect y="390.05" width="10.51" height="5.35" fill="#1b81f3"/>
</g>
<g transform="translate(404.75 0)">
<rect y="239.20" width="10.51" height="6.35" fill="#1496e6"/>
<rect y="244.55" width="10.51" height="3.35" fill="#1988ee"/>
<rect y="246.89" width="10.51" height="3.35" fill="#168fea"/>
<rect y="249.24" width="10.51" height="3.35" fill="#1593e8"/>
<rect y="251.59" width="10.51" height="3.35" fill="#1b81f3"/>
<rect y="253.93" width="10.51" height="3.35" fill="#3a40ee"/>
<rect y="256.28" width="10.51" height="3.35" fill="#3b3cea"/>
<rect y="258.63" width="10.51" height="3.35" fill="#256cfd"/>
<rect y="260.97" width="10.51" height="5.69" fill="#0ca6dc"/>
<rect y="265.67" width="10.51" height="3.35" fill="#08a8d9"/>
<rect y="268.02" width="10.51" height="3.35" fill="#2074fb"/>
<rect y="270.36" width="10.51" height="3.35" fill="#1a85f0"/>
<rect y="272.71" width="10.51" height="3.35" fill="#1496e6"/>
<rect y="275.06" width="10.51" height="3.35" fill="#109fe0"/>
<rect y="277.40" width="10.51" height="3.35" fill="#1593e8"/>
<rect y="279.75" width="10.51" height="3.35" fill="#168fea"/>
<rect y="282.10" width="10.51" height="3.35" fill="#1c7bf8"/>
<rect y="284.44" width="10.51" height="3.35" fill="#1a85f0"/>
<rect y="286.79" width="10.51" height="3.35" fill="#168fea"/>
<rect y="289.14" width="10.51" height="3.35" fill="#1b7ef6"/>
<rect y="291.48" width="10.51" height="3.35" fill="#1a85f0"/>
<rect y="293.83" width="10.51" height="3.35" fill="#188cec"/>
<rect y="296.18" width="10.51" height="5.69" fill="#109fe0"/>
<rect y="300.87" width="10.51" height="3.35" fill="#1c7bf8"/>
<rect y="303.22" width="10.51" height="3.35" fill="#256cfd"/>
<rect y="305.57" width="10.51" height="5.69" fill="#1e77fa"/>
<rect y="310.26" width="10.51" height="3.35" fill="#2270fd"/>
<rect y="312.61" width="10.51" height="3.35" fill="#1b81f3"/>
<rect y="314.95" width="10.51" height="3.35" fill="#1988ee"/>
<rect y="317.30" width="10.51" height="3.35" fill="#1b81f3"/>
<rect y="319.65" width="10.51" height="3.35" fill="#1c7bf8"/>
<rect y="321.99" width="10.51" height="3.35" fill="#00b7c2"/>
<rect y="324.34" width="10.51" height="3.35" fill="#f7de29"/>
<rect y="326.69" width="10.51" height="3.35" fill="#40ca87"/>
<rect y="329.03" width="10.51" height="3.35" fill="#1bc0ae"/>
<rect y="331.38" width="10.51" height="3.35" fill="#feca33"/>
<rect y="333.73" width="10.51" height="3.35" fill="#46cb81"/>
<rect y="336.07" width="10.51" height="3.35" fill="#188cec"/>
<rect y="338.42" width="10.51" height="3.35" fill="#1a85f0"/>
<rect y="340.77" width="10.51" height="3.35" fill="#129ce2"/>
<rect y="343.12" width="10.51" height="3.35" fill="#1c7bf8"/>
<rect y="345.46" width="10.51" height="3.35" fill="#1e77fa"/>
<rect y="347.81" width="10.51" height="3.35" fill="#2074fb"/>
<rect y="350.16" width="10.51" height="3.35" fill="#1b7ef6"/>
<rect y="352.50" width="10.51" height="3.35" fill="#2968fe"/>
<rect y="354.85" width="10.51" height="3.35" fill="#1e77fa"/>
<rect y="357.20" width="10.51" height="3.35" fill="#1399e4"/>
<rect y="359.54" width="10.51" height="5.69" fill="#00b0ce"/>
<rect y="364.24" width="10.51" height="3.35" fill="#0fa3de"/>
<rect y="366.58" width="10.51" height="3.35" fill="#0ca6dc"/>
<rect y="368.93" width="10.51" height="3.35" fill="#1b7ef6"/>
<rect y="371.28" width="10.51" height="10.39" fill="#2968fe"/>
<rect y="380.67" width="10.51" height="3.35" fill="#2270fd"/>
<rect y="383.01" width="10.51" height="3.35" fill="#256cfd"/>
<rect y="385.36" width="10.51" height="3.35" fill="#2968fe"/>
<rect y="387.71" width="10.51" height="3.35" fill="#188cec"/>
<rect y="390.05" width="10.51" height="5.35" fill="#0fa3de"/>
</g>
<g transform="translate(414.25 0)">
<rect y="239.20" width="10.51" height="8.69" fill="#1988ee"/>
<rect y="246.89" width="10.51" height="3.35" fill="#1c7bf8"/>
<rect y="249.24" width="10.51" height="3.35" fill="#1a85f0"/>
<rect y="251.59" width="10.51" height="3.35" fill="#1b81f3"/>
<rect y="253.93" width="10.51" height="3.35" fill="#2270fd"/>
<rect y="256.28" width="10.51" height="3.35" fill="#2968fe"/>
<rect y="258.63" width="10.51" height="3.35" fill="#1c7bf8"/>
<rect y="260.97" width="10.51" height="3.35" fill="#1b81f3"/>
<rect y="263.32" width="10.51" height="3.35" fill="#1988ee"/>
<rect y="265.67" width="10.51" height="3.35" fill="#1e77fa"/>
<rect y="268.02" width="10.51" height="3.35" fill="#2270fd"/>
<rect y="270.36" width="10.51" height="3.35" fill="#1c7bf8"/>
<rect y="272.71" width="10.51" height="3.35" fill="#1a85f0"/>
<rect y="275.06" width="10.51" height="3.35" fill="#1399e4"/>
<rect y="277.40" width="10.51" height="3.35" fill="#08a8d9"/>
<rect y="279.75" width="10.51" height="3.35" fill="#109fe0"/>
<rect y="282.10" width="10.51" height="3.35" fill="#1988ee"/>
<rect y="284.44" width="10.51" height="8.04" fill="#1496e6"/>
<rect y="291.48" width="10.51" height="3.35" fill="#3b3cea"/>
<rect y="293.83" width="10.51" height="3.35" fill="#188cec"/>
<rect y="296.18" width="10.51" height="3.35" fill="#1b81f3"/>
<rect y="298.52" width="10.51" height="8.04" fill="#2270fd"/>
<rect y="305.57" width="10.51" height="3.35" fill="#2074fb"/>
<rect y="307.91" width="10.51" height="3.35" fill="#00aed2"/>
<rect y="310.26" width="10.51" height="3.35" fill="#04abd5"/>
<rect y="312.61" width="10.51" height="3.35" fill="#0ca6dc"/>
<rect y="314.95" width="10.51" height="3.35" fill="#1c7bf8"/>
<rect y="317.30" width="10.51" height="3.35" fill="#1496e6"/>
<rect y="319.65" width="10.51" height="3.35" fill="#0ca6dc"/>
<rect y="321.99" width="10.51" height="3.35" fill="#fbd62d"/>
<rect y="324.34" width="10.51" height="3.35" fill="#feca33"/>
<rect y="326.69" width="10.51" height="3.35" fill="#188cec"/>
<rect y="329.03" width="10.51" height="3.35" fill="#feca33"/>
<rect y="331.38" width="10.51" height="3.35" fill="#fdce31"/>
<rect y="333.73" width="10.51" height="3.35" fill="#1a85f0"/>
<rect y="336.07" width="10.51" height="3.35" fill="#1b81f3"/>
<rect y="338.42" width="10.51" height="3.35" fill="#1b7ef6"/>
<rect y="340.77" width="10.51" height="3.35" fill="#168fea"/>
<rect y="343.12" width="10.51" height="3.35" fill="#1a85f0"/>
<rect y="345.46" width="10.51" height="3.35" fill="#2270fd"/>
<rect y="347.81" width="10.51" height="3.35" fill="#256cfd"/>
<rect y="350.16" width="10.51" height="3.35" fill="#0fa3de"/>
<rect y="352.50" width="10.51" height="3.35" fill="#00b2ca"/>
<rect y="354.85" width="10.51" height="3.35" fill="#1496e6"/>
<rect y="357.20" width="10.51" height="3.35" fill="#188cec"/>
<rect y="359.54" width="10.51" height="5.69" fill="#0ca6dc"/>
<rect y="364.24" width="10.51" height="3.35" fill="#0fa3de"/>
<rect y="366.58" width="10.51" height="3.35" fill="#129ce2"/>
<rect y="368.93" width="10.51" height="3.35" fill="#08a8d9"/>
<rect y="371.28" width="10.51" height="3.35" fill="#2074fb"/>
<rect y="373.62" width="10.51" height="3.35" fill="#2968fe"/>
<rect y="375.97" width="10.51" height="3.35" fill="#1e77fa"/>
<rect y="378.32" width="10.51" height="3.35" fill="#1b7ef6"/>
<rect y="380.67" width="10.51" height="3.35" fill="#1b81f3"/>
<rect y="383.01" width="10.51" height="5.69" fill="#168fea"/>
<rect y="387.71" width="10.51" height="3.35" fill="#1c7bf8"/>
<rect y="390.05" width="10.51" height="5.35" fill="#256cfd"/>
</g>
<g transform="translate(423.75 0)">
<rect y="239.20" width="10.51" height="8.69" fill="#3ac98e"/>
<rect y="246.89" width="10.51" height="3.35" fill="#0ca6dc"/>
<rect y="249.24" width="10.51" height="3.35" fill="#188cec"/>
<rect y="251.59" width="10.51" height="3.35" fill="#1c7bf8"/>
<rect y="253.93" width="10.51" height="3.35" fill="#2270fd"/>
<rect y="256.28" width="10.51" height="5.69" fill="#1988ee"/>
<rect y="260.97" width="10.51" height="3.35" fill="#1e77fa"/>
<rect y="263.32" width="10.51" height="3.35" fill="#1399e4"/>
<rect y="265.67" width="10.51" height="3.35" fill="#3ac98e"/>
<rect y="268.02" width="10.51" height="3.35" fill="#3847f3"/>
<rect y="270.36" width="10.51" height="3.35" fill="#3a40ee"/>
<rect y="272.71" width="10.51" height="3.35" fill="#0fa3de"/>
<rect y="275.06" width="10.51" height="3.35" fill="#4dcb7a"/>
<rect y="277.40" width="10.51" height="3.35" fill="#56cc73"/>
<rect y="279.75" width="10.51" height="3.35" fill="#109fe0"/>
<rect y="282.10" width="10.51" height="3.35" fill="#168fea"/>
<rect y="284.44" width="10.51" height="3.35" fill="#1c7bf8"/>
<rect y="286.79" width="10.51" height="3.35" fill="#2270fd"/>
<rect y="289.14" width="10.51" height="3.35" fill="#2968fe"/>
<rect y="291.48" width="10.51" height="3.35" fill="#1b7ef6"/>
<rect y="293.83" width="10.51" height="3.35" fill="#168fea"/>
<rect y="296.18" width="10.51" height="3.35" fill="#1496e6"/>
<rect y="298.52" width="10.51" height="3.35" fill="#188cec"/>
<rect y="300.87" width="10.51" height="3.35" fill="#1496e6"/>
<rect y="303.22" width="10.51" height="3.35" fill="#1988ee"/>
<rect y="305.57" width="10.51" height="3.35" fill="#168fea"/>
<rect y="307.91" width="10.51" height="3.35" fill="#0fa3de"/>
<rect y="310.26" width="10.51" height="3.35" fill="#0ca6dc"/>
<rect y="312.61" width="10.51" height="3.35" fill="#109fe0"/>
<rect y="314.95" width="10.51" height="3.35" fill="#0ca6dc"/>
<rect y="317.30" width="10.51" height="3.35" fill="#1593e8"/>
<rect y="319.65" width="10.51" height="5.69" fill="#80cc54"/>
<rect y="324.34" width="10.51" height="3.35" fill="#1b81f3"/>
<rect y="326.69" width="10.51" height="3.35" fill="#00aed2"/>
<rect y="329.03" width="10.51" height="3.35" fill="#00b0ce"/>
<rect y="331.38" width="10.51" height="3.35" fill="#1496e6"/>
<rect y="333.73" width="10.51" height="3.35" fill="#1b81f3"/>
<rect y="336.07" width="10.51" height="3.35" fill="#1e77fa"/>
<rect y="338.42" width="10.51" height="3.35" fill="#1b81f3"/>
<rect y="340.77" width="10.51" height="3.35" fill="#1a85f0"/>
<rect y="343.12" width="10.51" height="3.35" fill="#1e77fa"/>
<rect y="345.46" width="10.51" height="3.35" fill="#188cec"/>
<rect y="347.81" width="10.51" height="3.35" fill="#1399e4"/>
<rect y="350.16" width="10.51" height="5.69" fill="#168fea"/>
<rect y="354.85" width="10.51" height="3.35" fill="#0ca6dc"/>
<rect y="357.20" width="10.51" height="3.35" fill="#00aed2"/>
<rect y="359.54" width="10.51" height="3.35" fill="#109fe0"/>
<rect y="361.89" width="10.51" height="8.04" fill="#0ca6dc"/>
<rect y="368.93" width="10.51" height="3.35" fill="#0fa3de"/>
<rect y="371.28" width="10.51" height="3.35" fill="#1e77fa"/>
<rect y="373.62" width="10.51" height="3.35" fill="#1b7ef6"/>
<rect y="375.97" width="10.51" height="3.35" fill="#1c7bf8"/>
<rect y="378.32" width="10.51" height="3.35" fill="#256cfd"/>
<rect y="380.67" width="10.51" height="3.35" fill="#2968fe"/>
<rect y="383.01" width="10.51" height="3.35" fill="#1b7ef6"/>
<rect y="385.36" width="10.51" height="3.35" fill="#1a85f0"/>
<rect y="387.71" width="10.51" height="3.35" fill="#1496e6"/>
<rect y="390.05" width="10.51" height="5.35" fill="#0fa3de"/>
</g>
<g transform="translate(433.26 0)">
<rect y="239.20" width="10.51" height="6.35" fill="#109fe0"/>
<rect y="244.55" width="10.51" height="3.35" fill="#1b81f3"/>
<rect y="246.89" width="10.51" height="3.35" fill="#256cfd"/>
<rect y="249.24" width="10.51" height="3.35" fill="#2074fb"/>
<rect y="251.59" width="10.51" height="3.35" fill="#1b81f3"/>
<rect y="253.93" width="10.51" height="3.35" fill="#1c7bf8"/>
<rect y="256.28" width="10.51" height="3.35" fill="#1a85f0"/>
<rect y="258.63" width="10.51" height="3.35" fill="#1c7bf8"/>
<rect y="260.97" width="10.51" height="3.35" fill="#1496e6"/>
<rect y="263.32" width="10.51" height="3.35" fill="#00aed2"/>
<rect y="265.67" width="10.51" height="3.35" fill="#0fa3de"/>
<rect y="268.02" width="10.51" height="3.35" fill="#1b7ef6"/>
<rect y="270.36" width="10.51" height="5.69" fill="#2968fe"/>
<rect y="275.06" width="10.51" height="3.35" fill="#188cec"/>
<rect y="277.40" width="10.51" height="3.35" fill="#0ca6dc"/>
<rect y="279.75" width="10.51" height="3.35" fill="#00aed2"/>
<rect y="282.10" width="10.51" height="3.35" fill="#00b4c6"/>
<rect y="284.44" width="10.51" height="3.35" fill="#129ce2"/>
<rect y="286.79" width="10.51" height="3.35" fill="#2270fd"/>
<rect y="289.14" width="10.51" height="3.35" fill="#3944f1"/>
<rect y="291.48" width="10.51" height="3.35" fill="#3d35e3"/>
<rect y="293.83" width="10.51" height="3.35" fill="#3b3cea"/>
<rect y="296.18" width="10.51" height="3.35" fill="#1b81f3"/>
<rect y="298.52" width="10.51" height="3.35" fill="#1593e8"/>
<rect y="300.87" width="10.51" height="3.35" fill="#354ef8"/>
<rect y="303.22" width="10.51" height="3.35" fill="#08a8d9"/>
<rect y="305.57" width="10.51" height="3.35" fill="#0fa3de"/>
<rect y="307.91" width="10.51" height="3.35" fill="#1988ee"/>
<rect y="310.26" width="10.51" height="3.35" fill="#1b81f3"/>
<rect y="312.61" width="10.51" height="5.69" fill="#1496e6"/>
<rect y="317.30" width="10.51" height="3.35" fill="#1b81f3"/>
<rect y="319.65" width="10.51" height="3.35" fill="#1a85f0"/>
<rect y="321.99" width="10.51" height="3.35" fill="#1b7ef6"/>
<rect y="324.34" width="10.51" height="3.35" fill="#1a85f0"/>
<rect y="326.69" width="10.51" height="3.35" fill="#0fa3de"/>
<rect y="329.03" width="10.51" height="3.35" fill="#1a85f0"/>
<rect y="331.38" width="10.51" height="5.69" fill="#2968fe"/>
<rect y="336.07" width="10.51" height="3.35" fill="#1c7bf8"/>
<rect y="338.42" width="10.51" height="3.35" fill="#1b7ef6"/>
<rect y="340.77" width="10.51" height="3.35" fill="#2968fe"/>
<rect y="343.12" width="10.51" height="3.35" fill="#1e77fa"/>
<rect y="345.46" width="10.51" height="3.35" fill="#0ca6dc"/>
<rect y="347.81" width="10.51" height="3.35" fill="#1593e8"/>
<rect y="350.16" width="10.51" height="3.35" fill="#00b7c2"/>
<rect y="352.50" width="10.51" height="3.35" fill="#40ca87"/>
<rect y="354.85" width="10.51" height="3.35" fill="#08a8d9"/>
<rect y="357.20" width="10.51" height="3.35" fill="#3b3cea"/>
<rect y="359.54" width="10.51" height="3.35" fill="#3944f1"/>
<rect y="361.89" width="10.51" height="3.35" fill="#1e77fa"/>
<rect y="364.24" width="10.51" height="5.69" fill="#3455fb"/>
<rect y="368.93" width="10.51" height="3.35" fill="#354ef8"/>
<rect y="371.28" width="10.51" height="3.35" fill="#3552f9"/>
<rect y="373.62" width="10.51" height="3.35" fill="#109fe0"/>
<rect y="375.97" width="10.51" height="5.69" fill="#256cfd"/>
<rect y="380.67" width="10.51" height="3.35" fill="#1b7ef6"/>
<rect y="383.01" width="10.51" height="3.35" fill="#1b81f3"/>
<rect y="385.36" width="10.51" height="10.04" fill="#00b0ce"/>
</g>
<g transform="translate(442.76 0)">
<rect y="239.20" width="10.51" height="6.35" fill="#1e77fa"/>
<rect y="244.55" width="10.51" height="3.35" fill="#1c7bf8"/>
<rect y="246.89" width="10.51" height="3.35" fill="#188cec"/>
<rect y="249.24" width="10.51" height="3.35" fill="#0ca6dc"/>
<rect y="251.59" width="10.51" height="3.35" fill="#0fa3de"/>
<rect y="253.93" width="10.51" height="3.35" fill="#0ca6dc"/>
<rect y="256.28" width="10.51" height="3.35" fill="#1593e8"/>
<rect y="258.63" width="10.51" height="3.35" fill="#1988ee"/>
<rect y="260.97" width="10.51" height="3.35" fill="#06b9bd"/>
<rect y="263.32" width="10.51" height="5.69" fill="#00b4c6"/>
<rect y="268.02" width="10.51" height="3.35" fill="#23c2a8"/>
<rect y="270.36" width="10.51" height="3.35" fill="#1c7bf8"/>
<rect y="272.71" width="10.51" height="3.35" fill="#1988ee"/>
<rect y="275.06" width="10.51" height="3.35" fill="#00b2ca"/>
<rect y="277.40" width="10.51" height="3.35" fill="#3847f3"/>
<rect y="279.75" width="10.51" height="3.35" fill="#3944f1"/>
<rect y="282.10" width="10.51" height="3.35" fill="#2270fd"/>
<rect y="284.44" width="10.51" height="3.35" fill="#1e77fa"/>
<rect y="286.79" width="10.51" height="3.35" fill="#1a85f0"/>
<rect y="289.14" width="10.51" height="3.35" fill="#109fe0"/>
<rect y="291.48" width="10.51" height="3.35" fill="#1593e8"/>
<rect y="293.83" width="10.51" height="3.35" fill="#1b81f3"/>
<rect y="296.18" width="10.51" height="3.35" fill="#1a85f0"/>
<rect y="298.52" width="10.51" height="3.35" fill="#1b7ef6"/>
<rect y="300.87" width="10.51" height="3.35" fill="#364bf6"/>
<rect y="303.22" width="10.51" height="3.35" fill="#1593e8"/>
<rect y="305.57" width="10.51" height="3.35" fill="#188cec"/>
<rect y="307.91" width="10.51" height="3.35" fill="#2270fd"/>
<rect y="310.26" width="10.51" height="5.69" fill="#2968fe"/>
<rect y="314.95" width="10.51" height="3.35" fill="#1e77fa"/>
<rect y="317.30" width="10.51" height="3.35" fill="#1a85f0"/>
<rect y="319.65" width="10.51" height="5.69" fill="#1e77fa"/>
<rect y="324.34" width="10.51" height="3.35" fill="#00b2ca"/>
<rect y="326.69" width="10.51" height="3.35" fill="#00b0ce"/>
<rect y="329.03" width="10.51" height="3.35" fill="#2270fd"/>
<rect y="331.38" width="10.51" height="5.69" fill="#256cfd"/>
<rect y="336.07" width="10.51" height="3.35" fill="#1b7ef6"/>
<rect y="338.42" width="10.51" height="3.35" fill="#168fea"/>
<rect y="340.77" width="10.51" height="3.35" fill="#1e77fa"/>
<rect y="343.12" width="10.51" height="5.69" fill="#2270fd"/>
<rect y="347.81" width="10.51" height="3.35" fill="#2074fb"/>
<rect y="350.16" width="10.51" height="3.35" fill="#1b7ef6"/>
<rect y="352.50" width="10.51" height="3.35" fill="#1988ee"/>
<rect y="354.85" width="10.51" height="3.35" fill="#1b7ef6"/>
<rect y="357.20" width="10.51" height="3.35" fill="#1593e8"/>
<rect y="359.54" width="10.51" height="3.35" fill="#1b7ef6"/>
<rect y="361.89" width="10.51" height="3.35" fill="#1988ee"/>
<rect y="364.24" width="10.51" height="3.35" fill="#188cec"/>
<rect y="366.58" width="10.51" height="3.35" fill="#1b81f3"/>
<rect y="368.93" width="10.51" height="3.35" fill="#256cfd"/>
<rect y="371.28" width="10.51" height="3.35" fill="#2968fe"/>
<rect y="373.62" width="10.51" height="3.35" fill="#2270fd"/>
<rect y="375.97" width="10.51" height="3.35" fill="#1c7bf8"/>
<rect y="378.32" width="10.51" height="3.35" fill="#1b7ef6"/>
<rect y="380.67" width="10.51" height="3.35" fill="#188cec"/>
<rect y="383.01" width="10.51" height="3.35" fill="#129ce2"/>
<rect y="385.36" width="10.51" height="3.35" fill="#188cec"/>
<rect y="387.71" width="10.51" height="3.35" fill="#1b7ef6"/>
<rect y="390.05" width="10.51" height="5.35" fill="#1b81f3"/>
</g>
<g transform="translate(452.27 0)">
<rect y="239.20" width="10.51" height="6.35" fill="#1988ee"/>
<rect y="244.55" width="10.51" height="3.35" fill="#1a85f0"/>
<rect y="246.89" width="10.51" height="3.35" fill="#2270fd"/>
<rect y="249.24" width="10.51" height="3.35" fill="#1b7ef6"/>
<rect y="251.59" width="10.51" height="3.35" fill="#129ce2"/>
<rect y="253.93" width="10.51" height="3.35" fill="#1988ee"/>
<rect y="256.28" width="10.51" height="3.35" fill="#3b3cea"/>
<rect y="258.63" width="10.51" height="3.35" fill="#364bf6"/>
<rect y="260.97" width="10.51" height="3.35" fill="#168fea"/>
<rect y="263.32" width="10.51" height="3.35" fill="#2270fd"/>
<rect y="265.67" width="10.51" height="3.35" fill="#2074fb"/>
<rect y="268.02" width="10.51" height="5.69" fill="#1c7bf8"/>
<rect y="272.71" width="10.51" height="3.35" fill="#2270fd"/>
<rect y="275.06" width="10.51" height="3.35" fill="#256cfd"/>
<rect y="277.40" width="10.51" height="3.35" fill="#0ca6dc"/>
<rect y="279.75" width="10.51" height="3.35" fill="#00aed2"/>
<rect y="282.10" width="10.51" height="3.35" fill="#2270fd"/>
<rect y="284.44" width="10.51" height="3.35" fill="#08a8d9"/>
<rect y="286.79" width="10.51" height="3.35" fill="#23c2a8"/>
<rect y="289.14" width="10.51" height="3.35" fill="#0ca6dc"/>
<rect y="291.48" width="10.51" height="3.35" fill="#08a8d9"/>
<rect y="293.83" width="10.51" height="3.35" fill="#2074fb"/>
<rect y="296.18" width="10.51" height="3.35" fill="#129ce2"/>
<rect y="298.52" width="10.51" height="5.69" fill="#0ca6dc"/>
<rect y="303.22" width="10.51" height="3.35" fill="#0fa3de"/>
<rect y="305.57" width="10.51" height="8.04" fill="#109fe0"/>
<rect y="312.61" width="10.51" height="3.35" fill="#0ca6dc"/>
<rect y="314.95" width="10.51" height="3.35" fill="#0fa3de"/>
<rect y="317.30" width="10.51" height="3.35" fill="#168fea"/>
<rect y="319.65" width="10.51" height="3.35" fill="#1a85f0"/>
<rect y="321.99" width="10.51" height="3.35" fill="#1b81f3"/>
<rect y="324.34" width="10.51" height="3.35" fill="#08a8d9"/>
<rect y="326.69" width="10.51" height="3.35" fill="#40ca87"/>
<rect y="329.03" width="10.51" height="5.69" fill="#00b2ca"/>
<rect y="333.73" width="10.51" height="3.35" fill="#2968fe"/>
<rect y="336.07" width="10.51" height="3.35" fill="#1c7bf8"/>
<rect y="338.42" width="10.51" height="3.35" fill="#1a85f0"/>
<rect y="340.77" width="10.51" height="3.35" fill="#1593e8"/>
<rect y="343.12" width="10.51" height="3.35" fill="#188cec"/>
<rect y="345.46" width="10.51" height="3.35" fill="#1a85f0"/>
<rect y="347.81" width="10.51" height="3.35" fill="#1399e4"/>
<rect y="350.16" width="10.51" height="3.35" fill="#109fe0"/>
<rect y="352.50" width="10.51" height="3.35" fill="#168fea"/>
<rect y="354.85" width="10.51" height="3.35" fill="#1399e4"/>
<rect y="357.20" width="10.51" height="3.35" fill="#1496e6"/>
<rect y="359.54" width="10.51" height="3.35" fill="#1b81f3"/>
<rect y="361.89" width="10.51" height="3.35" fill="#129ce2"/>
<rect y="364.24" width="10.51" height="3.35" fill="#1399e4"/>
<rect y="366.58" width="10.51" height="3.35" fill="#168fea"/>
<rect y="368.93" width="10.51" height="3.35" fill="#1988ee"/>
<rect y="371.28" width="10.51" height="3.35" fill="#00b4c6"/>
<rect y="373.62" width="10.51" height="3.35" fill="#feca33"/>
<rect y="375.97" width="10.51" height="3.35" fill="#00b7c2"/>
<rect y="378.32" width="10.51" height="5.69" fill="#1399e4"/>
<rect y="383.01" width="10.51" height="3.35" fill="#1988ee"/>
<rect y="385.36" width="10.51" height="3.35" fill="#188cec"/>
<rect y="387.71" width="10.51" height="3.35" fill="#1593e8"/>
<rect y="390.05" width="10.51" height="5.35" fill="#129ce2"/>
</g>
<g transform="translate(461.77 0)">
<rect y="239.20" width="10.51" height="6.35" fill="#00b4c6"/>
<rect y="244.55" width="10.51" height="3.35" fill="#04abd5"/>
<rect y="246.89" width="10.51" height="5.69" fill="#188cec"/>
<rect y="251.59" width="10.51" height="3.35" fill="#1496e6"/>
<rect y="253.93" width="10.51" height="3.35" fill="#1c7bf8"/>
<rect y="256.28" width="10.51" height="5.69" fill="#2968fe"/>
<rect y="260.97" width="10.51" height="3.35" fill="#256cfd"/>
<rect y="263.32" width="10.51" height="3.35" fill="#402dd3"/>
<rect y="265.67" width="10.51" height="3.35" fill="#2074fb"/>
<rect y="268.02" width="10.51" height="3.35" fill="#1a85f0"/>
<rect y="270.36" width="10.51" height="3.35" fill="#04abd5"/>
<rect y="272.71" width="10.51" height="3.35" fill="#109fe0"/>
<rect y="275.06" width="10.51" height="3.35" fill="#0ca6dc"/>
<rect y="277.40" width="10.51" height="3.35" fill="#1399e4"/>
<rect y="279.75" width="10.51" height="3.35" fill="#34c795"/>
<rect y="282.10" width="10.51" height="3.35" fill="#1399e4"/>
<rect y="284.44" width="10.51" height="5.69" fill="#1988ee"/>
<rect y="289.14" width="10.51" height="3.35" fill="#00b2ca"/>
<rect y="291.48" width="10.51" height="3.35" fill="#00b0ce"/>
<rect y="293.83" width="10.51" height="3.35" fill="#1399e4"/>
<rect y="296.18" width="10.51" height="3.35" fill="#1e77fa"/>
<rect y="298.52" width="10.51" height="3.35" fill="#256cfd"/>
<rect y="300.87" width="10.51" height="3.35" fill="#1b81f3"/>
<rect y="303.22" width="10.51" height="3.35" fill="#fdbf3b"/>
<rect y="305.57" width="10.51" height="3.35" fill="#f5ba36"/>
<rect y="307.91" width="10.51" height="3.35" fill="#fec636"/>
<rect y="310.26" width="10.51" height="3.35" fill="#08a8d9"/>
<rect y="312.61" width="10.51" height="3.35" fill="#1a85f0"/>
<rect y="314.95" width="10.51" height="3.35" fill="#1b7ef6"/>
<rect y="317.30" width="10.51" height="3.35" fill="#1b81f3"/>
<rect y="319.65" width="10.51" height="3.35" fill="#1988ee"/>
<rect y="321.99" width="10.51" height="3.35" fill="#188cec"/>
<rect y="324.34" width="10.51" height="3.35" fill="#1e77fa"/>
<rect y="326.69" width="10.51" height="3.35" fill="#2968fe"/>
<rect y="329.03" width="10.51" height="3.35" fill="#256cfd"/>
<rect y="331.38" width="10.51" height="3.35" fill="#1b81f3"/>
<rect y="333.73" width="10.51" height="5.69" fill="#2074fb"/>
<rect y="338.42" width="10.51" height="3.35" fill="#1e77fa"/>
<rect y="340.77" width="10.51" height="3.35" fill="#1c7bf8"/>
<rect y="343.12" width="10.51" height="3.35" fill="#3b3cea"/>
<rect y="345.46" width="10.51" height="3.35" fill="#129ce2"/>
<rect y="347.81" width="10.51" height="3.35" fill="#0fa3de"/>
<rect y="350.16" width="10.51" height="3.35" fill="#1c7bf8"/>
<rect y="352.50" width="10.51" height="3.35" fill="#2270fd"/>
<rect y="354.85" width="10.51" height="5.69" fill="#1e77fa"/>
<rect y="359.54" width="10.51" height="3.35" fill="#168fea"/>
<rect y="361.89" width="10.51" height="3.35" fill="#1496e6"/>
<rect y="364.24" width="10.51" height="3.35" fill="#fec636"/>
<rect y="366.58" width="10.51" height="5.69" fill="#feca33"/>
<rect y="371.28" width="10.51" height="3.35" fill="#2074fb"/>
<rect y="373.62" width="10.51" height="3.35" fill="#1593e8"/>
<rect y="375.97" width="10.51" height="3.35" fill="#0fa3de"/>
<rect y="378.32" width="10.51" height="3.35" fill="#1988ee"/>
<rect y="380.67" width="10.51" height="3.35" fill="#168fea"/>
<rect y="383.01" width="10.51" height="3.35" fill="#364bf6"/>
<rect y="385.36" width="10.51" height="3.35" fill="#3847f3"/>
<rect y="387.71" width="10.51" height="3.35" fill="#1a85f0"/>
<rect y="390.05" width="10.51" height="5.35" fill="#168fea"/>
</g>
<g transform="translate(471.28 0)">
<rect y="239.20" width="10.51" height="6.35" fill="#1a85f0"/>
<rect y="244.55" width="10.51" height="3.35" fill="#1b81f3"/>
<rect y="246.89" width="10.51" height="3.35" fill="#1496e6"/>
<rect y="249.24" width="10.51" height="3.35" fill="#1593e8"/>
<rect y="251.59" width="10.51" height="3.35" fill="#256cfd"/>
<rect y="253.93" width="10.51" height="5.69" fill="#2270fd"/>
<rect y="258.63" width="10.51" height="3.35" fill="#168fea"/>
<rect y="260.97" width="10.51" height="3.35" fill="#1496e6"/>
<rect y="263.32" width="10.51" height="5.69" fill="#1b81f3"/>
<rect y="268.02" width="10.51" height="5.69" fill="#3944f1"/>
<rect y="272.71" width="10.51" height="3.35" fill="#3a40ee"/>
<rect y="275.06" width="10.51" height="3.35" fill="#354ef8"/>
<rect y="277.40" width="10.51" height="3.35" fill="#256cfd"/>
<rect y="279.75" width="10.51" height="5.69" fill="#1399e4"/>
<rect y="284.44" width="10.51" height="3.35" fill="#1988ee"/>
<rect y="286.79" width="10.51" height="3.35" fill="#129ce2"/>
<rect y="289.14" width="10.51" height="3.35" fill="#00aed2"/>
<rect y="291.48" width="10.51" height="3.35" fill="#08a8d9"/>
<rect y="293.83" width="10.51" height="3.35" fill="#256cfd"/>
<rect y="296.18" width="10.51" height="3.35" fill="#2968fe"/>
<rect y="298.52" width="10.51" height="3.35" fill="#1496e6"/>
<rect y="300.87" width="10.51" height="3.35" fill="#1b7ef6"/>
<rect y="303.22" width="10.51" height="3.35" fill="#2270fd"/>
<rect y="305.57" width="10.51" height="3.35" fill="#1399e4"/>
<rect y="307.91" width="10.51" height="3.35" fill="#109fe0"/>
<rect y="310.26" width="10.51" height="5.69" fill="#129ce2"/>
<rect y="314.95" width="10.51" height="3.35" fill="#0fa3de"/>
<rect y="317.30" width="10.51" height="3.35" fill="#1b81f3"/>
<rect y="319.65" width="10.51" height="5.69" fill="#109fe0"/>
<rect y="324.34" width="10.51" height="3.35" fill="#06b9bd"/>
<rect y="326.69" width="10.51" height="3.35" fill="#fdc339"/>
<rect y="329.03" width="10.51" height="3.35" fill="#fec636"/>
<rect y="331.38" width="10.51" height="3.35" fill="#1399e4"/>
<rect y="333.73" width="10.51" height="3.35" fill="#1a85f0"/>
<rect y="336.07" width="10.51" height="3.35" fill="#1b81f3"/>
<rect y="338.42" width="10.51" height="3.35" fill="#1b7ef6"/>
<rect y="340.77" width="10.51" height="3.35" fill="#1e77fa"/>
<rect y="343.12" width="10.51" height="3.35" fill="#2074fb"/>
<rect y="345.46" width="10.51" height="3.35" fill="#1b81f3"/>
<rect y="347.81" width="10.51" height="3.35" fill="#188cec"/>
<rect y="350.16" width="10.51" height="3.35" fill="#168fea"/>
<rect y="352.50" width="10.51" height="3.35" fill="#2fc69b"/>
<rect y="354.85" width="10.51" height="3.35" fill="#34c795"/>
<rect y="357.20" width="10.51" height="5.69" fill="#00b4c6"/>
<rect y="361.89" width="10.51" height="3.35" fill="#109fe0"/>
<rect y="364.24" width="10.51" height="3.35" fill="#0fa3de"/>
<rect y="366.58" width="10.51" height="3.35" fill="#fdc339"/>
<rect y="368.93" width="10.51" height="3.35" fill="#fdbf3b"/>
<rect y="371.28" width="10.51" height="3.35" fill="#1b81f3"/>
<rect y="373.62" width="10.51" height="3.35" fill="#2074fb"/>
<rect y="375.97" width="10.51" height="5.69" fill="#00b0ce"/>
<rect y="380.67" width="10.51" height="3.35" fill="#168fea"/>
<rect y="383.01" width="10.51" height="3.35" fill="#1e77fa"/>
<rect y="385.36" width="10.51" height="3.35" fill="#168fea"/>
<rect y="387.71" width="10.51" height="3.35" fill="#129ce2"/>
<rect y="390.05" width="10.51" height="5.35" fill="#109fe0"/>
</g>
<g transform="translate(480.78 0)">
<rect y="239.20" width="10.51" height="6.35" fill="#90ca4a"/>
<rect y="244.55" width="10.51" height="3.35" fill="#3ac98e"/>
<rect y="246.89" width="10.51" height="3.35" fill="#2fc69b"/>
<rect y="249.24" width="10.51" height="3.35" fill="#1b7ef6"/>
<rect y="251.59" width="10.51" height="3.35" fill="#1e77fa"/>
<rect y="253.93" width="10.51" height="3.35" fill="#2074fb"/>
<rect y="256.28" width="10.51" height="3.35" fill="#2968fe"/>
<rect y="258.63" width="10.51" height="3.35" fill="#3c39e7"/>
<rect y="260.97" width="10.51" height="3.35" fill="#2968fe"/>
<rect y="263.32" width="10.51" height="3.35" fill="#1a85f0"/>
<rect y="265.67" width="10.51" height="3.35" fill="#1399e4"/>
<rect y="268.02" width="10.51" height="3.35" fill="#354ef8"/>
<rect y="270.36" width="10.51" height="5.69" fill="#3847f3"/>
<rect y="275.06" width="10.51" height="3.35" fill="#3a40ee"/>
<rect y="277.40" width="10.51" height="3.35" fill="#1b81f3"/>
<rect y="279.75" width="10.51" height="3.35" fill="#1c7bf8"/>
<rect y="282.10" width="10.51" height="3.35" fill="#1b81f3"/>
<rect y="284.44" width="10.51" height="3.35" fill="#1a85f0"/>
<rect y="286.79" width="10.51" height="3.35" fill="#1496e6"/>
<rect y="289.14" width="10.51" height="3.35" fill="#1b7ef6"/>
<rect y="291.48" width="10.51" height="3.35" fill="#256cfd"/>
<rect y="293.83" width="10.51" height="3.35" fill="#2968fe"/>
<rect y="296.18" width="10.51" height="3.35" fill="#2270fd"/>
<rect y="298.52" width="10.51" height="3.35" fill="#3a40ee"/>
<rect y="300.87" width="10.51" height="3.35" fill="#3b3cea"/>
<rect y="303.22" width="10.51" height="3.35" fill="#1399e4"/>
<rect y="305.57" width="10.51" height="3.35" fill="#109fe0"/>
<rect y="307.91" width="10.51" height="3.35" fill="#1496e6"/>
<rect y="310.26" width="10.51" height="5.69" fill="#1b81f3"/>
<rect y="314.95" width="10.51" height="3.35" fill="#1593e8"/>
<rect y="317.30" width="10.51" height="3.35" fill="#2074fb"/>
<rect y="319.65" width="10.51" height="3.35" fill="#2270fd"/>
<rect y="321.99" width="10.51" height="3.35" fill="#1c7bf8"/>
<rect y="324.34" width="10.51" height="3.35" fill="#168fea"/>
<rect y="326.69" width="10.51" height="3.35" fill="#1399e4"/>
<rect y="329.03" width="10.51" height="3.35" fill="#0ca6dc"/>
<rect y="331.38" width="10.51" height="3.35" fill="#168fea"/>
<rect y="333.73" width="10.51" height="3.35" fill="#2074fb"/>
<rect y="336.07" width="10.51" height="5.69" fill="#2968fe"/>
<rect y="340.77" width="10.51" height="3.35" fill="#2270fd"/>
<rect y="343.12" width="10.51" height="3.35" fill="#1e77fa"/>
<rect y="345.46" width="10.51" height="3.35" fill="#2074fb"/>
<rect y="347.81" width="10.51" height="3.35" fill="#1e77fa"/>
<rect y="350.16" width="10.51" height="3.35" fill="#2968fe"/>
<rect y="352.50" width="10.51" height="3.35" fill="#2074fb"/>
<rect y="354.85" width="10.51" height="3.35" fill="#3e32de"/>
<rect y="357.20" width="10.51" height="3.35" fill="#1b7ef6"/>
<rect y="359.54" width="10.51" height="3.35" fill="#1593e8"/>
<rect y="361.89" width="10.51" height="3.35" fill="#188cec"/>
<rect y="364.24" width="10.51" height="5.69" fill="#109fe0"/>
<rect y="368.93" width="10.51" height="3.35" fill="#1593e8"/>
<rect y="371.28" width="10.51" height="5.69" fill="#0fa3de"/>
<rect y="375.97" width="10.51" height="3.35" fill="#00b2ca"/>
<rect y="378.32" width="10.51" height="3.35" fill="#00aed2"/>
<rect y="380.67" width="10.51" height="3.35" fill="#1c7bf8"/>
<rect y="383.01" width="10.51" height="3.35" fill="#1496e6"/>
<rect y="385.36" width="10.51" height="3.35" fill="#0ca6dc"/>
<rect y="387.71" width="10.51" height="3.35" fill="#1e77fa"/>
<rect y="390.05" width="10.51" height="5.35" fill="#1b7ef6"/>
</g>
<g transform="translate(490.29 0)">
<rect y="239.20" width="10.51" height="6.35" fill="#fbd62d"/>
<rect y="244.55" width="10.51" height="3.35" fill="#00b4c6"/>
<rect y="246.89" width="10.51" height="3.35" fill="#256cfd"/>
<rect y="249.24" width="10.51" height="3.35" fill="#1593e8"/>
<rect y="251.59" width="10.51" height="3.35" fill="#0ca6dc"/>
<rect y="253.93" width="10.51" height="3.35" fill="#1593e8"/>
<rect y="256.28" width="10.51" height="8.04" fill="#1496e6"/>
<rect y="263.32" width="10.51" height="3.35" fill="#129ce2"/>
<rect y="265.67" width="10.51" height="3.35" fill="#188cec"/>
<rect y="268.02" width="10.51" height="5.69" fill="#2074fb"/>
<rect y="272.71" width="10.51" height="3.35" fill="#2270fd"/>
<rect y="275.06" width="10.51" height="5.69" fill="#2968fe"/>
<rect y="279.75" width="10.51" height="3.35" fill="#256cfd"/>
<rect y="282.10" width="10.51" height="3.35" fill="#1c7bf8"/>
<rect y="284.44" width="10.51" height="3.35" fill="#109fe0"/>
<rect y="286.79" width="10.51" height="3.35" fill="#00b2ca"/>
<rect y="289.14" width="10.51" height="3.35" fill="#168fea"/>
<rect y="291.48" width="10.51" height="3.35" fill="#256cfd"/>
<rect y="293.83" width="10.51" height="3.35" fill="#2074fb"/>
<rect y="296.18" width="10.51" height="3.35" fill="#1b81f3"/>
<rect y="298.52" width="10.51" height="3.35" fill="#3c39e7"/>
<rect y="300.87" width="10.51" height="3.35" fill="#3e32de"/>
<rect y="303.22" width="10.51" height="3.35" fill="#1988ee"/>
<rect y="305.57" width="10.51" height="3.35" fill="#256cfd"/>
<rect y="307.91" width="10.51" height="5.69" fill="#2968fe"/>
<rect y="312.61" width="10.51" height="3.35" fill="#1b7ef6"/>
<rect y="314.95" width="10.51" height="3.35" fill="#14bdb3"/>
<rect y="317.30" width="10.51" height="3.35" fill="#109fe0"/>
<rect y="319.65" width="10.51" height="3.35" fill="#1988ee"/>
<rect y="321.99" width="10.51" height="3.35" fill="#0ca6dc"/>
<rect y="324.34" width="10.51" height="3.35" fill="#3944f1"/>
<rect y="326.69" width="10.51" height="3.35" fill="#3b3cea"/>
<rect y="329.03" width="10.51" height="3.35" fill="#3a40ee"/>
<rect y="331.38" width="10.51" height="3.35" fill="#3847f3"/>
<rect y="333.73" width="10.51" height="3.35" fill="#1496e6"/>
<rect y="336.07" width="10.51" height="3.35" fill="#109fe0"/>
<rect y="338.42" width="10.51" height="3.35" fill="#0fa3de"/>
<rect y="340.77" width="10.51" height="3.35" fill="#1496e6"/>
<rect y="343.12" width="10.51" height="3.35" fill="#168fea"/>
<rect y="345.46" width="10.51" height="3.35" fill="#1593e8"/>
<rect y="347.81" width="10.51" height="3.35" fill="#1b81f3"/>
<rect y="350.16" width="10.51" height="3.35" fill="#1c7bf8"/>
<rect y="352.50" width="10.51" height="5.69" fill="#4029c5"/>
<rect y="357.20" width="10.51" height="3.35" fill="#3c22b0"/>
<rect y="359.54" width="10.51" height="3.35" fill="#04abd5"/>
<rect y="361.89" width="10.51" height="3.35" fill="#00aed2"/>
<rect y="364.24" width="10.51" height="3.35" fill="#0fa3de"/>
<rect y="366.58" width="10.51" height="3.35" fill="#00b4c6"/>
<rect y="368.93" width="10.51" height="3.35" fill="#188cec"/>
<rect y="371.28" width="10.51" height="3.35" fill="#2074fb"/>
<rect y="373.62" width="10.51" height="3.35" fill="#256cfd"/>
<rect y="375.97" width="10.51" height="3.35" fill="#a9c63c"/>
<rect y="378.32" width="10.51" height="3.35" fill="#90ca4a"/>
<rect y="380.67" width="10.51" height="3.35" fill="#00b2ca"/>
<rect y="383.01" width="10.51" height="3.35" fill="#00aed2"/>
<rect y="385.36" width="10.51" height="3.35" fill="#fcd22f"/>
<rect y="387.71" width="10.51" height="3.35" fill="#fbd62d"/>
<rect y="390.05" width="10.51" height="5.35" fill="#00b0ce"/>
</g>
<g transform="translate(499.80 0)">
<rect y="239.20" width="12.51" height="8.69" fill="#0ca6dc"/>
<rect y="246.89" width="12.51" height="3.35" fill="#1399e4"/>
<rect y="249.24" width="12.51" height="3.35" fill="#1b7ef6"/>
<rect y="251.59" width="12.51" height="3.35" fill="#1e77fa"/>
<rect y="253.93" width="12.51" height="3.35" fill="#1b81f3"/>
<rect y="256.28" width="12.51" height="3.35" fill="#188cec"/>
<rect y="258.63" width="12.51" height="3.35" fill="#1c7bf8"/>
<rect y="260.97" width="12.51" height="3.35" fill="#2968fe"/>
<rect y="263.32" width="12.51" height="3.35" fill="#00b2ca"/>
<rect y="265.67" width="12.51" height="3.35" fill="#00aed2"/>
<rect y="268.02" width="12.51" height="3.35" fill="#1b7ef6"/>
<rect y="270.36" width="12.51" height="3.35" fill="#1496e6"/>
<rect y="272.71" width="12.51" height="3.35" fill="#1399e4"/>
<rect y="275.06" width="12.51" height="3.35" fill="#1c7bf8"/>
<rect y="277.40" width="12.51" height="3.35" fill="#1399e4"/>
<rect y="279.75" width="12.51" height="3.35" fill="#08a8d9"/>
<rect y="282.10" width="12.51" height="3.35" fill="#1988ee"/>
<rect y="284.44" width="12.51" height="3.35" fill="#2270fd"/>
<rect y="286.79" width="12.51" height="3.35" fill="#1e77fa"/>
<rect y="289.14" width="12.51" height="3.35" fill="#168fea"/>
<rect y="291.48" width="12.51" height="3.35" fill="#1e77fa"/>
<rect y="293.83" width="12.51" height="5.69" fill="#2968fe"/>
<rect y="298.52" width="12.51" height="3.35" fill="#3847f3"/>
<rect y="300.87" width="12.51" height="3.35" fill="#3a40ee"/>
<rect y="303.22" width="12.51" height="3.35" fill="#2074fb"/>
<rect y="305.57" width="12.51" height="3.35" fill="#1e77fa"/>
<rect y="307.91" width="12.51" height="5.69" fill="#2968fe"/>
<rect y="312.61" width="12.51" height="3.35" fill="#2270fd"/>
<rect y="314.95" width="12.51" height="3.35" fill="#1a85f0"/>
<rect y="317.30" width="12.51" height="3.35" fill="#2270fd"/>
<rect y="319.65" width="12.51" height="3.35" fill="#1c7bf8"/>
<rect y="321.99" width="12.51" height="3.35" fill="#1399e4"/>
<rect y="324.34" width="12.51" height="3.35" fill="#1593e8"/>
<rect y="326.69" width="12.51" height="3.35" fill="#2074fb"/>
<rect y="329.03" width="12.51" height="3.35" fill="#188cec"/>
<rect y="331.38" width="12.51" height="3.35" fill="#00b0ce"/>
<rect y="333.73" width="12.51" height="3.35" fill="#109fe0"/>
<rect y="336.07" width="12.51" height="3.35" fill="#1496e6"/>
<rect y="338.42" width="12.51" height="3.35" fill="#1c7bf8"/>
<rect y="340.77" width="12.51" height="3.35" fill="#256cfd"/>
<rect y="343.12" width="12.51" height="3.35" fill="#3847f3"/>
<rect y="345.46" width="12.51" height="3.35" fill="#364bf6"/>
<rect y="347.81" width="12.51" height="5.69" fill="#2968fe"/>
<rect y="352.50" width="12.51" height="3.35" fill="#129ce2"/>
<rect y="354.85" width="12.51" height="3.35" fill="#1496e6"/>
<rect y="357.20" width="12.51" height="5.69" fill="#3e32de"/>
<rect y="361.89" width="12.51" height="3.35" fill="#1e77fa"/>
<rect y="364.24" width="12.51" height="3.35" fill="#1b7ef6"/>
<rect y="366.58" width="12.51" height="3.35" fill="#3455fb"/>
<rect y="368.93" width="12.51" height="3.35" fill="#354ef8"/>
<rect y="371.28" width="12.51" height="3.35" fill="#3359fd"/>
<rect y="373.62" width="12.51" height="3.35" fill="#354ef8"/>
<rect y="375.97" width="12.51" height="3.35" fill="#3552f9"/>
<rect y="378.32" width="12.51" height="3.35" fill="#00aed2"/>
<rect y="380.67" width="12.51" height="3.35" fill="#0fa3de"/>
<rect y="383.01" width="12.51" height="3.35" fill="#40ca87"/>
<rect y="385.36" width="12.51" height="3.35" fill="#fdce31"/>
<rect y="387.71" width="12.51" height="3.35" fill="#f5e625"/>
<rect y="390.05" width="12.51" height="5.35" fill="#f6f21d"/>
</g>
</g></g>
</g>
<g id="cb-d">
<defs><linearGradient id="grad-d" x1="0" y1="0" x2="0" y2="1"><stop offset="0.0000" stop-color="#f9fb15"/><stop offset="0.0208" stop-color="#f6f21d"/><stop offset="0.0417" stop-color="#f5e923"/><stop offset="0.0625" stop-color="#f6e128"/><stop offset="0.0833" stop-color="#fad92c"/><stop offset="0.1042" stop-color="#fcd030"/><stop offset="0.1250" stop-color="#fec835"/><stop offset="0.1458" stop-color="#fdc13a"/><stop offset="0.1667" stop-color="#f9bc39"/><stop offset="0.1875" stop-color="#f2ba34"/><stop offset="0.2083" stop-color="#e6bb2b"/><stop offset="0.2292" stop-color="#d8bd29"/><stop offset="0.2500" stop-color="#cac02b"/><stop offset="0.2708" stop-color="#b9c433"/><stop offset="0.2917" stop-color="#a8c73c"/><stop offset="0.3125" stop-color="#97c946"/><stop offset="0.3333" stop-color="#85cc51"/><stop offset="0.3542" stop-color="#74cc5c"/><stop offset="0.3750" stop-color="#62cd69"/><stop offset="0.3958" stop-color="#51cc77"/><stop offset="0.4167" stop-color="#42ca85"/><stop offset="0.4375" stop-color="#36c893"/><stop offset="0.4583" stop-color="#2ac5a0"/><stop offset="0.4792" stop-color="#1cc0ad"/><stop offset="0.5000" stop-color="#0dbbb9"/><stop offset="0.5208" stop-color="#00b6c2"/><stop offset="0.5417" stop-color="#00b2cb"/><stop offset="0.5625" stop-color="#01add3"/><stop offset="0.5833" stop-color="#0aa7da"/><stop offset="0.6042" stop-color="#0fa1df"/><stop offset="0.6250" stop-color="#139be3"/><stop offset="0.6458" stop-color="#1594e7"/><stop offset="0.6667" stop-color="#178deb"/><stop offset="0.6875" stop-color="#1a86f0"/><stop offset="0.7083" stop-color="#1b7ff5"/><stop offset="0.7292" stop-color="#1e77f9"/><stop offset="0.7500" stop-color="#2270fd"/><stop offset="0.7708" stop-color="#2a68fe"/><stop offset="0.7917" stop-color="#2f60fe"/><stop offset="0.8125" stop-color="#3358fc"/><stop offset="0.8333" stop-color="#3551f9"/><stop offset="0.8542" stop-color="#3749f5"/><stop offset="0.8750" stop-color="#3a42ef"/><stop offset="0.8958" stop-color="#3c3ae8"/><stop offset="0.9167" stop-color="#3d33df"/><stop offset="0.9375" stop-color="#3f2ed5"/><stop offset="0.9583" stop-color="#402ac6"/><stop offset="0.9792" stop-color="#3d24b8"/><stop offset="1.0000" stop-color="#3b1fa8"/></linearGradient></defs>
<rect x="512.4" y="242.20" width="9.1" height="150.20" fill="url(#grad-d)"/>
<rect x="519.9" y="246.7" width="1.6" height="0.7" fill="#222" opacity="0.7"/>
<rect x="519.9" y="271.1" width="1.6" height="0.7" fill="#222" opacity="0.7"/>
<rect x="519.9" y="298.6" width="1.6" height="0.7" fill="#222" opacity="0.7"/>
<rect x="519.9" y="325.1" width="1.6" height="0.7" fill="#222" opacity="0.7"/>
<rect x="519.9" y="354.8" width="1.6" height="0.7" fill="#222" opacity="0.7"/>
<rect x="519.9" y="382.4" width="1.6" height="0.7" fill="#222" opacity="0.7"/>
<rect x="519.9" y="258.9" width="1.6" height="0.7" fill="#222" opacity="0.7"/>
<rect x="519.9" y="284.9" width="1.6" height="0.7" fill="#222" opacity="0.7"/>
<rect x="519.9" y="311.9" width="1.6" height="0.7" fill="#222" opacity="0.7"/>
<rect x="519.9" y="340.0" width="1.6" height="0.7" fill="#222" opacity="0.7"/>
<rect x="519.9" y="368.6" width="1.6" height="0.7" fill="#222" opacity="0.7"/>
</g>
<g class="lb" id="lb-d">
<text x="282" y="247.5" font-size="13.4" text-anchor="start">(d)</text>
<text x="317" y="251.9" font-size="11.5" text-anchor="end">−15</text>
<text x="317" y="275.1" font-size="11.5" text-anchor="end">−10</text>
<text x="317" y="298.9" font-size="11.5" text-anchor="end">−5</text>
<text x="317" y="320.7" font-size="11.5" text-anchor="end">0</text>
<text x="317" y="344.5" font-size="11.5" text-anchor="end">5</text>
<text x="317" y="368.5" font-size="11.5" text-anchor="end">10</text>
<text x="317" y="392.4" font-size="11.5" text-anchor="end">15</text>
<text x="338.8" y="402.7" font-size="11.5" text-anchor="middle">−4</text>
<text x="358.7" y="402.7" font-size="11.5" text-anchor="middle">−3</text>
<text x="377.7" y="402.7" font-size="11.5" text-anchor="middle">−2</text>
<text x="396" y="402.7" font-size="11.5" text-anchor="middle">−1</text>
<text x="420" y="402.7" font-size="11.5" text-anchor="middle">0</text>
<text x="437.9" y="402.7" font-size="11.5" text-anchor="middle">1</text>
<text x="457.5" y="402.7" font-size="11.5" text-anchor="middle">2</text>
<text x="476.7" y="402.7" font-size="11.5" text-anchor="middle">3</text>
<text x="494.2" y="402.7" font-size="11.5" text-anchor="middle">4</text>
<text x="419.4" y="415.8" font-size="14.15" text-anchor="middle">Doppler (KHz)</text>
<text transform="translate(296.6 316.6) rotate(-90)" font-size="14" text-anchor="middle">Delay (chips)</text>
<text x="522.7" y="251" font-size="11.5" text-anchor="start">7</text>
<text x="522.7" y="275.5" font-size="11.5" text-anchor="start">6</text>
<text x="522.7" y="303" font-size="11.5" text-anchor="start">5</text>
<text x="522.7" y="329.5" font-size="11.5" text-anchor="start">4</text>
<text x="522.7" y="359.2" font-size="11.5" text-anchor="start">3</text>
<text x="522.7" y="386.8" font-size="11.5" text-anchor="start">2</text>
<text x="521.5" y="241.6" font-size="11.5">×<tspan dx="1.2" letter-spacing="0.2">10</tspan><tspan font-size="6.8" dy="-3.6">4</tspan></text>
</g>
</svg>
</body></html>
